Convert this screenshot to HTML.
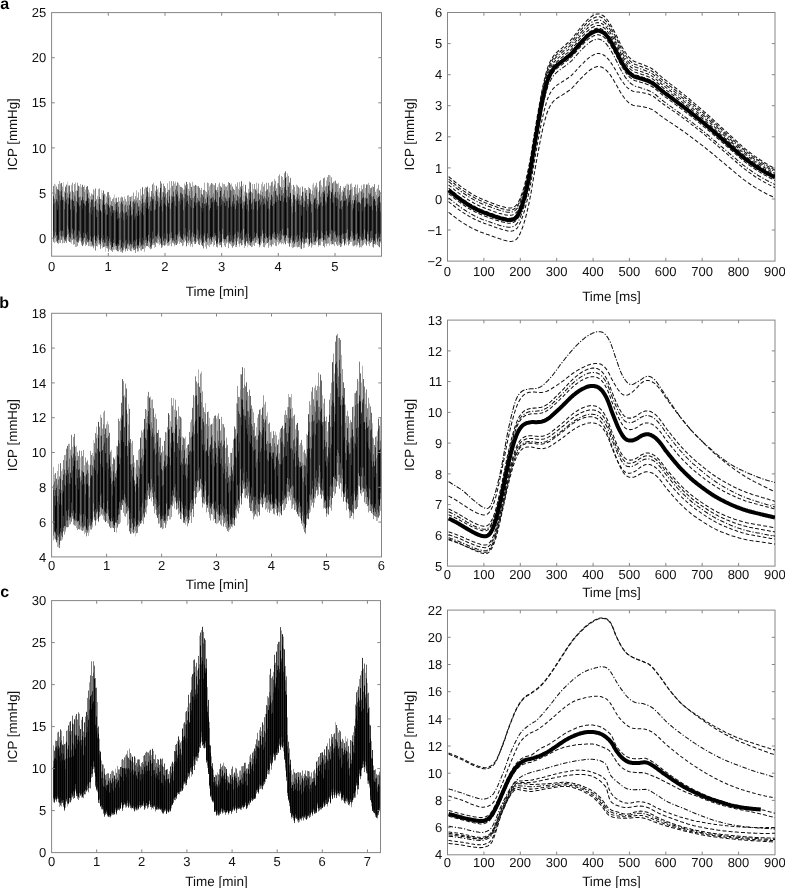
<!DOCTYPE html><html><head><meta charset="utf-8"><title>ICP</title><style>html,body{margin:0;padding:0;background:#fff}svg{display:block}text{font-family:"Liberation Sans", Arial, Helvetica, sans-serif;text-rendering:geometricPrecision}</style></head><body>
<svg width="785" height="888" viewBox="0 0 785 888">
<rect width="785" height="888" fill="#fff"/>
<text x="0.2" y="8.8" font-size="16" font-weight="bold" fill="#000">a</text>
<text x="-0.7" y="307.8" font-size="16" font-weight="bold" fill="#000">b</text>
<text x="0.2" y="597.4" font-size="16" font-weight="bold" fill="#000">c</text>
<clipPath id="ca"><rect x="51.6" y="12.6" width="329.9" height="243.6"/></clipPath>
<g clip-path="url(#ca)">
<path d="M55.5 184.5V242.3M63.5 182.1V242.9M67.5 181.6V239.4M67.5 197.2V226.1M71.5 199V240.4M75.5 191.1V239.9M75.5 197.5V237.8M94.5 190.4V246.1M94.5 201.7V239.7M97.5 203V242.7M101.5 190V245.9M101.5 199.3V240.8M105.5 194.7V251.8M114.5 194.3V250.3M124.5 213.9V242.9M128.5 200.8V242.9M132.5 196V249.1M144.5 205.6V241.4M149.5 194.9V241.4M154.5 185V248.1M158.5 187.6V243.8M158.5 202.1V232.7M166.5 193.1V244.2M166.5 197.8V239.1M170.5 187.8V243.9M170.5 199.3V240M178.5 194.9V238.2M188.5 195.9V240.6M192.5 190.7V241.8M196.5 193.6V238.3M218.5 184.3V244.4M218.5 190V239.5M243.5 183.7V242.4M243.5 195.2V240.2M247.5 193.1V247.3M257.5 188.6V244M269.5 185.5V245.7M287.5 185.5V237.4M291.5 185.2V247M295.5 191.3V246.8M307.5 189.8V244.5M312.5 184.6V246.1M312.5 204.5V232.8M330.5 175.7V243.9M330.5 190.5V241.1M338.5 191.6V240.5M346.5 183.9V245.3M351.5 188.9V239.1M356.5 187.9V247.1M360.5 204.2V241M364.5 198.3V239.6M376.5 189.5V244.3" fill="none" stroke="#000" stroke-width="1" stroke-opacity="0.2"/>
<path d="M54.5 183.8V243.2M54.5 203.2V237.6M55.5 193.8V238M55.5 202.3V232.3M59.5 181V242.7M59.5 190.8V239.7M59.5 195.4V232.1M60.5 191.5V235.9M63.5 197.1V235.7M63.5 199.7V237.6M64.5 201V240.1M67.5 192.7V234.9M70.5 199.6V236.5M71.5 184.8V243.6M71.5 200.4V233.1M75.5 182.4V247M76.5 190.3V246.9M79.5 186.5V240.8M80.5 183.9V241.2M80.5 196.5V237.7M80.5 205.2V234M81.5 187.1V244.8M84.5 185.4V242.2M84.5 192V237.5M85.5 189.4V246M85.5 200.8V243.9M89.5 192.4V245.9M89.5 198.9V240.3M89.5 212.8V239.4M90.5 196V246.5M90.5 202.1V241.3M97.5 195.9V246.6M98.5 189.1V244.3M98.5 199.1V239.7M102.5 193.1V248.2M102.5 200.3V242.6M102.5 204.7V242.2M105.5 203.7V246.3M106.5 196.4V248M109.5 195.2V249.4M109.5 206.7V243.3M110.5 197.2V250.1M114.5 202.3V246.6M114.5 210.2V242.9M115.5 198.2V249.5M119.5 201.2V249.7M119.5 213.3V245.2M119.5 217.9V240.1M120.5 197.8V252.1M120.5 203.7V249.4M120.5 212.1V239.9M124.5 196.6V248.5M124.5 205.4V245.5M128.5 195V249M128.5 209.4V244.5M129.5 197V249.8M131.5 196V251.5M131.5 206.9V248.4M132.5 201.6V247.1M132.5 214.3V243.9M136.5 190.4V248.4M136.5 200.2V245.8M139.5 206.3V242.4M140.5 188.9V250.3M140.5 201V246.6M144.5 188.8V251.8M144.5 202V246.2M145.5 187V248.1M145.5 199.4V243.1M148.5 192.3V247M148.5 197V240.4M149.5 188V248.2M153.5 182.7V245.2M153.5 193.5V243M154.5 196.1V245M154.5 210.1V243.3M158.5 197V239.7M159.5 192.3V245.3M159.5 197.9V242.1M162.5 191.8V247.1M162.5 196.9V245.2M162.5 211.4V236.7M166.5 206.4V240.4M167.5 183.2V245.8M169.5 181.2V245.4M170.5 208.8V238M174.5 183.6V246.2M174.5 196.3V244.2M174.5 201V241.2M175.5 181.6V245M178.5 183.3V241.3M178.5 201.4V233.6M179.5 185.1V243.9M179.5 198.4V236.4M179.5 201.2V231.4M183.5 189.7V245.3M183.5 197.4V241.8M184.5 183.5V242.2M184.5 189.5V238.2M184.5 198.3V236.4M188.5 188.9V245M189.5 182.2V242.8M189.5 190.9V239.4M192.5 181.9V247.1M192.5 198.1V232.5M193.5 185.7V242M193.5 198.2V235.6M196.5 185.6V242.4M197.5 186.3V241.3M197.5 202.3V229M200.5 189.9V242.5M200.5 197.7V239.7M200.5 206.6V234.4M204.5 182.5V243M204.5 189.9V236.3M205.5 190.9V246.7M208.5 183.1V245.8M208.5 190.3V237.7M208.5 205V237.8M209.5 186.4V247.1M209.5 195.6V242.5M213.5 184.7V246.5M213.5 193.3V239.1M213.5 197.8V235.9M218.5 205.7V237.8M222.5 182.8V241.4M222.5 196.6V234.1M223.5 184.1V243M223.5 193.7V239.1M226.5 198.7V241.4M227.5 185.4V242.5M227.5 190.8V235.2M228.5 198.1V242M231.5 183.4V246M231.5 190.8V241.6M234.5 197.5V239.3M235.5 184.2V247.1M235.5 194V241.3M238.5 188.7V243.7M239.5 182V246.7M239.5 190V243.9M239.5 198.8V239.2M242.5 185.9V245M242.5 200.4V239.3M244.5 191.5V248M248.5 188.8V245.3M248.5 193.3V243.2M248.5 211.1V233.8M252.5 184.1V246.7M253.5 188.9V244.9M253.5 199.2V239.1M256.5 182.6V242.6M256.5 190.7V239.7M257.5 193.8V240.6M257.5 210V235.7M261.5 184.3V243.5M261.5 195.1V239.2M262.5 182V241.2M262.5 192V233.6M265.5 191.3V245.2M265.5 197.8V239.1M265.5 205.1V233.6M269.5 192.3V239.7M269.5 209.4V235.5M273.5 186.5V244.8M273.5 191.5V238M273.5 203.9V233.8M274.5 178.8V242.8M277.5 183.2V242.3M277.5 195.3V237.9M278.5 176V244.9M278.5 183.1V239.9M282.5 176.9V243.1M282.5 187.7V235.3M283.5 179.8V244.4M286.5 176.9V241.1M287.5 173.5V243M291.5 199V239.8M291.5 206.4V235.8M292.5 189.4V248.2M292.5 202.5V243.1M292.5 212.8V242M295.5 199.2V239.7M295.5 212V242.4M296.5 184.7V246.5M296.5 197.2V242.6M299.5 188.4V247.1M299.5 195.4V245.2M300.5 187.4V248.6M300.5 199.8V242.2M303.5 191.6V248.2M303.5 198.3V244M304.5 187.9V247.7M307.5 199V237.6M308.5 186.8V246.9M312.5 190.5V244M313.5 183.1V244.9M313.5 195V242M317.5 187.2V241.5M317.5 200.1V236.7M318.5 192V246.8M321.5 185.2V241.6M321.5 193.7V238.1M321.5 202V231.5M322.5 187V241.9M322.5 191.7V238M325.5 205.3V235.5M326.5 180.4V246.1M326.5 186.3V243.3M329.5 174.8V245.8M333.5 195.1V240.4M334.5 181.5V246.1M334.5 194V241.8M337.5 192.1V241.7M338.5 182.8V245.4M338.5 199.3V236.7M341.5 191.8V246.7M342.5 190.1V243.3M342.5 195.8V238.8M343.5 186.7V241.6M346.5 199.5V238.3M347.5 183.6V241.9M347.5 189.5V239.2M351.5 183.4V242M351.5 204.2V231M352.5 187.2V245.5M352.5 210.1V232.7M355.5 193.7V239.7M356.5 193.8V245.1M356.5 200.4V234.6M360.5 191.1V247M361.5 185.4V247.5M364.5 184.3V242.9M365.5 188V244M368.5 182.9V244.2M368.5 192.8V241.1M368.5 203.6V234.5M372.5 185.9V246.7M372.5 197.2V239.7M376.5 195.2V238.6M376.5 211.3V233.7M380.5 192.2V242.9" fill="none" stroke="#000" stroke-width="1" stroke-opacity="0.3"/>
<path d="M54.5 198.8V235.7M56.5 199V236M56.5 200.3V235.1M58.5 184.1V243.8M60.5 183.6V242.9M62.5 186.6V243.3M62.5 196.9V236.7M64.5 191.5V243.1M64.5 209.4V239M66.5 203.2V237.4M68.5 185.5V241M68.5 197.7V234.2M70.5 191.6V242.3M72.5 182.7V240.2M72.5 190.6V234.7M73.5 192.1V244.7M74.5 184V244.2M74.5 195.4V239.5M76.5 201.1V241.5M76.5 212.5V236.8M77.5 182.7V246M79.5 197.1V238.1M86.5 200.7V240.4M88.5 189.7V246.1M90.5 207.4V236.2M91.5 193.5V246.4M92.5 194.5V246.4M93.5 189.4V248.4M93.5 195.1V246.3M93.5 206.9V237.1M94.5 206.9V235.6M97.5 209.9V237.9M98.5 211.2V234.8M99.5 188.5V244.7M101.5 211.8V238.2M105.5 209.5V242.5M106.5 202.7V245.9M106.5 214.9V239.2M108.5 197.8V246.6M110.5 204.9V245.1M110.5 211.5V241.8M112.5 199.1V251.9M113.5 197.6V249.8M115.5 203.9V244M115.5 211.6V245.7M118.5 197.2V251.5M121.5 196.6V251.8M123.5 200.7V250.4M123.5 212.7V247.2M123.5 220.2V243.1M125.5 199.1V251.5M125.5 204.7V249.1M126.5 201.6V249.3M127.5 195.6V251M127.5 205.7V244.6M129.5 216.4V240.6M133.5 192.6V250.3M135.5 196.1V253M135.5 201.7V249.1M136.5 213.5V239.5M137.5 197.7V251.6M138.5 192.4V251.3M139.5 200V248.2M139.5 215.3V238.4M140.5 210.4V242.3M141.5 195.5V250.8M141.5 203.7V246M143.5 194.3V248.9M143.5 202.6V244.9M145.5 203.3V240M149.5 206V242.4M150.5 196.8V249.2M155.5 190.6V247M155.5 200.6V241.6M157.5 189.4V243.3M157.5 195.8V238.6M163.5 183.6V245.1M163.5 203.6V240.4M165.5 188.1V245.2M165.5 194.3V242.4M168.5 189.9V245.7M169.5 189.9V240.8M171.5 181.1V246.4M171.5 195.6V238.1M173.5 181.4V243.4M175.5 189.5V242.9M175.5 205.6V234.8M177.5 191.4V236.2M182.5 187.9V246.1M183.5 210.3V234.1M186.5 188.4V242.3M187.5 184.2V243M188.5 204V240.9M189.5 195.5V229.9M190.5 183.4V246.4M194.5 185.8V244M196.5 202.9V234.8M197.5 198V239.1M201.5 187.9V245M201.5 194V240.6M205.5 198.8V240.2M205.5 203.8V241.2M206.5 192V248.7M207.5 182.6V244.8M207.5 194.2V238.6M209.5 210V239.5M210.5 184.6V244.7M212.5 183.7V242.2M212.5 196.8V235.5M214.5 185.3V245M217.5 187.1V247.5M217.5 192.2V243.6M219.5 182.7V245.4M221.5 199V240.4M222.5 200.6V228.8M223.5 201.4V238.4M224.5 184.2V245.6M224.5 190.2V241.5M225.5 186.4V247M226.5 186.7V243.4M227.5 200.9V235.6M228.5 182V248.2M230.5 184.6V244.3M230.5 204.7V234.9M231.5 206.5V240.4M234.5 190V244.7M235.5 209.1V233.5M236.5 186.5V246.9M237.5 182.5V241.4M238.5 196.6V236.8M243.5 202.3V229M244.5 201.3V244.3M247.5 198.5V241M249.5 181.5V244.9M251.5 192.1V247.1M252.5 193V239.1M252.5 201.8V241M253.5 209.4V240.9M254.5 184V246M258.5 183.5V243.8M259.5 193.7V247.3M260.5 190.3V245.6M260.5 194.9V242.2M261.5 201.8V236.2M262.5 196.2V230.2M263.5 186.5V246.9M264.5 184.2V247.3M264.5 196.3V242.5M266.5 182.7V243.5M266.5 190.6V236.5M266.5 199.3V237.3M268.5 182.9V247.7M268.5 208V236.5M270.5 185.7V245.3M272.5 181.4V244.4M272.5 196.7V236.7M274.5 184.5V238.6M275.5 180.9V245.7M276.5 188.3V246.3M276.5 194.9V240.2M278.5 200.2V235.6M279.5 174.4V243.4M279.5 185.6V241.2M281.5 176.1V244.2M281.5 190V239.1M282.5 195.4V229M283.5 193.2V236.3M284.5 173V242.8M286.5 190V235.6M287.5 196.3V228.2M288.5 175.9V243.6M290.5 193.9V239.6M294.5 186.7V246.8M296.5 200.9V236.6M297.5 185.5V247.5M299.5 201V235.5M303.5 207V239M304.5 200.7V243.9M305.5 188V243.2M307.5 204.1V232.7M308.5 199V239.2M311.5 193.9V247.6M311.5 204.1V241.9M313.5 202.3V236.9M314.5 187.5V245.1M315.5 185.5V245.2M316.5 182.7V242.5M316.5 189.4V238.3M317.5 208.9V230.4M320.5 180.1V245.3M320.5 196.7V239.2M322.5 206.1V233.1M324.5 177.5V247.4M325.5 186.4V243.8M325.5 200.8V240.4M326.5 202.7V231.1M327.5 177.1V243.7M327.5 193.3V238.5M328.5 175.1V243.4M329.5 182.2V237.3M329.5 190.5V233.1M330.5 198.4V234M331.5 177.3V244.5M333.5 181.7V244.4M333.5 203.1V232.7M334.5 197.1V231.5M337.5 183.9V245.9M339.5 188V244.9M339.5 194.5V242.5M342.5 206.4V233.5M345.5 185.8V243.6M347.5 205.8V229.3M349.5 190.3V244M350.5 183.9V241.9M350.5 200.2V236.2M352.5 200.2V238.4M353.5 195.5V246.5M355.5 184.6V244.9M355.5 197.3V234.2M357.5 184.6V245.2M359.5 188.2V247.5M360.5 203.6V236.8M361.5 199.8V238.7M363.5 184.4V244.9M363.5 192.9V237.1M364.5 207.4V229.7M365.5 197.6V238.6M367.5 184.5V241.7M367.5 198.1V234.4M369.5 185.1V246.1M371.5 196.3V240.3M372.5 210.1V237.9M375.5 191.7V244.9M375.5 201V242.9M377.5 188.6V245.1M377.5 198.2V241.9M378.5 184.8V246.2M380.5 202.5V241.1M380.5 211.8V233.8" fill="none" stroke="#000" stroke-width="1" stroke-opacity="0.4"/>
<path d="M53.5 186V241.9M53.5 204.4V230.9M56.5 186.5V241.5M57.5 201.4V241.4M58.5 205.2V238.5M60.5 200.4V230.6M61.5 190.7V236.4M65.5 193V239.5M66.5 184.6V242.8M66.5 199.3V237.2M78.5 197.6V240.1M79.5 206.3V231.4M81.5 199.9V242.7M83.5 187V244.5M83.5 200.1V239.5M84.5 203.8V238M85.5 205.7V233.4M86.5 186.8V244.9M88.5 197.9V242.1M92.5 210.4V238M95.5 188.4V250.6M96.5 199.3V246.1M96.5 209.5V240.9M99.5 197V242.7M100.5 199V248.8M104.5 193.9V246.7M104.5 213.2V237.9M107.5 192.3V248.5M107.5 204.3V245.8M108.5 191.9V251.7M109.5 207.7V238.6M111.5 201.2V250.7M111.5 205.9V248.8M111.5 216.1V241.9M113.5 212.9V239.4M116.5 197.7V250.2M117.5 211.6V248.5M118.5 206.7V246M121.5 217.7V247.6M122.5 197.4V252.8M122.5 204V250.1M130.5 196.9V251M134.5 199.3V250M135.5 216.5V241.5M137.5 202.8V248.6M143.5 215.2V240.5M146.5 196.6V239.6M147.5 191.3V242.8M150.5 201.4V247.1M151.5 191V248.6M151.5 196.5V245.6M152.5 184.4V244.7M152.5 198.6V239.4M153.5 199.1V238.3M156.5 192V236.6M159.5 206.5V236.3M160.5 181.2V243.7M161.5 183.5V247.9M161.5 199.8V245.1M161.5 206.1V243M163.5 192.4V241.2M167.5 192.1V243M169.5 196.2V233.7M171.5 203.1V232.3M172.5 185.8V242.7M173.5 191.5V240.5M173.5 197.1V238.1M177.5 182.3V243.6M180.5 186.8V242.2M180.5 192.8V237.1M180.5 204.3V235.1M181.5 187.1V242.9M181.5 193.4V238.4M185.5 185.4V240.5M185.5 193.8V235.3M185.5 206.7V227.9M187.5 195.3V236.7M190.5 198.1V241.4M190.5 206.3V238M191.5 200.1V236.5M191.5 207.9V233.3M193.5 208.1V237.1M194.5 196.3V240.9M195.5 193V241.6M198.5 186.1V244.2M198.5 200.4V240.6M198.5 202.1V230.9M199.5 187.8V245.1M199.5 205.2V235.9M201.5 207.9V238.1M203.5 190V248.4M203.5 197.2V241.9M203.5 208.1V236.2M204.5 204V233.4M210.5 198.5V238.9M211.5 183V244.2M214.5 200.3V237.4M214.5 202.2V232.9M215.5 183.1V240.7M215.5 189.9V233.3M216.5 190.1V246.8M219.5 197.1V242.9M219.5 197.6V231.3M220.5 186.2V244.9M225.5 197.6V239.3M230.5 190.1V241.8M232.5 186.6V247.6M232.5 201.5V242.7M232.5 203.9V235.7M233.5 188.9V246M234.5 204.1V234.5M237.5 195.3V238.3M238.5 203.2V232.3M240.5 186.6V243.2M241.5 189V240.5M242.5 208.5V239.9M244.5 205.4V237.7M245.5 195.8V243.2M246.5 196.6V237.5M247.5 204.6V243.3M249.5 192.5V240.8M254.5 201V232.4M258.5 193.2V238.4M268.5 197.1V241.8M270.5 199.7V240.1M270.5 205.4V236.5M271.5 182.2V246.6M274.5 203.7V231.8M276.5 202.1V237.2M277.5 196.7V233.7M279.5 193.9V233.4M280.5 186.9V242.4M280.5 201V240.1M281.5 195.9V234.5M283.5 201.6V235.4M284.5 187.3V240.6M288.5 186.8V238M288.5 197.4V228.5M289.5 197V242.3M289.5 200.2V236.7M290.5 177.9V243.2M293.5 184.9V247.4M294.5 199.7V235.9M297.5 193.8V242M298.5 187.1V246.9M298.5 198.8V241M300.5 204.8V238.9M301.5 205.1V244.6M302.5 186.5V242.5M304.5 206.8V242.5M305.5 192.8V237.2M306.5 190V242.6M306.5 195.9V237.7M308.5 206.6V239M309.5 188V245.9M309.5 204.2V238.8M310.5 189.5V242.5M310.5 200.9V237.9M310.5 202.5V232.6M314.5 198.4V242.2M316.5 203.9V237.2M318.5 203.9V244.8M319.5 181.4V245.2M319.5 190.6V238.9M323.5 178.3V246M324.5 190.5V239.6M331.5 193.5V241.1M332.5 188.5V239.2M335.5 180.6V241.9M336.5 183.5V244.4M337.5 198.5V235.2M339.5 208.5V235.4M340.5 185.9V247M341.5 200.2V244.2M345.5 195.7V240.6M345.5 200.6V233.3M346.5 198.6V232.9M348.5 184.7V245.4M348.5 197.8V240.9M350.5 189.9V236.7M354.5 187V245.7M357.5 194.7V241.3M358.5 192.6V242.7M359.5 202.8V244.7M361.5 191.5V240.2M362.5 189.2V245.7M363.5 197.2V239.8M369.5 194.4V240M370.5 188.3V243.1M370.5 193.3V237.8M371.5 187.5V242M373.5 187V247.5M373.5 196V244M373.5 200.7V240.3M374.5 184.1V244.1M377.5 204.5V240.5M379.5 202.2V236" fill="none" stroke="#000" stroke-width="1" stroke-opacity="0.5"/>
<path d="M53.5 196.3V239.2M57.5 189.1V243.1M58.5 189.8V240M61.5 182.9V239.8M61.5 195.7V230.5M65.5 186.7V241.2M65.5 202.7V236.8M68.5 204.3V229.1M69.5 185.5V242M69.5 193.8V237M70.5 209.4V238.5M74.5 206.2V230.6M77.5 190.8V241.9M78.5 185.8V242.6M81.5 201V237.6M82.5 184.8V246M82.5 197.1V238.4M82.5 208.7V240.9M87.5 186.1V242.3M87.5 193.8V238.6M87.5 198.9V231.8M88.5 203.1V240.3M92.5 199.6V244.6M95.5 201.1V243.3M99.5 204.3V239.9M100.5 211.7V244.1M103.5 190.5V247.1M113.5 210.2V243.3M116.5 202.5V245.7M117.5 202V251.2M118.5 218.1V244.1M121.5 201.7V247.6M122.5 210.7V242.2M125.5 212.6V240.6M126.5 219.2V239.7M127.5 215.5V243.4M129.5 204.9V245.8M131.5 215.3V244.7M133.5 201.3V248.1M134.5 203.5V246.5M138.5 206.5V246.3M141.5 212.6V244.6M142.5 187.2V249.1M142.5 198.7V244.3M146.5 187.6V246.1M147.5 186.6V246M148.5 208.9V235M150.5 210.8V238M151.5 210.9V242.8M155.5 209.4V236M156.5 185.7V242.7M157.5 201V234.4M164.5 186.2V245.7M164.5 197.2V238.7M165.5 205.1V238.4M167.5 200.5V233.7M172.5 196.7V240.5M176.5 185.7V245M177.5 196.7V234.4M181.5 199.4V238.4M182.5 194.3V239.3M182.5 200.6V239.7M186.5 181.9V246.3M187.5 200.8V232.3M191.5 186.9V243.9M195.5 184.9V243.9M199.5 201.3V238.5M202.5 194.6V246M206.5 202.8V242M216.5 209.9V235.8M217.5 205.9V242.2M220.5 206.7V234.1M221.5 187.4V247.3M221.5 204.7V242.3M226.5 201.2V237M228.5 207.6V235.6M229.5 183V243.4M233.5 195.1V242.3M236.5 200.4V244.9M236.5 205.7V237.4M237.5 200.8V231.5M240.5 197.2V238.4M241.5 181.2V245.3M245.5 184.9V245.8M246.5 192.5V241.4M250.5 182.6V245.8M250.5 191.4V242.4M250.5 198.9V236.1M251.5 203.5V241.7M254.5 198.5V238.2M255.5 189.4V242.7M255.5 205.1V235.8M256.5 201.2V233.3M259.5 207V243.4M260.5 204.6V236.2M263.5 198.6V243M267.5 189.4V243.1M285.5 171.4V244.3M286.5 202.4V235.2M289.5 182.5V246.7M293.5 206.1V241.3M294.5 195.4V243.6M301.5 195.8V248.9M302.5 192.1V237.7M305.5 201.6V239.1M311.5 212.5V243.4M315.5 197.7V241.2M315.5 208.3V240.7M318.5 206.4V240.1M320.5 202.6V238.3M323.5 191.9V240.3M332.5 183.2V244.1M335.5 192V234.7M335.5 198.1V231.2M336.5 197.5V237.7M340.5 208.8V237.1M341.5 209.3V235M343.5 191.6V239M343.5 201.4V233.9M344.5 187.8V245.5M344.5 200.6V243.7M344.5 200.9V233.3M348.5 202.8V237.6M349.5 195V240.3M353.5 203.5V240.7M359.5 202.2V236.2M366.5 184.6V245.5M367.5 203.8V231.6M371.5 205.5V230.6M374.5 199.2V241.2M378.5 208V232.8M379.5 190.3V247.2M379.5 196.2V241.4" fill="none" stroke="#000" stroke-width="1" stroke-opacity="0.6"/>
<path d="M72.5 199.4V228.8M73.5 200.9V238.7M73.5 210.2V233M78.5 204.4V230.3M86.5 201V235.1M91.5 199.6V241.2M91.5 214.4V241.7M95.5 206.1V240.2M103.5 195.5V239.8M103.5 203.1V235M104.5 204.9V242.7M108.5 205.3V241M112.5 206.2V246.5M112.5 213V247M126.5 211.9V247.9M130.5 201.3V244M130.5 210.3V241.8M133.5 209.3V241.5M152.5 200.5V231.6M156.5 204.2V236.6M160.5 187.9V237.5M160.5 203.6V238.7M164.5 203.1V233.5M168.5 203.1V242.2M168.5 207.1V241.3M172.5 202V238.2M176.5 194.2V239.8M186.5 202V236.8M202.5 203.1V243.2M206.5 205.9V238.6M207.5 197.1V233.5M211.5 198.2V240.6M211.5 203.6V237.5M212.5 202V237.2M215.5 199.1V235.4M216.5 202.1V243.7M220.5 191V242.2M224.5 202.7V239.1M225.5 206V239.1M229.5 197.6V241.1M229.5 200.7V231.9M246.5 209.1V233.2M249.5 200.2V238M251.5 209.2V242.5M255.5 201.9V237.2M258.5 201.4V237.8M259.5 199.5V244.8M264.5 203.4V238M267.5 201.3V237.7M271.5 194.8V239.7M271.5 202V238.8M272.5 206V233.7M275.5 191V239.3M284.5 197.8V235M285.5 178V237.9M293.5 194.7V240.4M297.5 199.7V234.8M298.5 204.3V239M302.5 202.9V231.8M306.5 210.4V238.5M309.5 193.2V244M323.5 197.2V240.1M328.5 185.7V237.3M328.5 195.2V235.4M340.5 201.2V243M349.5 201.8V239.5M354.5 201.4V240.4M357.5 203.1V233.2M358.5 201.8V238.6M362.5 198.1V240.7M365.5 206.5V238.8M366.5 198.5V238.5M369.5 205.7V241.6M374.5 199.2V239.8M375.5 205.7V234.2M378.5 196.9V238.8" fill="none" stroke="#000" stroke-width="1" stroke-opacity="0.7"/>
<path d="M62.5 200.1V231.1M77.5 202.2V235.3M83.5 203.2V232.7M96.5 217.1V236.2M100.5 210.1V240.5M116.5 209.4V245.8M134.5 219.4V240.1M137.5 216.1V245M176.5 206.8V234.9M194.5 202V233.8M195.5 205.6V237.8M210.5 207.9V236.8M233.5 206.4V238.4M240.5 204.2V233.2M241.5 203.5V231.1M263.5 204.8V233.7M280.5 200.8V230.9M285.5 198.3V234.7M290.5 193V237.8M314.5 199.6V232.9M319.5 205.1V238.7M324.5 193.6V235M327.5 197.1V235.3M331.5 192.2V229.8M336.5 206V236.4M353.5 208.1V235.6M354.5 200V239.2M370.5 206.8V231.3" fill="none" stroke="#000" stroke-width="1" stroke-opacity="0.8"/>
<path d="M107.5 214.6V236.3M117.5 219.5V243.7M138.5 211V244.7M142.5 207.5V237.9M146.5 208.1V236.7M147.5 202.6V241.3M202.5 211.7V234.7M267.5 208.9V237.9M332.5 202.3V230.6M358.5 211.3V238.8M362.5 211.1V233.6M366.5 203.9V240.5" fill="none" stroke="#000" stroke-width="1" stroke-opacity="0.9"/>
<path d="M57.5 209.7V235.2M69.5 198.1V232.3M245.5 201.5V234.7M275.5 201.3V234.5M301.5 215.6V240.8" fill="none" stroke="#000" stroke-width="1" stroke-opacity="1.0"/>
</g>
<path d="M108.3 256.2v-3.2M108.3 12.6v3.2M165 256.2v-3.2M165 12.6v3.2M221.7 256.2v-3.2M221.7 12.6v3.2M278.3 256.2v-3.2M278.3 12.6v3.2M335 256.2v-3.2M335 12.6v3.2M51.6 238.2h3.2M381.5 238.2h-3.2M51.6 193h3.2M381.5 193h-3.2M51.6 147.9h3.2M381.5 147.9h-3.2M51.6 102.8h3.2M381.5 102.8h-3.2M51.6 57.7h3.2M381.5 57.7h-3.2" stroke="#868686" stroke-width="1" fill="none"/>
<rect x="51.6" y="12.6" width="329.9" height="243.6" fill="none" stroke="#868686" stroke-width="1"/>
<g font-size="13" fill="#111" text-anchor="middle">
<text x="51.5" y="270.7">0</text>
<text x="108.2" y="270.7">1</text>
<text x="164.9" y="270.7">2</text>
<text x="221.6" y="270.7">3</text>
<text x="278.2" y="270.7">4</text>
<text x="334.9" y="270.7">5</text>
</g>
<g font-size="13" fill="#111" text-anchor="end">
<text x="46.3" y="242.8">0</text>
<text x="46.3" y="197.6">5</text>
<text x="46.3" y="152.5">10</text>
<text x="46.3" y="107.4">15</text>
<text x="46.3" y="62.3">20</text>
<text x="46.3" y="17.2">25</text>
</g>
<text x="216.9" y="295.5" font-size="13.5" fill="#111" text-anchor="middle">Time [min]</text>
<text transform="translate(17.2 134.3) rotate(-90)" font-size="13.3" fill="#111" text-anchor="middle">ICP [mmHg]</text>
<clipPath id="cb"><rect x="51.6" y="313.3" width="329.9" height="243.59999999999997"/></clipPath>
<g clip-path="url(#cb)">
<path d="M76.5 460.6V523.3M80.5 457.5V529.7M89.5 465.6V532.7M93.5 439.9V518.6M115.5 456.5V528M128.5 403.9V524M135.5 467.6V536.5M166.5 454.3V519.1M194.5 396.8V498.4M194.5 423.7V485.4M240.5 389.6V486.4M271.5 431.3V510.9M279.5 432.4V516.8M358.5 381.4V499.9M365.5 392.7V504.3" fill="none" stroke="#000" stroke-width="1" stroke-opacity="0.2"/>
<path d="M53.5 466.9V540.4M54.5 474.5V538.7M57.5 471V546.9M57.5 484.8V540.2M58.5 463.8V547.3M58.5 495.8V536.1M61.5 471V540.8M61.5 490V533M62.5 468.8V539.6M65.5 454.7V531.9M65.5 473.4V529.2M68.5 467.1V516.4M69.5 443.8V524.6M72.5 446.8V518.6M72.5 470.6V513.3M76.5 445.9V528.1M80.5 476.4V527.2M80.5 481.6V515.6M81.5 470.2V525.8M84.5 465.4V534.1M84.5 475.7V526.5M85.5 476.4V526.3M88.5 464.6V535.9M88.5 473V530.4M89.5 485.6V525.3M89.5 497.3V522.9M92.5 453V527.4M93.5 456.2V511.7M93.5 468.3V503.4M96.5 426.7V520.4M97.5 434.7V519.1M100.5 414.7V515.8M100.5 435.6V507.7M103.5 412.3V519.5M103.5 424.2V514.3M103.5 445.7V503M107.5 421.3V523.1M107.5 438.1V513.2M111.5 449.9V527.8M111.5 471.2V521.6M116.5 445.9V532.7M120.5 417.8V522.5M120.5 458.3V506.8M124.5 395.2V516M124.5 427.3V502.5M127.5 413.7V525.7M128.5 424.5V510.7M131.5 443.2V533.4M131.5 464.1V527.7M132.5 463.6V523.1M134.5 462.6V532.6M135.5 484.1V530.9M135.5 491.6V521.4M138.5 450.3V527.1M138.5 465.7V524.6M138.5 487.6V520.3M142.5 432.4V521M142.5 448.7V517.2M143.5 455.1V514.8M146.5 409.8V514.1M146.5 422.9V507.2M147.5 396.1V505.7M147.5 416.2V499.4M150.5 396.5V498M150.5 407.8V492.2M151.5 399.7V501.4M151.5 422.3V489.5M154.5 434.6V503.3M155.5 413.6V509.6M155.5 443.2V504.2M155.5 454.6V497.6M159.5 437.6V523.5M159.5 461.7V505.2M163.5 451.1V528.4M166.5 432.6V524.5M169.5 415.1V519.5M170.5 421.2V519.4M170.5 442.7V507.6M173.5 398.1V503.6M173.5 431.7V495.5M174.5 409.6V508.6M174.5 433.1V497.6M177.5 419.3V508.8M177.5 443.1V502.6M178.5 448V505.6M181.5 418.3V519.6M181.5 450.6V513.1M182.5 436.3V514.3M185.5 436.7V524.7M186.5 448.1V521.5M186.5 479.1V509.1M190.5 422.2V515.9M190.5 437.7V512.8M197.5 383.5V492.8M198.5 369.4V492.3M198.5 403.5V470.2M201.5 371.5V497.3M201.5 402V489.7M204.5 425.3V498.6M205.5 403V502M205.5 413.7V490.3M208.5 411.5V512M208.5 426.2V503.1M209.5 417.9V517.8M209.5 449.8V514.2M209.5 447V505.9M212.5 423.5V514.7M212.5 435.2V503.9M213.5 418.2V520.6M213.5 448V509.1M213.5 458.7V502.3M216.5 418.4V524.2M217.5 415.7V523.3M217.5 430.8V511.2M217.5 456.5V514M222.5 423.9V519.7M222.5 466.5V511.3M225.5 448.1V527.1M225.5 463.3V521.7M226.5 447.5V522.7M229.5 463.2V530.2M229.5 475.1V527M229.5 481.3V514.8M232.5 447.9V527.4M236.5 403.2V518.5M236.5 435.9V507.2M240.5 374.2V496.1M244.5 368.1V497.6M244.5 384.6V489.3M248.5 395.7V495.8M248.5 424.6V482.1M252.5 408.7V513.3M256.5 427.1V515.8M256.5 439.9V508.8M256.5 462.3V499.7M257.5 417.7V516.8M257.5 439.5V511M257.5 458.8V502.1M260.5 409.1V503.7M264.5 404.4V501.8M267.5 412.3V512.1M268.5 443.6V498.9M275.5 431.6V509.2M275.5 446.8V504M278.5 459.1V508.3M279.5 453.2V512M283.5 429.3V510.6M283.5 444.3V503M287.5 407V497.7M287.5 418V491.6M288.5 393.9V500.8M291.5 394V508.9M291.5 417.5V494.9M292.5 407.9V508.3M292.5 418.4V505.1M295.5 429.2V509.5M295.5 446.4V503.1M295.5 466.6V501.4M299.5 445.1V516.5M299.5 461.4V511.9M302.5 445.4V526.1M302.5 462.8V515.8M302.5 478.1V511.8M303.5 451.9V529.3M303.5 465.2V523.4M306.5 433.9V525.1M306.5 456.5V518.8M306.5 458.7V515.1M310.5 404.9V511.7M310.5 436.9V500.1M310.5 457.9V496.3M311.5 421.7V499.7M314.5 387.8V502.9M314.5 406.4V496.8M314.5 420V486M318.5 407V482.9M319.5 386.5V486.9M319.5 406.7V483.5M322.5 395.2V494.8M323.5 403.4V508.6M327.5 431.3V513.6M327.5 458.5V496.3M330.5 393.2V508M330.5 448.1V484.9M334.5 373.4V495.8M334.5 406.6V486.4M337.5 367.7V463M338.5 338.1V485.5M341.5 354.9V496.9M341.5 399.7V483.7M341.5 425.5V475.2M345.5 404.7V501.7M345.5 422.7V491.5M349.5 423.2V518.4M349.5 443.1V512.3M350.5 438.1V510.7M353.5 406.4V519.3M354.5 393.3V508.6M354.5 416.5V494.3M354.5 442.9V491.1M358.5 403.4V485.4M361.5 382.5V495.9M361.5 412V489.8M362.5 365.8V492.5M365.5 404.3V497.3M369.5 403.5V511M369.5 419.9V499.2M372.5 423.2V514.2M376.5 436.1V521M376.5 458.2V517.1M376.5 473.1V514.3M377.5 431.2V520.8M377.5 440.9V517.1M380.5 417.2V510.9" fill="none" stroke="#000" stroke-width="1" stroke-opacity="0.3"/>
<path d="M53.5 484.8V535.7M53.5 490.1V524M54.5 481.6V531.1M57.5 501.6V535M58.5 479.5V537.1M61.5 504.9V535.7M62.5 493.2V533.3M64.5 455.1V534.5M65.5 485.9V526M66.5 460.5V520.7M68.5 443.8V527M69.5 458.6V520.3M70.5 449.7V524.1M72.5 457.7V516M73.5 436.9V524.5M75.5 447.1V525.9M75.5 456.2V520.8M76.5 468.9V520.4M77.5 452.1V530.1M81.5 450.9V530.3M81.5 479.9V514.4M83.5 450V530.4M84.5 483.9V525.5M85.5 457.5V532.5M85.5 494.2V516.3M88.5 486.3V526.4M90.5 450.9V529.5M92.5 475.9V519.6M96.5 438.2V513.6M96.5 453.3V512.1M97.5 474.1V508.8M100.5 463.7V495.7M102.5 428.6V515.8M104.5 410.6V520.5M104.5 434.1V515.7M106.5 424.4V521M107.5 463.1V500.9M108.5 424.3V523.7M111.5 484V518.2M112.5 464.1V527.6M115.5 473.3V522.9M116.5 470.5V522.8M116.5 477.8V522.6M119.5 421V523.8M119.5 443.3V514.2M120.5 430.6V509.8M123.5 381.1V512.8M124.5 426.9V494.4M125.5 383.6V516.8M127.5 446V511.3M128.5 440.6V508M131.5 469.9V518.8M132.5 440.8V532.2M136.5 474.4V524.3M139.5 448.9V526M139.5 467.8V521.9M139.5 479V510.9M141.5 430.4V523.2M142.5 465.6V503.2M143.5 429.6V524M143.5 461.6V513.1M146.5 440.1V500.4M150.5 430.4V490.3M151.5 436.4V479.2M152.5 399.5V497M152.5 428.3V493M154.5 417.2V513.4M156.5 432.7V509.6M158.5 451.8V514.4M158.5 475.8V505.8M159.5 446.7V514M162.5 445.8V529.1M162.5 470.5V519M163.5 466.2V521M163.5 484.7V516.1M167.5 427V520.9M170.5 465.1V504.8M171.5 397.9V516.9M175.5 399.7V501.4M178.5 406.5V514.6M178.5 436.1V508.2M179.5 416V513.3M182.5 445.1V507.9M182.5 464.1V504.6M186.5 458.1V515.8M187.5 445.1V526.4M187.5 477.3V510.4M191.5 419.6V523M191.5 436.8V512.1M193.5 425.7V505.7M194.5 434.1V490.9M195.5 395.8V498.1M197.5 405V482.1M198.5 383V481M200.5 373.6V488.7M201.5 429.7V483.3M202.5 391.4V507.6M204.5 411.9V504.3M204.5 444.5V486M205.5 451.7V481.1M206.5 423.9V512.4M210.5 424.8V520.5M212.5 449V503.9M216.5 447.9V511.9M218.5 413.3V522.7M218.5 440.7V514.7M220.5 430.5V524.3M221.5 416.8V525.6M221.5 440.5V515.6M221.5 458.4V509.3M222.5 446.5V512.8M225.5 478.6V514.7M226.5 437.7V528.7M226.5 472V509.2M228.5 457.1V531.8M230.5 452.7V528.8M232.5 470.3V524.4M233.5 439.5V524.3M233.5 465.1V514.2M236.5 457.7V508.7M237.5 386.1V511.2M237.5 403.7V505.2M239.5 397.1V508M239.5 442.5V483.4M240.5 417.1V469.3M243.5 388V488.8M243.5 409.3V484.2M243.5 415.2V472.7M244.5 415.6V482.1M248.5 411.4V492.6M249.5 417.3V502.8M252.5 426.3V500.1M252.5 447V500.7M253.5 412.3V519.4M253.5 430V511.5M260.5 432V500M261.5 414.8V504.5M261.5 434.4V497.7M263.5 395.3V504M264.5 422.4V497.9M264.5 450.4V483.8M265.5 401.9V509.6M266.5 415.8V508.3M267.5 441V502.6M268.5 423.8V509.3M270.5 432.2V510.5M271.5 446.1V504.7M271.5 456.4V494.3M274.5 435V514.6M274.5 443.2V507.6M275.5 466.9V498.6M276.5 435.3V512.8M276.5 455.4V505.1M278.5 439.5V512.3M278.5 460.9V501.7M279.5 464.1V502.7M280.5 429.2V513.4M280.5 437.7V505.7M282.5 441.7V499.8M283.5 457.2V500.5M284.5 414.7V510M284.5 428.2V499.6M285.5 410.4V507.7M288.5 407.1V491.6M290.5 397.4V500.3M291.5 448V486.8M293.5 416V504.2M294.5 438.7V500.2M296.5 436.9V505.3M298.5 459.6V504M300.5 443.1V518.4M303.5 481.7V521.9M309.5 401.1V513.2M309.5 422.2V509.4M311.5 391.5V505.7M315.5 385.4V498.3M315.5 411.6V493.7M317.5 386V496.2M318.5 372.6V494.7M323.5 421.8V496.3M323.5 449.2V489.9M326.5 416.6V516.8M327.5 456.4V507.3M330.5 426.8V496.3M331.5 382.8V510.5M331.5 405.7V504.6M333.5 353.6V491.8M334.5 421.5V478M337.5 333.9V481.4M338.5 376.5V475M340.5 373.5V477.9M342.5 368.9V491.5M342.5 395.8V478.7M345.5 453V484.2M346.5 415.8V510.3M346.5 440V502.6M347.5 410.8V503.4M350.5 420.1V518.1M353.5 448.5V501.1M355.5 405.2V501.1M357.5 437.1V491.2M358.5 427.4V473.2M362.5 399.7V487.6M365.5 429.3V489M368.5 397.8V512.4M372.5 437.3V508.5M373.5 438.4V519.2M373.5 454.3V515M377.5 455.1V509.9M380.5 440.6V499.1M380.5 448.7V493" fill="none" stroke="#000" stroke-width="1" stroke-opacity="0.4"/>
<path d="M54.5 496V532.2M55.5 473V539.5M55.5 489.9V533.5M59.5 476.5V548.1M59.5 489.2V544.6M62.5 480.1V537.2M63.5 460.1V531.4M64.5 469.7V526.2M64.5 484.6V525.8M66.5 448.7V527.2M68.5 473.6V509.6M69.5 483.6V517M71.5 434.9V521.8M71.5 455.5V512.8M73.5 453.7V518.8M74.5 433.9V525.3M77.5 460.3V520.5M78.5 456V529M79.5 450.5V529.4M79.5 468.8V525.1M82.5 456.1V531M82.5 471.4V527.5M83.5 473.2V527.5M86.5 462.3V536.3M87.5 460.4V532.7M87.5 470.2V530.4M90.5 464.8V526.2M90.5 477.9V518.8M91.5 455V529.5M92.5 465.4V522.2M94.5 443.1V520.3M94.5 467.6V511M95.5 433.1V525.5M95.5 452.6V520.6M97.5 448.6V511.5M99.5 426.7V516.7M99.5 451.2V511.9M101.5 417.6V514.4M104.5 442.6V511.4M108.5 436.3V516M108.5 468.9V509.7M110.5 451.7V528.2M112.5 481.3V521.3M112.5 495.5V521.1M114.5 480.8V522.8M115.5 476.9V522M118.5 418.6V524.4M121.5 419.7V502.8M123.5 396.2V500.4M125.5 397.5V503.5M127.5 455.8V505.8M132.5 476.3V523.3M136.5 459.8V533.3M137.5 460.1V532.8M145.5 409V512.3M148.5 391.8V495.6M152.5 432.8V487.1M153.5 436.8V499M156.5 418.9V515.3M158.5 429.9V523.6M160.5 437.8V527.8M160.5 462.8V520.5M162.5 485.9V515.7M165.5 431.9V527.9M165.5 455.4V520.7M166.5 466V503.5M167.5 456.1V516.1M167.5 463.8V510.3M169.5 429V509.6M172.5 405.7V506.2M172.5 436.8V501.2M173.5 441.3V495.4M174.5 451.9V487.3M177.5 443.1V500.3M179.5 429.1V500.9M180.5 437.4V510.8M181.5 462.5V501.8M184.5 438.7V523M187.5 464.6V519.1M189.5 431.9V520.3M189.5 464.6V507.5M190.5 450.6V503.3M191.5 452.1V499.9M192.5 432.4V503.6M193.5 395V517M193.5 450.9V491.5M195.5 376.3V503.8M196.5 381.5V497.1M197.5 433.4V479.9M200.5 416.6V478.7M202.5 418.6V502.7M203.5 407.4V503.4M206.5 450.7V501.1M208.5 456V495.5M214.5 415.9V518.9M214.5 440.9V510.6M216.5 463V508.7M220.5 442.9V514.9M223.5 424.2V526.5M223.5 444.6V515.6M224.5 427.4V523.3M224.5 440.6V517.7M227.5 444.9V531M227.5 466.3V521M230.5 476V524.1M232.5 473.9V518.2M233.5 481.2V517.8M235.5 429.1V517.6M235.5 438.7V510M238.5 396.8V513.5M238.5 411.3V501M239.5 414V503.6M245.5 386.3V498.1M245.5 416.2V486.6M246.5 400.5V482.2M247.5 392V498.6M247.5 411V486.6M249.5 389.7V507.9M249.5 441.5V481.4M250.5 408.9V496.2M251.5 405.3V511M251.5 424V503.4M253.5 450.9V496.6M254.5 423V516.3M254.5 437.3V510.5M255.5 449.1V504.8M258.5 414.2V512.1M260.5 451.6V492.3M261.5 448.3V497M262.5 430.2V495.7M263.5 419.1V494.1M266.5 444.1V502.7M267.5 459.4V495.3M268.5 461V500.4M269.5 422.7V512.9M269.5 443.5V502.3M272.5 438.2V509M272.5 452.7V504.3M273.5 431.1V513.7M282.5 459.7V491.3M286.5 414.9V504M286.5 433V496.7M288.5 432.9V484.8M289.5 397.1V496.5M289.5 418.4V492.1M290.5 408.8V488.7M292.5 449.8V485.3M293.5 440.4V498.1M294.5 414.6V510M296.5 424.7V511.8M296.5 450.9V502.3M297.5 439V511.1M298.5 430.4V516.4M298.5 457.2V507.7M299.5 467.1V502.2M300.5 462.1V512.9M301.5 439.9V523.7M304.5 449.8V532.1M304.5 465V524M305.5 453.6V533.6M305.5 466.1V527.7M307.5 435.2V518.5M312.5 387.2V502.6M313.5 399.2V507.6M313.5 433.1V497.8M316.5 390.3V490.4M316.5 400.8V487M317.5 400.3V489.7M318.5 419.5V477.3M319.5 420.4V465.3M320.5 411.3V487.7M320.5 421.4V472M322.5 425.7V491.3M322.5 422V478.8M324.5 398.7V507.7M324.5 416.5V502.3M325.5 421.2V508.8M326.5 442V513.3M329.5 399.7V506.7M329.5 452.8V486.9M332.5 400.4V487.3M333.5 381.5V476.8M335.5 341.6V493.6M336.5 361.9V480.9M337.5 388.2V449.9M338.5 396.8V453M339.5 338V488.7M339.5 359.8V474.7M340.5 339.9V483.1M344.5 404.4V493.5M348.5 416.3V508.8M348.5 450.7V497.3M350.5 453.3V510M351.5 437.5V511.4M353.5 436.4V513.6M355.5 392.8V509.4M357.5 379V507.1M357.5 403.8V494.9M359.5 361.7V486.4M362.5 402.7V468M363.5 398.7V488.1M364.5 386.5V502.3M366.5 389.4V504.1M366.5 417V491.5M367.5 408.3V506.1M368.5 426.2V505.4M368.5 447.6V501.2M369.5 449.3V488.7M370.5 406.4V511M370.5 430.3V504.1M370.5 452.4V490.4M371.5 429.2V503.9M372.5 466.6V504.3M374.5 445V515.9M375.5 436.9V516.8M378.5 428.9V512.4M379.5 425.7V515.6" fill="none" stroke="#000" stroke-width="1" stroke-opacity="0.5"/>
<path d="M56.5 478.7V542.4M56.5 487.7V540.2M60.5 463.2V540.7M60.5 478.8V531.8M63.5 474.6V527.7M67.5 445.9V527.3M67.5 470V520.4M67.5 483.6V514.9M70.5 483.8V517.7M74.5 445.6V520.4M75.5 484.9V513M79.5 477.7V513.8M91.5 475V524.7M94.5 459.6V517M101.5 435.7V507.4M106.5 438V513.8M106.5 462.4V508.8M109.5 432.8V526.5M109.5 454.5V518.5M110.5 466.7V521.6M113.5 457.6V528.1M113.5 471.3V524.7M114.5 459.3V532M117.5 446.3V527.5M118.5 440.3V515M121.5 402.8V510M122.5 379V505.1M122.5 435.2V490.4M126.5 388.5V513.6M126.5 409.9V506.8M126.5 422.5V501.7M129.5 408.8V531.4M130.5 439.1V533.9M130.5 464.5V528M130.5 481.9V513M133.5 455.2V533.4M134.5 480.4V526.6M137.5 482.9V519.5M140.5 459.9V521M141.5 457.6V520.1M141.5 474.1V507.2M147.5 429.7V490.5M148.5 411.1V483.3M153.5 408.4V506.1M154.5 448.6V491.8M156.5 453.4V499.5M157.5 441.5V507.5M160.5 455.4V516.4M161.5 452.5V527.4M164.5 440.8V522.8M164.5 470.2V515.3M169.5 457.2V508.4M175.5 417V497.3M175.5 428.9V484.4M176.5 410.6V509.6M179.5 449.9V497.9M180.5 416.9V519M183.5 437.7V522.7M183.5 458.3V517.8M184.5 449.8V520.4M184.5 465V509M185.5 463.5V517.1M189.5 451.6V510.2M192.5 407.8V509.1M196.5 419.3V470.8M199.5 386.8V490.7M199.5 418.9V487.2M200.5 392.9V479.2M206.5 450.5V504.7M207.5 412.1V507.9M211.5 424.2V514.1M215.5 415.5V523.1M215.5 442.6V519.2M218.5 446V505.2M224.5 468.9V508.9M228.5 477.4V527.7M230.5 490.6V519.6M231.5 452.9V526.5M231.5 467V523.9M234.5 426.5V525.8M241.5 374.4V504.5M241.5 399.2V497.9M242.5 367.2V493.3M246.5 382.3V495.4M250.5 396V510.9M255.5 435.8V514.2M259.5 409.8V515.5M259.5 430.2V504.3M259.5 461.9V498.7M263.5 427.6V491.8M265.5 419.6V495.9M266.5 450.4V494.8M270.5 443.1V504.3M277.5 453.3V507.6M280.5 464.4V506.2M281.5 442.4V510.9M282.5 425.8V504.4M284.5 446.9V495.5M287.5 441.6V478M293.5 459.5V486.6M304.5 477.1V515.1M307.5 448.9V513.4M311.5 448.5V494.4M312.5 415V488.7M312.5 435.5V480.8M313.5 421.2V498.7M315.5 434.6V478.3M317.5 422.6V481.7M320.5 374.6V494.5M321.5 380.5V498.6M324.5 439.8V499.5M325.5 446.8V499.2M326.5 466.3V508M328.5 422V514.6M328.5 447.4V508.5M328.5 462.1V496.4M329.5 415.1V499.7M331.5 444.4V486.4M336.5 335.5V486.7M339.5 396.9V456.2M342.5 405V468.8M343.5 382.3V501.6M344.5 388V497M346.5 460V502.2M348.5 442.3V504M349.5 454.1V510.4M351.5 422.2V516.1M352.5 407V512.6M356.5 390.7V508.9M359.5 395.4V475.8M360.5 373.4V493.5M361.5 413.3V476.4M363.5 379V491.8M363.5 422.7V467.1M364.5 422.6V488.8M366.5 422.5V485.2M371.5 412.8V512.9M371.5 460.5V505.6M373.5 461.5V512M375.5 447.3V511.8M378.5 418.8V517.7M378.5 450.5V499.5" fill="none" stroke="#000" stroke-width="1" stroke-opacity="0.6"/>
<path d="M70.5 472.7V516.7M73.5 466.1V510.8M77.5 478.1V521.6M78.5 469.8V520.1M86.5 474.4V529.6M91.5 476.5V520.7M98.5 421.9V521.6M98.5 437.8V517.9M99.5 452V505M102.5 450V506.6M105.5 428.5V522.1M109.5 459.2V519.6M117.5 455.1V519.9M119.5 464.2V501.9M121.5 440.2V500.5M123.5 442V499.8M125.5 446V497.6M129.5 442.8V519.2M129.5 448.3V508.9M133.5 467.2V529.5M134.5 486V518.4M140.5 437.7V523.7M140.5 473.8V506.9M144.5 418.9V517.4M144.5 428.8V508.5M145.5 438V499.8M148.5 423.5V483.2M149.5 397.7V499.1M153.5 450.4V483.7M157.5 433V517.9M164.5 461.1V520.3M168.5 413.2V515.9M168.5 430V509.1M171.5 426.7V504.8M176.5 424.7V503.3M185.5 475.5V505.8M188.5 444.4V523.3M188.5 471V511.2M195.5 421V481.1M196.5 395.5V487.1M202.5 444.6V484.5M203.5 421.9V496.7M207.5 438.7V504.9M210.5 444.7V508.3M211.5 437.2V506.4M219.5 419.1V520.6M223.5 473.5V506.5M228.5 492.6V524.6M235.5 456.5V505.3M241.5 425.4V493M242.5 399.7V480.5M242.5 407V467.7M245.5 419.8V488.3M246.5 428.2V471.8M247.5 434.4V478.4M258.5 435.4V504.3M258.5 452.5V498.8M262.5 407.5V507.3M274.5 469.4V503.4M277.5 444.6V515.5M281.5 427.8V515.2M285.5 422.8V498.2M285.5 455.7V494.1M289.5 426.5V479M290.5 448.6V487.7M294.5 453.2V497.7M297.5 422.9V514.2M307.5 473.3V502.1M308.5 414.2V519.2M308.5 431.4V509.5M308.5 452.5V505.4M309.5 448.3V494.6M316.5 423.7V470.5M321.5 408.7V489.9M332.5 362.2V498M333.5 402.9V476.8M335.5 364.2V479.1M336.5 383.5V456M344.5 437.2V487.3M347.5 428V498.8M352.5 429.4V504.7M352.5 440.5V493.1M355.5 443.8V499.9M356.5 428.1V496.8M356.5 447V488.5M360.5 401.2V489.7M364.5 421.9V475.9M374.5 465.9V508.4M375.5 461V503.9M379.5 451.3V506" fill="none" stroke="#000" stroke-width="1" stroke-opacity="0.7"/>
<path d="M56.5 495.8V528.5M59.5 504.3V534M66.5 475.5V510.9M71.5 477.8V502.6M82.5 484.6V522.7M83.5 472.2V514.1M86.5 484.5V527.8M95.5 470.3V509M98.5 470.9V501.9M101.5 451.5V493.6M105.5 453.1V511.2M105.5 471.2V512.6M110.5 477.7V520.9M114.5 486.6V525.5M117.5 468.2V516.9M122.5 415.4V499.3M133.5 478.5V517.9M136.5 483.9V526.4M137.5 476.9V524.8M145.5 448.8V493.3M149.5 424.4V487.3M157.5 475.3V501.6M161.5 469.2V518.9M161.5 486.7V511.6M165.5 467.3V514.1M168.5 445.2V508.1M171.5 447.5V496.1M176.5 457.2V491.2M183.5 474.7V515M188.5 455V517M207.5 452.6V496.4M210.5 451.9V502.6M214.5 466.5V508.3M219.5 448.6V515.9M220.5 463.8V504M231.5 480.6V516.9M234.5 438.3V519.7M237.5 433.6V485.2M238.5 451.4V499.3M251.5 435.3V487.4M254.5 450V497M255.5 467.7V496.5M262.5 437.4V498.6M265.5 431.3V497.5M270.5 452.6V502.3M272.5 458.9V501.7M273.5 452.5V508.1M273.5 463V503.3M276.5 457.2V499.2M301.5 466V520.6M301.5 468.3V507.4M305.5 485.5V527.5M340.5 405.1V463.2M343.5 397.8V493.7M351.5 465V496M359.5 401.1V476.1M367.5 427.7V497.1" fill="none" stroke="#000" stroke-width="1" stroke-opacity="0.8"/>
<path d="M55.5 505.6V531.6M87.5 483.7V518.9M102.5 467.1V509.2M113.5 479.7V517.6M149.5 427.5V483.3M281.5 464V501.7M286.5 456.1V484M300.5 467.4V506.3M321.5 423.9V483M332.5 426.7V483.7M335.5 414.1V475.1M343.5 440.6V492.6M347.5 445.4V488.8M360.5 423.8V466.8M379.5 450.1V504.8" fill="none" stroke="#000" stroke-width="1" stroke-opacity="0.9"/>
<path d="M60.5 493.1V528M63.5 491.2V515.8M74.5 460.7V518.2M78.5 489.4V520.8M118.5 456.6V508.4M144.5 454.7V498.9M172.5 433V490.3M180.5 465.2V511.6M192.5 435.7V499.7M199.5 416.7V467.4M203.5 450.1V492M211.5 464.5V502.8M215.5 453.9V501.4M219.5 462.7V513M227.5 483V514M234.5 476V503.6M250.5 443.7V493.6M269.5 452.5V494.6M277.5 475.9V506M297.5 465.5V499.5M325.5 461.3V500.4M367.5 442.2V487.8M374.5 477.2V506.6" fill="none" stroke="#000" stroke-width="1" stroke-opacity="1.0"/>
</g>
<path d="M106.6 556.9v-3.2M106.6 313.3v3.2M161.6 556.9v-3.2M161.6 313.3v3.2M216.5 556.9v-3.2M216.5 313.3v3.2M271.5 556.9v-3.2M271.5 313.3v3.2M326.5 556.9v-3.2M326.5 313.3v3.2M51.6 522.1h3.2M381.5 522.1h-3.2M51.6 487.3h3.2M381.5 487.3h-3.2M51.6 452.5h3.2M381.5 452.5h-3.2M51.6 417.7h3.2M381.5 417.7h-3.2M51.6 382.9h3.2M381.5 382.9h-3.2M51.6 348.1h3.2M381.5 348.1h-3.2" stroke="#868686" stroke-width="1" fill="none"/>
<rect x="51.6" y="313.3" width="329.9" height="243.6" fill="none" stroke="#868686" stroke-width="1"/>
<g font-size="13" fill="#111" text-anchor="middle">
<text x="51.5" y="570.3">0</text>
<text x="106.5" y="570.3">1</text>
<text x="161.5" y="570.3">2</text>
<text x="216.4" y="570.3">3</text>
<text x="271.4" y="570.3">4</text>
<text x="326.4" y="570.3">5</text>
<text x="381.4" y="570.3">6</text>
</g>
<g font-size="13" fill="#111" text-anchor="end">
<text x="46.3" y="561.5">4</text>
<text x="46.3" y="526.7">6</text>
<text x="46.3" y="491.9">8</text>
<text x="46.3" y="457.1">10</text>
<text x="46.3" y="422.3">12</text>
<text x="46.3" y="387.5">14</text>
<text x="46.3" y="352.7">16</text>
<text x="46.3" y="317.9">18</text>
</g>
<text x="216.9" y="589.2" font-size="13.5" fill="#111" text-anchor="middle">Time [min]</text>
<text transform="translate(17.2 435.1) rotate(-90)" font-size="13.3" fill="#111" text-anchor="middle">ICP [mmHg]</text>
<clipPath id="cc"><rect x="51.6" y="600.6" width="328.9" height="252.0"/></clipPath>
<g clip-path="url(#cc)">
<path d="M67.5 729.9V806.6M83.5 739.8V795.2M115.5 768.7V812.2M121.5 759.8V805.3M131.5 754.7V809.5M135.5 757.7V810.2M181.5 753.3V790.6M199.5 635.7V751.6M199.5 664.2V747.7M229.5 773.5V813.1M233.5 774.3V809.9M249.5 756.5V805.5M303.5 775.9V820.9M317.5 760.6V808M335.5 722.1V795.2M345.5 736.3V803.8M365.5 672.8V768.6M365.5 694.8V765.5M367.5 683V783.9" fill="none" stroke="#000" stroke-width="1" stroke-opacity="0.3"/>
<path d="M53.5 745.5V802.2M53.5 760.6V799.2M57.5 732.5V799M59.5 736.8V806.9M61.5 730.8V806.5M63.5 736.1V807M65.5 743.5V807.8M65.5 769.1V801.9M67.5 748.9V803.7M67.5 758.4V802.9M69.5 722.1V802.4M71.5 749.6V797.4M73.5 744.5V796.1M75.5 715.9V791.4M79.5 713.8V797.9M79.5 725.7V793M81.5 719.7V797.7M87.5 715.2V786M87.5 727V783.7M89.5 682.3V788.1M89.5 699.5V782.4M93.5 672.7V766.6M97.5 702.1V792.3M99.5 738.7V803.3M99.5 753.9V798.4M101.5 760.5V809.4M101.5 771.5V808.6M103.5 764.7V814M103.5 778.1V812.7M109.5 782.6V814.9M111.5 771.4V815.7M113.5 781.3V812.9M117.5 765.9V810.8M117.5 777.6V810.1M123.5 760.1V807.6M125.5 755.5V807.7M127.5 750.6V805.9M129.5 748.6V806.3M129.5 759.7V803.9M133.5 762.4V809.3M133.5 769.8V807.8M137.5 766.8V807.7M139.5 770.8V802.2M141.5 767.4V804.9M143.5 755.9V805.8M143.5 764.2V803.4M147.5 765.7V807.4M149.5 750.6V804M149.5 755.7V801.2M151.5 755.1V809.7M151.5 776.2V804.6M153.5 750.8V809.2M153.5 758.9V805.9M155.5 767V809.2M155.5 777.1V809.2M157.5 767.1V808.6M159.5 779.5V806.8M161.5 764.4V809.8M163.5 785.8V811.3M165.5 779.1V808.5M167.5 779.2V810.4M167.5 779V809.8M169.5 771V811.7M169.5 782.6V810M171.5 763.6V808.4M173.5 763.5V803M173.5 771.2V802.4M177.5 741V794.8M177.5 755.1V792.7M179.5 744.8V791.7M181.5 741V791.5M183.5 723.6V788.6M185.5 712.2V785.5M185.5 724.4V783.4M187.5 707.3V779.9M187.5 738.2V772.5M189.5 703.4V778.4M189.5 723.4V775.6M191.5 676.7V776.6M193.5 673.1V760.7M195.5 666.5V764.9M195.5 689.3V759.5M197.5 670.3V761.4M201.5 630V741.9M201.5 657.4V737.3M207.5 687.1V768.1M207.5 706.3V765.5M209.5 721.9V788.6M209.5 728.2V785.3M211.5 756.3V799.9M211.5 765.9V798.4M213.5 769.7V802.8M213.5 774.9V801.7M217.5 772.4V815.1M217.5 784.6V813.2M219.5 774.7V813.6M223.5 762.7V812.8M231.5 779.1V812M235.5 767.8V808.8M235.5 775.7V808M237.5 773.4V809.5M237.5 782.5V807.5M239.5 770.7V809M241.5 766.2V810.1M241.5 774.6V807.7M245.5 771V802.9M247.5 768.2V808M247.5 773.3V806.1M249.5 762V804.5M251.5 758.3V800.6M251.5 765.7V800M253.5 759V799M259.5 730.2V789.5M259.5 740.6V786.8M261.5 731.2V788.6M261.5 744.3V786.2M263.5 724.9V786.2M265.5 713.9V782.3M265.5 733.1V779.1M265.5 741.8V778.9M267.5 696V774.1M267.5 706V770.9M269.5 674.7V774.3M269.5 692V770.8M273.5 671.8V756.9M277.5 665.4V752.8M281.5 630.5V746.6M283.5 636.7V751.4M283.5 648.3V746M285.5 666V770.5M285.5 680.3V767.5M287.5 717.3V796M287.5 735V792.8M291.5 770.3V818.7M291.5 782.1V817.1M293.5 768.9V820.4M295.5 778.1V817.4M297.5 771.9V821.3M299.5 772.5V821.8M299.5 780V819.5M301.5 782.4V818.4M309.5 771.5V818M311.5 787.9V809.9M313.5 777.9V810.3M315.5 773.4V813.7M317.5 767.8V805.3M319.5 756.2V810.8M319.5 764.4V809.8M323.5 755.1V806.5M327.5 743.3V806.6M329.5 751.9V797.5M333.5 734.3V795.1M333.5 748.8V792M333.5 752.6V789M335.5 745.8V790.3M337.5 727.9V794.6M341.5 748.3V797.8M343.5 740.4V801.1M343.5 752.1V797.7M345.5 747.5V801.3M347.5 738.5V803.3M349.5 752.7V805.6M351.5 740.7V807.3M351.5 759.8V804.5M353.5 732.1V799.6M355.5 719.2V792.4M357.5 690.1V794.6M359.5 679V776.5M361.5 671V776.2M363.5 668.6V767.5M363.5 691.6V764.7M367.5 693.7V780.4M369.5 707.2V787.9M371.5 741.1V806.2M371.5 757.8V802.6M377.5 786.9V816.3" fill="none" stroke="#000" stroke-width="1" stroke-opacity="0.4"/>
<path d="M55.5 740.6V799.7M57.5 740.5V797.7M57.5 748.9V795.6M61.5 740.4V803.1M65.5 758.7V804.5M69.5 731.2V797.8M71.5 730.9V800.3M73.5 724.2V799M77.5 719.6V798.6M77.5 739.6V796.4M77.5 744.1V794.5M79.5 741.3V793.2M81.5 740.1V793.3M83.5 731.5V798.1M85.5 716.6V794.4M85.5 737.1V790.2M85.5 746.4V789.2M87.5 697.9V790.1M89.5 709.7V782.2M91.5 661.3V777.8M92.5 676V776.9M93.5 661.2V769.1M95.5 678V786.8M95.5 687.9V785.3M97.5 728V790.5M99.5 750.4V799.6M105.5 775.1V814.8M106.5 774.1V814M107.5 773.3V816.3M109.5 778.1V817.1M112.5 770.5V815M113.5 771.5V815.1M115.5 778.9V809.8M119.5 769.4V810.5M119.5 774V809.5M119.5 787.4V807.4M121.5 766.6V803.4M123.5 781V804.9M127.5 756.5V803M129.5 769.3V802.4M131.5 761.2V807.9M131.5 771.2V806.9M135.5 765V808.6M137.5 759.5V809.9M139.5 759.4V806.9M139.5 764.9V805.2M141.5 763.1V807M145.5 752.9V808.3M145.5 761.1V805.1M145.5 770.9V805.9M147.5 752.4V808.8M151.5 763.6V807.1M155.5 754.6V811.5M157.5 759V809.8M159.5 764.8V809.3M161.5 759.4V811.5M163.5 766.9V813.8M165.5 770.1V810.8M165.5 781.4V809.4M167.5 769V811.5M169.5 783.4V808.8M171.5 772.9V806.1M171.5 775.2V804.8M175.5 745V800.2M175.5 761V797.5M179.5 739.7V794.4M179.5 753.9V792.1M181.5 755.2V788.4M183.5 736.6V784.8M185.5 738.3V782.4M193.5 660.2V766.1M193.5 696.8V756.3M197.5 684.5V757.8M201.5 664.4V732.1M203.5 631.8V748.1M203.5 643.5V744.2M205.5 640.1V747.7M205.5 668.1V742.7M215.5 774.7V812M215.5 781.4V810.2M219.5 769.1V815.3M221.5 767.1V811.5M221.5 776.1V808.9M223.5 778.7V809.1M225.5 767.1V814.9M225.5 779.1V813M225.5 782.6V812.3M227.5 775.8V811.8M227.5 780.3V810.2M228.5 776.7V814.5M229.5 784.3V811.3M231.5 768.8V814.1M231.5 784V812.5M233.5 780.2V808.7M233.5 789.4V806.8M235.5 778.2V805.7M240.5 770.5V809.8M243.5 765.9V808.6M245.5 762.7V805.3M253.5 751.3V799.9M253.5 771.3V798.3M255.5 744.4V798.8M255.5 750.9V797.8M255.5 763.9V797M257.5 732.8V792M259.5 748.2V784.5M261.5 745.1V785M267.5 728.5V768.6M271.5 678.1V769.7M271.5 703.3V764.7M273.5 679.6V752.7M273.5 692.6V754.1M275.5 662.8V760.4M275.5 683.5V758.4M277.5 644.1V754.9M279.5 641.7V745.8M279.5 669V744.2M281.5 658.5V744.7M281.5 661.8V737M283.5 671.8V742.3M287.5 746.3V792.8M289.5 748.4V806.2M289.5 764.6V802.9M292.5 774.5V817.6M293.5 781.9V818.2M295.5 773.5V818.4M297.5 783.3V819.5M301.5 775.5V820.6M302.5 770.5V818.2M303.5 780.5V819.8M305.5 770.3V819.1M305.5 775.5V816.4M307.5 770.8V818.5M307.5 777.4V816.3M309.5 776.5V817.3M309.5 789.2V813.7M310.5 776.5V816.8M311.5 772.5V812.9M311.5 783.4V812M313.5 771.3V811.9M315.5 784.8V812.8M321.5 752.6V809.6M323.5 759.7V803.7M325.5 755.5V805.2M325.5 762.7V803.3M327.5 759.2V804.1M327.5 760.8V804.2M329.5 738.3V798.8M331.5 734V795.4M331.5 739.7V792.3M331.5 751.1V789.4M335.5 738.9V792.6M337.5 742.2V793.5M338.5 732.6V795.7M339.5 730.1V796.5M339.5 746.5V794M339.5 759.5V790.7M341.5 741.8V800.6M347.5 751.8V800.8M349.5 767.8V803.3M353.5 745V797.8M355.5 704.6V797.6M361.5 699.8V770.3M365.5 697.6V761.6M369.5 724.6V785.7M373.5 765.5V812.7M375.5 769.3V816.8M375.5 778.3V815.1M377.5 775.3V818.5M378.5 774.5V815.1M379.5 771.6V811.1M379.5 775.4V810.5M379.5 786.2V807.6" fill="none" stroke="#000" stroke-width="1" stroke-opacity="0.5"/>
<path d="M53.5 766.8V797.9M55.5 747.3V798.7M56.5 741V801.6M58.5 731.7V802.3M59.5 747.5V803.1M63.5 745.3V805.4M66.5 730.8V801.4M70.5 734.7V798M72.5 715.6V797.3M75.5 735.5V789.3M78.5 712.4V799.9M81.5 744.9V794.3M88.5 690.5V792.3M90.5 675.3V788.5M91.5 694.6V774.2M94.5 665.7V772.8M96.5 687.7V790.5M102.5 771.6V807.6M104.5 768.4V816.8M105.5 779.7V812.9M107.5 785.3V815M108.5 773.3V817.1M110.5 774V817.4M111.5 783.8V813.9M111.5 782.7V811.5M113.5 790.8V813.6M115.5 787.6V807.8M116.5 772.8V814.5M116.5 779.3V813.4M118.5 769.4V810M122.5 759V810.9M123.5 768.1V805.2M124.5 757.4V804.6M124.5 768.2V803.4M125.5 768.5V805.4M126.5 754.3V807.3M126.5 767.7V805.5M130.5 753V808.1M133.5 774.5V805.7M136.5 763V810.4M137.5 779V805.5M140.5 766.4V808.2M140.5 774.2V805.8M141.5 774.2V805.4M142.5 762V806.2M143.5 774.1V801.1M146.5 751.7V805.9M148.5 752.6V807.4M149.5 770.7V800.4M153.5 770.1V806.4M154.5 759.3V807.1M156.5 763.1V809.8M159.5 771.8V808.7M162.5 758.5V813.4M163.5 774.5V812.9M168.5 774.1V812.6M173.5 780.5V798.9M175.5 751.5V797M176.5 750.5V796.4M180.5 742.5V791.8M183.5 739.9V782.3M187.5 720.2V778.4M190.5 692.3V771.5M191.5 689.9V772M196.5 662.8V760.8M197.5 693.6V756.3M198.5 655.9V757.9M199.5 679.2V747M211.5 766.5V795.4M214.5 783.2V810.9M215.5 785.9V810.2M217.5 786.6V811.1M218.5 774.4V815.7M219.5 784.5V812.6M220.5 763.6V813.9M222.5 765.6V813.6M223.5 775.6V810.5M224.5 766.2V812.2M229.5 782.7V811.3M232.5 766.4V811.5M236.5 768.6V813M236.5 777.8V810.4M237.5 787.4V808.1M239.5 780.5V808.1M239.5 786.1V807.3M242.5 766.3V807.3M242.5 777.7V805.6M243.5 773V807.5M245.5 781.3V802.2M247.5 785.4V806.3M248.5 764.2V804.8M250.5 754.6V802.9M251.5 769.1V798.1M256.5 739.3V793.6M256.5 745.7V790.5M257.5 746.2V789.9M257.5 747.5V788.5M260.5 727.2V788.9M263.5 737.1V784.8M264.5 717.2V784.2M268.5 697.6V774.3M270.5 695.5V760.4M271.5 714.1V765.7M272.5 676.3V763.2M272.5 700.3V761.9M286.5 676.3V780.8M289.5 772.5V802.7M292.5 786.4V815.3M297.5 791.1V818.4M298.5 772.2V822.6M299.5 790.5V817.7M300.5 772.5V819.4M301.5 794.2V818.3M303.5 791.5V816.7M304.5 773.9V817.9M307.5 784.8V815.7M308.5 771V816.3M312.5 778.5V815.7M314.5 769.7V814M314.5 777.9V813M315.5 785.9V811.4M318.5 757.1V811.5M321.5 762.3V808.3M321.5 774V806.3M326.5 756.5V800.7M328.5 760.9V801.2M329.5 754.2V796.6M330.5 746.2V803.6M337.5 745.4V790.6M340.5 731.4V793.6M342.5 738.8V799.9M346.5 741.5V801.5M347.5 761.5V799.2M348.5 758.6V801.9M349.5 775.3V803.9M350.5 754.5V798.6M352.5 735.3V802.2M354.5 736.1V796.1M357.5 702.2V789.3M357.5 720.7V784.9M359.5 700.5V773.7M360.5 675.3V779.2M364.5 663.5V772.2M366.5 664.6V773.3M368.5 692.7V783.8M373.5 770.3V811.9M373.5 779.7V810.5M375.5 782V813.6M376.5 774.2V818M377.5 791.7V815M378.5 784.6V813.3" fill="none" stroke="#000" stroke-width="1" stroke-opacity="0.6"/>
<path d="M54.5 750.7V802.8M56.5 746.5V799.4M58.5 745.6V798.9M59.5 755.7V802.2M60.5 729.3V805.5M60.5 742.5V802.7M61.5 753.2V800.7M63.5 753.8V800M64.5 744.1V810.7M64.5 762.2V807.4M68.5 725.4V804.1M69.5 757.5V798M71.5 757.2V793.4M72.5 723.5V795.6M74.5 734.1V795M76.5 714V796.1M76.5 735.6V791.6M80.5 739.9V793.8M83.5 755.1V792.4M86.5 733.3V789.7M92.5 691.2V773.8M95.5 724.8V776.5M97.5 737.8V787.8M98.5 726.4V802.9M101.5 778.1V805.4M102.5 764.3V809.5M102.5 783.6V806.9M103.5 786.4V809.4M104.5 773.7V815.4M105.5 787.6V813.4M106.5 785.2V811.8M110.5 790.8V815.8M117.5 782.1V808.8M121.5 776.9V802M126.5 777V803.4M127.5 769.2V800.6M128.5 757.8V807.8M128.5 779.7V803.5M134.5 771.5V808.5M135.5 771.1V806.9M138.5 759.4V809.4M144.5 755.1V809.7M147.5 770.8V805.2M150.5 749.8V807M154.5 770.1V805.7M158.5 759.6V809.5M158.5 768V808.4M162.5 765.8V812.3M164.5 763.5V811.6M166.5 774.9V812.8M172.5 773.5V803.3M174.5 751V800.1M174.5 761.9V797.8M176.5 743.9V798.7M177.5 758.1V792.5M184.5 722.3V783.7M186.5 711V785.1M188.5 694.7V776.7M190.5 714.5V763.6M191.5 710.5V767M194.5 659.4V770M194.5 671.8V764.4M195.5 694.5V757.1M200.5 632.5V747.9M203.5 678.9V744.2M204.5 664.6V746.2M206.5 658.7V762.6M208.5 716.7V771.8M212.5 763.2V801.8M212.5 775.5V798.7M213.5 781.9V800.8M216.5 775.3V815.6M218.5 780.5V814.6M220.5 769.2V812.3M221.5 778.2V808.1M238.5 776.8V809.1M238.5 784.7V807.5M238.5 786V807M240.5 780.3V805.9M241.5 783V807.6M244.5 762.8V807M244.5 771.5V806M246.5 768.6V809.1M246.5 773.6V808.2M249.5 773.9V800.7M252.5 752.7V801.1M258.5 740.6V793.6M263.5 749.6V782M264.5 731V780.9M266.5 705.1V779M269.5 705.2V768.9M270.5 668.7V763.5M274.5 654.8V760.5M274.5 664.9V754.8M278.5 641.9V753M278.5 665.6V751.4M279.5 672.4V738.5M280.5 627.1V749.9M284.5 666.5V755.9M285.5 691.2V762.9M288.5 741.7V800.5M291.5 787.9V816.6M293.5 791V815.9M294.5 772.4V823.1M296.5 773V818.9M296.5 779.6V817.4M304.5 778V816.9M306.5 776.2V819.9M306.5 791.8V816.7M308.5 787.8V812.3M312.5 790V812.4M313.5 781.8V808.8M316.5 768.4V810.8M317.5 775.7V803.1M319.5 771V807.9M320.5 753V809.3M320.5 772.6V803.5M324.5 749.4V806.9M325.5 769.6V800.1M328.5 749.5V802.3M332.5 736.9V799.1M334.5 733.4V797.9M336.5 725V798.1M340.5 739.7V791.6M344.5 743.1V803.2M345.5 753.7V800.5M348.5 746.1V805M350.5 740.1V802M351.5 763.6V802.3M353.5 752.4V793.6M354.5 725.8V797.8M356.5 692.3V785.6M356.5 706.2V783.1M358.5 686.5V789.3M363.5 708.8V761.1M366.5 678.5V771.1M367.5 712.6V773.5M369.5 743V783.3M371.5 758.5V802.1M374.5 770.1V813.4M374.5 781.6V812.8M376.5 789.2V814.5" fill="none" stroke="#000" stroke-width="1" stroke-opacity="0.7"/>
<path d="M54.5 758.5V801.4M55.5 758.1V796.9M56.5 760.3V798.9M62.5 744.6V802.8M66.5 754.1V798.1M68.5 745.5V803M70.5 721.2V802.3M70.5 751.1V798.6M73.5 755.8V791.3M74.5 719.3V797.9M75.5 748.7V784.2M78.5 735.9V797M80.5 729V795.6M82.5 716.9V797.3M84.5 722.4V794.3M86.5 711.8V791.5M88.5 719.6V788M91.5 709.2V766.4M93.5 701.4V761.4M96.5 716.5V789M104.5 786.7V811.8M107.5 784.7V813.1M108.5 780.8V816.1M109.5 792.6V815.2M110.5 780.5V815.6M112.5 778.3V813.5M118.5 780.1V808.5M118.5 781.2V807.2M120.5 767V808.7M125.5 774.1V804M128.5 768V806.7M130.5 759.6V805.5M134.5 756.3V811.3M134.5 772.2V808.8M136.5 775.4V808.3M142.5 769.9V804.9M152.5 748.8V807.8M156.5 773.4V809.1M157.5 775.4V806.7M160.5 758.6V809.8M160.5 771.1V808.9M161.5 782.8V808.6M168.5 785.8V811.3M170.5 766.4V811.3M170.5 778.2V809.9M172.5 761.7V804.9M176.5 762.2V796.2M178.5 736.4V793.9M180.5 748.9V790.9M182.5 746.5V787.9M186.5 724.3V783M186.5 742.7V777.8M189.5 722.4V773.7M190.5 702.5V768.4M192.5 674.2V774.3M192.5 716V768.9M196.5 676.4V755.8M196.5 698.4V756.5M202.5 626.8V745.5M204.5 638.3V748.4M205.5 672.7V741.1M207.5 711.7V761.2M208.5 699.9V774M209.5 744.9V785.7M210.5 745.5V796.7M214.5 785.5V809.5M216.5 784.3V814.5M218.5 787V813.6M222.5 770.4V812.1M226.5 768.9V812.6M227.5 790.1V810.4M230.5 787.2V807.7M234.5 772.6V810.6M240.5 779.5V808.8M243.5 783.7V806.5M254.5 748.6V799M262.5 722.4V789.4M266.5 726.2V775.1M275.5 687.3V753.4M276.5 651.7V755.1M277.5 670V748.5M278.5 688.7V742.7M282.5 645V745.3M284.5 649.4V759.6M290.5 759.7V813.1M290.5 764.8V810.6M295.5 789.4V814.4M296.5 787V816.8M300.5 784.7V818.3M305.5 785.8V814.5M306.5 780.3V818.9M308.5 778.5V815.4M310.5 784.8V814.7M314.5 780.7V810M316.5 761.6V812.8M322.5 752.3V808M322.5 770.6V802.4M323.5 778.2V801.8M324.5 764.2V805.6M326.5 746.2V803.9M328.5 769.8V797.2M336.5 740.3V794.2M336.5 746.7V795.7M338.5 748.6V792.8M341.5 767.5V798.5M342.5 748.3V797.6M343.5 755V795M346.5 764.4V795.4M355.5 728.5V790.6M359.5 707V769.5M361.5 711.4V768.5M362.5 657.9V767.9M362.5 669.5V763.9M370.5 725.4V800.2M370.5 738.5V796.3M372.5 750V811M376.5 778.1V817.1" fill="none" stroke="#000" stroke-width="1" stroke-opacity="0.8"/>
<path d="M58.5 749.3V797.7M62.5 759.8V800.1M66.5 741.8V799.3M74.5 746.9V792.3M76.5 735.3V793.4M78.5 739.6V795.5M80.5 749.3V790.7M82.5 736.2V796.2M92.5 703.6V769M94.5 678.8V767.2M98.5 733.7V799.2M100.5 751.6V806.5M114.5 775.5V814.3M116.5 783.9V812.4M120.5 775.8V807.9M124.5 768.4V801.9M132.5 756.8V808.1M132.5 769.1V806.9M132.5 770.5V802.8M144.5 766.9V807.1M146.5 765.6V802.8M152.5 762.8V806.5M156.5 778.6V805.4M160.5 774.2V806.7M166.5 769.6V813.8M172.5 766.9V803.9M178.5 742.3V792.2M182.5 728.5V790.7M192.5 696.4V769.6M198.5 668.2V753M198.5 686.3V751.8M200.5 645.6V743.4M204.5 670.9V744.2M206.5 668.6V760M210.5 752.7V794.8M210.5 761.4V794.6M214.5 777V811.9M216.5 787.5V811.9M220.5 782.7V810.5M224.5 773.1V810.2M224.5 779.4V810.2M226.5 773.1V811.7M230.5 775.1V810.9M230.5 784.1V809.6M232.5 777.2V809.8M234.5 776.5V809.3M234.5 787V808.3M242.5 784.7V805M250.5 774.9V800M254.5 770.6V794.6M258.5 747.3V791.9M260.5 735.9V785.6M262.5 737.2V786M262.5 750.1V783.8M264.5 747V781.7M276.5 679.5V752.1M280.5 650.5V747.1M282.5 634.2V747.6M282.5 673.3V737.7M284.5 676.5V752.8M286.5 710.1V775.1M288.5 753V798.8M288.5 765V796.5M294.5 784V820.1M294.5 788.9V821.1M302.5 791.1V813.6M312.5 782V814M318.5 770.2V806.1M332.5 743.6V797.5M334.5 747.8V794.4M344.5 749.9V801.3M358.5 697.7V785.1M360.5 688.1V776.1M372.5 758.9V808.8" fill="none" stroke="#000" stroke-width="1" stroke-opacity="0.9"/>
<path d="M54.5 763.5V798.9M60.5 761.5V797.8M62.5 764.6V797.4M64.5 760.3V808.6M68.5 750.3V800M72.5 743.2V793.7M82.5 739.1V792.8M84.5 737.6V791M84.5 753.8V788.8M86.5 732.4V785.8M88.5 731.5V783.9M90.5 696.3V782.2M90.5 711.5V778.6M94.5 705.7V762.1M96.5 731.4V782M98.5 756.6V800.1M100.5 758.4V805.6M100.5 770V801.7M106.5 790.2V810.1M108.5 785.6V814.9M112.5 788.8V812.7M114.5 780.7V812.1M114.5 786.2V811.7M120.5 780.4V806.8M122.5 768V808.6M122.5 773.1V808.1M130.5 772.8V804.4M136.5 777.5V808.6M138.5 772.1V808.2M138.5 773.3V806.3M140.5 780.5V805M142.5 778.5V804.5M144.5 774.2V804.8M146.5 773.7V803.1M148.5 761.8V804.7M148.5 765.8V803.2M150.5 760.2V804.7M150.5 767.3V805.1M152.5 770.9V804.8M154.5 774.6V804.9M158.5 779.6V807.7M162.5 783.1V809.6M164.5 775.6V809.8M164.5 781.4V808.4M166.5 787.5V809.6M168.5 778.7V811.7M170.5 785.6V808M174.5 766V796.8M178.5 757.7V788.6M180.5 760.9V787.3M182.5 737.4V789M184.5 735.8V781.4M184.5 742.4V778.7M188.5 711.8V772.9M188.5 718.1V772.4M194.5 699.8V758.8M200.5 665.2V739.9M202.5 660.8V741.6M202.5 670.6V739.6M206.5 698.2V752.1M208.5 719.4V767.4M212.5 768.2V800.7M222.5 777.1V808.9M226.5 783.5V809.3M228.5 782.4V813.1M228.5 792.3V812.9M232.5 783.9V806.8M236.5 781V809M244.5 774V804.4M246.5 785.7V805.7M248.5 769.3V803.1M248.5 774.1V800.9M250.5 762.2V801.9M252.5 764.2V799.2M252.5 768.1V797.4M254.5 755.8V797.6M256.5 758.6V789.7M258.5 763.6V789.6M260.5 747.8V784.4M266.5 714V777.2M268.5 710V770M268.5 722V767.1M270.5 701.6V755.1M272.5 712.8V759.7M274.5 686.3V755.1M276.5 677.4V750.9M280.5 661.6V745.8M286.5 694.8V776.8M290.5 782.3V809.4M292.5 785V813.7M298.5 776.9V820M298.5 786.1V818.3M300.5 789.5V817M302.5 778.4V816.5M304.5 788V815.5M310.5 792V813.2M316.5 781.8V810.9M318.5 765.8V808.5M320.5 765V806.9M322.5 758.2V807.1M324.5 769.2V803.2M326.5 762.7V798.4M330.5 759.3V802.4M330.5 766.9V800.2M332.5 755.1V795.9M334.5 757.1V794.6M338.5 756V792.9M340.5 758V791.2M342.5 764.2V796.8M344.5 763.5V798.5M346.5 750.8V798.3M348.5 769.1V800.1M350.5 764V799.5M352.5 741.9V800.1M352.5 759.5V799.4M354.5 753.3V793.5M356.5 715.9V777.7M358.5 725.5V780.1M360.5 703.7V775.3M362.5 692V758.8M364.5 685.6V767M364.5 712.1V764.9M366.5 703.2V765.8M368.5 708.5V780.6M368.5 724.8V778.8M370.5 748.9V793.9M372.5 765.1V807.9M374.5 781.7V809.7M378.5 784.5V811.7" fill="none" stroke="#000" stroke-width="1" stroke-opacity="1.0"/>
</g>
<path d="M96.7 852.6v-3.2M96.7 600.6v3.2M141.8 852.6v-3.2M141.8 600.6v3.2M186.9 852.6v-3.2M186.9 600.6v3.2M232.1 852.6v-3.2M232.1 600.6v3.2M277.2 852.6v-3.2M277.2 600.6v3.2M322.3 852.6v-3.2M322.3 600.6v3.2M367.4 852.6v-3.2M367.4 600.6v3.2M51.6 810.6h3.2M380.5 810.6h-3.2M51.6 768.6h3.2M380.5 768.6h-3.2M51.6 726.6h3.2M380.5 726.6h-3.2M51.6 684.6h3.2M380.5 684.6h-3.2M51.6 642.6h3.2M380.5 642.6h-3.2" stroke="#868686" stroke-width="1" fill="none"/>
<rect x="51.6" y="600.6" width="328.9" height="252" fill="none" stroke="#868686" stroke-width="1"/>
<g font-size="13" fill="#111" text-anchor="middle">
<text x="51.5" y="865.6">0</text>
<text x="96.6" y="865.6">1</text>
<text x="141.7" y="865.6">2</text>
<text x="186.8" y="865.6">3</text>
<text x="232" y="865.6">4</text>
<text x="277.1" y="865.6">5</text>
<text x="322.2" y="865.6">6</text>
<text x="367.3" y="865.6">7</text>
</g>
<g font-size="13" fill="#111" text-anchor="end">
<text x="46.3" y="857.2">0</text>
<text x="46.3" y="815.2">5</text>
<text x="46.3" y="773.2">10</text>
<text x="46.3" y="731.2">15</text>
<text x="46.3" y="689.2">20</text>
<text x="46.3" y="647.2">25</text>
<text x="46.3" y="605.2">30</text>
</g>
<text x="216.4" y="885.5" font-size="13.5" fill="#111" text-anchor="middle">Time [min]</text>
<text transform="translate(17.2 726.8) rotate(-90)" font-size="13.3" fill="#111" text-anchor="middle">ICP [mmHg]</text>
<path d="M483.9 261.1v-3.2M483.9 12.5v3.2M520.3 261.1v-3.2M520.3 12.5v3.2M556.7 261.1v-3.2M556.7 12.5v3.2M593.1 261.1v-3.2M593.1 12.5v3.2M629.4 261.1v-3.2M629.4 12.5v3.2M665.8 261.1v-3.2M665.8 12.5v3.2M702.2 261.1v-3.2M702.2 12.5v3.2M738.6 261.1v-3.2M738.6 12.5v3.2M447.5 230h3.2M775 230h-3.2M447.5 199h3.2M775 199h-3.2M447.5 167.9h3.2M775 167.9h-3.2M447.5 136.8h3.2M775 136.8h-3.2M447.5 105.7h3.2M775 105.7h-3.2M447.5 74.7h3.2M775 74.7h-3.2M447.5 43.6h3.2M775 43.6h-3.2" stroke="#868686" stroke-width="1" fill="none"/>
<rect x="447.5" y="12.5" width="327.5" height="248.6" fill="none" stroke="#868686" stroke-width="1"/>
<g font-size="13" fill="#111" text-anchor="middle">
<text x="447.4" y="275.6">0</text>
<text x="483.8" y="275.6">100</text>
<text x="520.2" y="275.6">200</text>
<text x="556.6" y="275.6">300</text>
<text x="593" y="275.6">400</text>
<text x="629.3" y="275.6">500</text>
<text x="665.7" y="275.6">600</text>
<text x="702.1" y="275.6">700</text>
<text x="738.5" y="275.6">800</text>
<text x="774.9" y="275.6">900</text>
</g>
<g font-size="13" fill="#111" text-anchor="end">
<text x="442.3" y="265.7">−2</text>
<text x="442.3" y="234.6">−1</text>
<text x="442.3" y="203.6">0</text>
<text x="442.3" y="172.5">1</text>
<text x="442.3" y="141.4">2</text>
<text x="442.3" y="110.3">3</text>
<text x="442.3" y="79.2">4</text>
<text x="442.3" y="48.2">5</text>
<text x="442.3" y="17.1">6</text>
</g>
<text x="611.5" y="301.4" font-size="13.5" fill="#111" text-anchor="middle">Time [ms]</text>
<text transform="translate(413.9 134.3) rotate(-90)" font-size="13.3" fill="#111" text-anchor="middle">ICP [mmHg]</text>
<clipPath id="car"><rect x="447.5" y="12.5" width="327.5" height="248.60000000000002"/></clipPath>
<g clip-path="url(#car)">
<path d="M448.6 176.6 449.7 177.5 450.8 178.4 451.9 179.3 453 180.2 454.1 181.1 455.1 182 456.2 182.9 457.3 183.8 458.4 184.6 459.5 185.5 460.6 186.3 461.7 187.1 462.8 187.9 463.9 188.7 465 189.4 466.1 190.2 467.1 190.9 468.2 191.6 469.3 192.3 470.4 193 471.5 193.7 472.6 194.3 473.7 195 474.8 195.6 475.9 196.2 477 196.7 478.1 197.3 479.2 197.8 480.2 198.3 481.3 198.8 482.4 199.3 483.5 199.7 484.6 200.2 485.7 200.6 486.8 201.1 487.9 201.5 489 201.9 490.1 202.3 491.2 202.7 492.3 203.2 493.4 203.6 494.4 204 495.5 204.4 496.6 204.8 497.7 205.2 498.8 205.5 499.9 205.9 501 206.2 502.1 206.5 503.2 206.8 504.3 207.1 505.4 207.4 506.4 207.6 507.5 207.8 508.6 207.9 509.7 208 510.8 207.9 511.9 207.7 513 207.3 514.1 206.8 515.2 206.1 516.3 205.1 517.4 203.8 518.5 202 519.5 199.8 520.6 197.2 521.7 194.3 522.8 191 523.9 187.4 525 183.4 526.1 179 527.2 174.3 528.3 169.1 529.4 163.7 530.5 157.7 531.6 151.3 532.6 144.6 533.7 137.8 534.8 131.3 535.9 124.6 537 118 538.1 111.6 539.2 105.4 540.3 99.3 541.4 93.5 542.5 88 543.6 83 544.7 78.3 545.8 74 546.8 70.2 547.9 66.9 549 64.1 550.1 61.8 551.2 59.6 552.3 57.7 553.4 56.1 554.5 54.7 555.6 53.5 556.7 52.4 557.8 51.5 558.9 50.5 559.9 49.7 561 48.8 562.1 47.9 563.2 46.9 564.3 45.9 565.4 45 566.5 44 567.6 43 568.7 42 569.8 41 570.9 39.9 572 38.6 573 37.3 574.1 36 575.2 34.5 576.3 33.1 577.4 31.6 578.5 30.2 579.6 28.8 580.7 27.5 581.8 26.2 582.9 24.9 584 23.7 585 22.5 586.1 21.3 587.2 20.2 588.3 19.1 589.4 18.1 590.5 17.3 591.6 16.5 592.7 15.8 593.8 15.3 594.9 14.7 596 14.3 597.1 14 598.1 13.9 599.2 14 600.3 14.3 601.4 14.8 602.5 15.3 603.6 16 604.7 17 605.8 18 606.9 19.3 608 20.7 609.1 22.3 610.2 23.9 611.2 25.7 612.3 27.6 613.4 29.7 614.5 31.8 615.6 34 616.7 36.1 617.8 38.4 618.9 40.8 620 43.1 621.1 45.2 622.2 47.2 623.3 49.1 624.4 50.9 625.4 52.5 626.5 54.1 627.6 55.5 628.7 56.8 629.8 57.9 630.9 59 632 59.9 633.1 60.7 634.2 61.3 635.3 61.8 636.4 62.2 637.5 62.6 638.5 63 639.6 63.4 640.7 63.8 641.8 64.2 642.9 64.6 644 65 645.1 65.5 646.2 65.9 647.3 66.4 648.4 66.9 649.5 67.4 650.5 67.9 651.6 68.5 652.7 69.2 653.8 70 654.9 70.9 656 71.9 657.1 72.9 658.2 73.9 659.3 74.9 660.4 75.9 661.5 76.8 662.6 77.7 663.6 78.6 664.7 79.5 665.8 80.3 666.9 81.2 668 82.1 669.1 82.9 670.2 83.8 671.3 84.6 672.4 85.5 673.5 86.3 674.6 87.2 675.7 88 676.8 88.9 677.8 89.7 678.9 90.6 680 91.5 681.1 92.3 682.2 93.2 683.3 94.1 684.4 94.9 685.5 95.8 686.6 96.7 687.7 97.6 688.8 98.5 689.9 99.5 690.9 100.4 692 101.3 693.1 102.2 694.2 103.1 695.3 104.1 696.4 105 697.5 105.9 698.6 106.9 699.7 107.8 700.8 108.7 701.9 109.7 703 110.6 704 111.6 705.1 112.5 706.2 113.5 707.3 114.4 708.4 115.4 709.5 116.4 710.6 117.4 711.7 118.4 712.8 119.4 713.9 120.4 715 121.4 716 122.4 717.1 123.4 718.2 124.4 719.3 125.4 720.4 126.4 721.5 127.4 722.6 128.4 723.7 129.4 724.8 130.4 725.9 131.4 727 132.4 728.1 133.4 729.1 134.4 730.2 135.4 731.3 136.4 732.4 137.4 733.5 138.4 734.6 139.4 735.7 140.4 736.8 141.4 737.9 142.4 739 143.4 740.1 144.4 741.2 145.4 742.2 146.3 743.3 147.3 744.4 148.2 745.5 149.1 746.6 150 747.7 150.8 748.8 151.7 749.9 152.5 751 153.4 752.1 154.2 753.2 155 754.3 155.8 755.3 156.6 756.4 157.3 757.5 158.1 758.6 158.8 759.7 159.5 760.8 160.3 761.9 161 763 161.7 764.1 162.3 765.2 163 766.3 163.7 767.4 164.3 768.5 165 769.5 165.6 770.6 166.2 771.7 166.8 772.8 167.4 773.9 168 775 168.7" fill="none" stroke="#111" stroke-width="1.05" stroke-dasharray="4 2.2" stroke-linejoin="round" opacity="1"/>
<path d="M448.6 179.1 449.7 179.9 450.8 180.8 451.9 181.7 453 182.6 454.1 183.5 455.1 184.4 456.2 185.3 457.3 186.2 458.4 187.1 459.5 187.9 460.6 188.8 461.7 189.6 462.8 190.3 463.9 191.1 465 191.8 466.1 192.6 467.1 193.3 468.2 194 469.3 194.7 470.4 195.4 471.5 196 472.6 196.7 473.7 197.3 474.8 197.9 475.9 198.5 477 199.1 478.1 199.6 479.2 200.1 480.2 200.6 481.3 201.1 482.4 201.6 483.5 202 484.6 202.5 485.7 202.9 486.8 203.3 487.9 203.7 489 204.2 490.1 204.6 491.2 205 492.3 205.4 493.4 205.8 494.4 206.2 495.5 206.6 496.6 207 497.7 207.4 498.8 207.8 499.9 208.1 501 208.4 502.1 208.7 503.2 209 504.3 209.3 505.4 209.5 506.4 209.8 507.5 210 508.6 210.1 509.7 210.1 510.8 210.1 511.9 209.9 513 209.5 514.1 209 515.2 208.2 516.3 207.2 517.4 205.9 518.5 204.1 519.5 201.9 520.6 199.4 521.7 196.4 522.8 193.2 523.9 189.5 525 185.5 526.1 181.1 527.2 176.4 528.3 171.3 529.4 165.8 530.5 159.9 531.6 153.4 532.6 146.7 533.7 140 534.8 133.4 535.9 126.7 537 120.1 538.1 113.7 539.2 107.5 540.3 101.4 541.4 95.6 542.5 90.2 543.6 85.1 544.7 80.4 545.8 76.1 546.8 72.3 547.9 69 549 66.3 550.1 63.9 551.2 61.8 552.3 59.9 553.4 58.3 554.5 56.9 555.6 55.7 556.7 54.6 557.8 53.6 558.9 52.7 559.9 51.9 561 51 562.1 50.1 563.2 49.1 564.3 48.2 565.4 47.3 566.5 46.3 567.6 45.4 568.7 44.4 569.8 43.3 570.9 42.2 572 41 573 39.8 574.1 38.4 575.2 37 576.3 35.5 577.4 34.1 578.5 32.7 579.6 31.3 580.7 30 581.8 28.8 582.9 27.5 584 26.3 585 25.1 586.1 23.9 587.2 22.8 588.3 21.8 589.4 20.8 590.5 20 591.6 19.2 592.7 18.6 593.8 18 594.9 17.5 596 17.1 597.1 16.8 598.1 16.7 599.2 16.8 600.3 17.1 601.4 17.6 602.5 18.1 603.6 18.9 604.7 19.8 605.8 20.8 606.9 22.1 608 23.5 609.1 25.1 610.2 26.7 611.2 28.5 612.3 30.4 613.4 32.5 614.5 34.6 615.6 36.7 616.7 38.9 617.8 41.2 618.9 43.5 620 45.8 621.1 48 622.2 49.9 623.3 51.8 624.4 53.6 625.4 55.2 626.5 56.8 627.6 58.2 628.7 59.4 629.8 60.6 630.9 61.6 632 62.5 633.1 63.3 634.2 63.9 635.3 64.4 636.4 64.8 637.5 65.2 638.5 65.5 639.6 66 640.7 66.4 641.8 66.8 642.9 67.2 644 67.6 645.1 68 646.2 68.4 647.3 68.9 648.4 69.3 649.5 69.8 650.5 70.4 651.6 71 652.7 71.7 653.8 72.5 654.9 73.4 656 74.3 657.1 75.3 658.2 76.3 659.3 77.3 660.4 78.3 661.5 79.2 662.6 80.1 663.6 81 664.7 81.8 665.8 82.7 666.9 83.5 668 84.4 669.1 85.2 670.2 86.1 671.3 86.9 672.4 87.8 673.5 88.6 674.6 89.5 675.7 90.3 676.8 91.2 677.8 92 678.9 92.9 680 93.7 681.1 94.6 682.2 95.4 683.3 96.3 684.4 97.2 685.5 98 686.6 98.9 687.7 99.8 688.8 100.7 689.9 101.6 690.9 102.5 692 103.5 693.1 104.4 694.2 105.3 695.3 106.2 696.4 107.1 697.5 108.1 698.6 109 699.7 109.9 700.8 110.8 701.9 111.8 703 112.7 704 113.6 705.1 114.6 706.2 115.5 707.3 116.5 708.4 117.4 709.5 118.4 710.6 119.4 711.7 120.4 712.8 121.4 713.9 122.4 715 123.4 716 124.4 717.1 125.4 718.2 126.4 719.3 127.4 720.4 128.3 721.5 129.3 722.6 130.3 723.7 131.3 724.8 132.3 725.9 133.3 727 134.3 728.1 135.3 729.1 136.3 730.2 137.2 731.3 138.2 732.4 139.2 733.5 140.2 734.6 141.3 735.7 142.3 736.8 143.3 737.9 144.3 739 145.3 740.1 146.2 741.2 147.2 742.2 148.1 743.3 149 744.4 150 745.5 150.8 746.6 151.7 747.7 152.6 748.8 153.4 749.9 154.3 751 155.1 752.1 155.9 753.2 156.7 754.3 157.5 755.3 158.3 756.4 159 757.5 159.8 758.6 160.5 759.7 161.2 760.8 161.9 761.9 162.6 763 163.3 764.1 164 765.2 164.7 766.3 165.3 767.4 166 768.5 166.6 769.5 167.2 770.6 167.8 771.7 168.4 772.8 169 773.9 169.6 775 170.2" fill="none" stroke="#111" stroke-width="1.05" stroke-dasharray="4 2" stroke-linejoin="round" opacity="1"/>
<path d="M448.6 181.5 449.7 182.4 450.8 183.3 451.9 184.2 453 185.1 454.1 186 455.1 186.9 456.2 187.8 457.3 188.6 458.4 189.5 459.5 190.3 460.6 191.2 461.7 192 462.8 192.7 463.9 193.5 465 194.2 466.1 195 467.1 195.7 468.2 196.4 469.3 197.1 470.4 197.7 471.5 198.4 472.6 199 473.7 199.6 474.8 200.2 475.9 200.8 477 201.4 478.1 201.9 479.2 202.5 480.2 203 481.3 203.4 482.4 203.9 483.5 204.3 484.6 204.8 485.7 205.2 486.8 205.6 487.9 206 489 206.4 490.1 206.8 491.2 207.2 492.3 207.7 493.4 208.1 494.4 208.5 495.5 208.9 496.6 209.2 497.7 209.6 498.8 210 499.9 210.3 501 210.6 502.1 210.9 503.2 211.2 504.3 211.5 505.4 211.7 506.4 212 507.5 212.2 508.6 212.3 509.7 212.3 510.8 212.2 511.9 212 513 211.7 514.1 211.2 515.2 210.4 516.3 209.4 517.4 208.1 518.5 206.3 519.5 204.1 520.6 201.5 521.7 198.6 522.8 195.3 523.9 191.6 525 187.6 526.1 183.2 527.2 178.5 528.3 173.4 529.4 167.9 530.5 162 531.6 155.5 532.6 148.8 533.7 142.1 534.8 135.5 535.9 128.8 537 122.2 538.1 115.8 539.2 109.6 540.3 103.5 541.4 97.7 542.5 92.3 543.6 87.2 544.7 82.5 545.8 78.2 546.8 74.4 547.9 71.1 549 68.4 550.1 66 551.2 63.9 552.3 62 553.4 60.4 554.5 59.1 555.6 57.9 556.7 56.8 557.8 55.8 558.9 54.9 559.9 54.1 561 53.2 562.1 52.4 563.2 51.4 564.3 50.5 565.4 49.6 566.5 48.7 567.6 47.7 568.7 46.8 569.8 45.8 570.9 44.7 572 43.5 573 42.3 574.1 41 575.2 39.6 576.3 38.2 577.4 36.8 578.5 35.4 579.6 34.1 580.7 32.8 581.8 31.6 582.9 30.3 584 29.1 585 28 586.1 26.9 587.2 25.8 588.3 24.8 589.4 23.8 590.5 23 591.6 22.3 592.7 21.6 593.8 21.1 594.9 20.6 596 20.2 597.1 19.9 598.1 19.8 599.2 19.9 600.3 20.2 601.4 20.7 602.5 21.2 603.6 22 604.7 22.9 605.8 23.9 606.9 25.2 608 26.6 609.1 28.1 610.2 29.8 611.2 31.5 612.3 33.5 613.4 35.5 614.5 37.6 615.6 39.7 616.7 41.9 617.8 44.2 618.9 46.5 620 48.7 621.1 50.9 622.2 52.8 623.3 54.7 624.4 56.4 625.4 58.1 626.5 59.6 627.6 61 628.7 62.2 629.8 63.3 630.9 64.3 632 65.2 633.1 66 634.2 66.6 635.3 67.1 636.4 67.5 637.5 67.8 638.5 68.1 639.6 68.5 640.7 68.9 641.8 69.3 642.9 69.7 644 70.1 645.1 70.5 646.2 70.9 647.3 71.3 648.4 71.8 649.5 72.3 650.5 72.8 651.6 73.4 652.7 74.1 653.8 74.9 654.9 75.8 656 76.7 657.1 77.7 658.2 78.7 659.3 79.7 660.4 80.6 661.5 81.6 662.6 82.4 663.6 83.3 664.7 84.2 665.8 85 666.9 85.9 668 86.7 669.1 87.5 670.2 88.4 671.3 89.2 672.4 90 673.5 90.9 674.6 91.7 675.7 92.6 676.8 93.4 677.8 94.3 678.9 95.1 680 95.9 681.1 96.8 682.2 97.6 683.3 98.5 684.4 99.3 685.5 100.2 686.6 101.1 687.7 102 688.8 102.9 689.9 103.8 690.9 104.7 692 105.6 693.1 106.5 694.2 107.4 695.3 108.3 696.4 109.2 697.5 110.2 698.6 111.1 699.7 112 700.8 112.9 701.9 113.8 703 114.8 704 115.7 705.1 116.6 706.2 117.6 707.3 118.5 708.4 119.5 709.5 120.4 710.6 121.4 711.7 122.4 712.8 123.4 713.9 124.4 715 125.3 716 126.3 717.1 127.3 718.2 128.3 719.3 129.3 720.4 130.3 721.5 131.3 722.6 132.2 723.7 133.2 724.8 134.2 725.9 135.2 727 136.2 728.1 137.2 729.1 138.1 730.2 139.1 731.3 140.1 732.4 141.1 733.5 142.1 734.6 143.1 735.7 144.1 736.8 145.1 737.9 146.1 739 147.1 740.1 148 741.2 149 742.2 149.9 743.3 150.8 744.4 151.7 745.5 152.6 746.6 153.5 747.7 154.3 748.8 155.2 749.9 156 751 156.8 752.1 157.6 753.2 158.4 754.3 159.2 755.3 160 756.4 160.7 757.5 161.4 758.6 162.2 759.7 162.9 760.8 163.6 761.9 164.3 763 164.9 764.1 165.6 765.2 166.3 766.3 166.9 767.4 167.6 768.5 168.2 769.5 168.8 770.6 169.4 771.7 170 772.8 170.6 773.9 171.2 775 171.8" fill="none" stroke="#111" stroke-width="1.05" stroke-dasharray="4.5 1.8 1.2 1.8" stroke-linejoin="round" opacity="1"/>
<path d="M448.6 185 449.7 185.8 450.8 186.7 451.9 187.6 453 188.5 454.1 189.4 455.1 190.3 456.2 191.1 457.3 192 458.4 192.9 459.5 193.7 460.6 194.5 461.7 195.3 462.8 196.1 463.9 196.8 465 197.6 466.1 198.3 467.1 199 468.2 199.7 469.3 200.4 470.4 201.1 471.5 201.7 472.6 202.3 473.7 203 474.8 203.6 475.9 204.1 477 204.7 478.1 205.2 479.2 205.8 480.2 206.2 481.3 206.7 482.4 207.2 483.5 207.6 484.6 208 485.7 208.5 486.8 208.9 487.9 209.3 489 209.7 490.1 210.1 491.2 210.5 492.3 210.9 493.4 211.3 494.4 211.7 495.5 212.1 496.6 212.5 497.7 212.8 498.8 213.2 499.9 213.5 501 213.8 502.1 214.1 503.2 214.4 504.3 214.6 505.4 214.9 506.4 215.1 507.5 215.3 508.6 215.4 509.7 215.4 510.8 215.3 511.9 215.1 513 214.8 514.1 214.2 515.2 213.5 516.3 212.5 517.4 211.1 518.5 209.3 519.5 207.1 520.6 204.5 521.7 201.6 522.8 198.3 523.9 194.6 525 190.6 526.1 186.2 527.2 181.4 528.3 176.2 529.4 170.7 530.5 164.8 531.6 158.3 532.6 151.6 533.7 144.8 534.8 138.2 535.9 131.6 537 124.9 538.1 118.5 539.2 112.3 540.3 106.2 541.4 100.4 542.5 94.9 543.6 89.8 544.7 85.1 545.8 80.8 546.8 77 547.9 73.7 549 70.9 550.1 68.6 551.2 66.4 552.3 64.5 553.4 62.9 554.5 61.6 555.6 60.4 556.7 59.3 557.8 58.3 558.9 57.4 559.9 56.6 561 55.7 562.1 54.8 563.2 53.9 564.3 53 565.4 52.1 566.5 51.2 567.6 50.3 568.7 49.3 569.8 48.3 570.9 47.2 572 46.1 573 44.9 574.1 43.5 575.2 42.2 576.3 40.8 577.4 39.4 578.5 38 579.6 36.7 580.7 35.5 581.8 34.2 582.9 33 584 31.8 585 30.7 586.1 29.6 587.2 28.5 588.3 27.5 589.4 26.6 590.5 25.8 591.6 25 592.7 24.4 593.8 23.9 594.9 23.4 596 22.9 597.1 22.7 598.1 22.6 599.2 22.7 600.3 23 601.4 23.5 602.5 24 603.6 24.8 604.7 25.6 605.8 26.7 606.9 28 608 29.4 609.1 30.9 610.2 32.5 611.2 34.3 612.3 36.2 613.4 38.2 614.5 40.3 615.6 42.5 616.7 44.6 617.8 46.9 618.9 49.2 620 51.4 621.1 53.6 622.2 55.5 623.3 57.4 624.4 59.1 625.4 60.7 626.5 62.2 627.6 63.6 628.7 64.8 629.8 66 630.9 67 632 67.8 633.1 68.6 634.2 69.2 635.3 69.7 636.4 70 637.5 70.3 638.5 70.7 639.6 71.1 640.7 71.5 641.8 71.8 642.9 72.2 644 72.6 645.1 73 646.2 73.4 647.3 73.8 648.4 74.3 649.5 74.8 650.5 75.3 651.6 75.9 652.7 76.6 653.8 77.4 654.9 78.2 656 79.2 657.1 80.1 658.2 81.1 659.3 82.1 660.4 83 661.5 84 662.6 84.8 663.6 85.7 664.7 86.5 665.8 87.4 666.9 88.2 668 89 669.1 89.9 670.2 90.7 671.3 91.5 672.4 92.4 673.5 93.2 674.6 94 675.7 94.9 676.8 95.7 677.8 96.5 678.9 97.4 680 98.2 681.1 99 682.2 99.9 683.3 100.7 684.4 101.6 685.5 102.4 686.6 103.3 687.7 104.2 688.8 105.1 689.9 106 690.9 106.9 692 107.8 693.1 108.7 694.2 109.6 695.3 110.5 696.4 111.4 697.5 112.3 698.6 113.2 699.7 114.1 700.8 115 701.9 115.9 703 116.8 704 117.8 705.1 118.7 706.2 119.6 707.3 120.6 708.4 121.5 709.5 122.5 710.6 123.4 711.7 124.4 712.8 125.4 713.9 126.4 715 127.3 716 128.3 717.1 129.3 718.2 130.3 719.3 131.3 720.4 132.2 721.5 133.2 722.6 134.2 723.7 135.2 724.8 136.1 725.9 137.1 727 138.1 728.1 139.1 729.1 140 730.2 141 731.3 142 732.4 143 733.5 144 734.6 144.9 735.7 145.9 736.8 146.9 737.9 147.9 739 148.9 740.1 149.9 741.2 150.8 742.2 151.7 743.3 152.6 744.4 153.5 745.5 154.4 746.6 155.2 747.7 156.1 748.8 156.9 749.9 157.7 751 158.5 752.1 159.3 753.2 160.1 754.3 160.9 755.3 161.7 756.4 162.4 757.5 163.1 758.6 163.8 759.7 164.5 760.8 165.2 761.9 165.9 763 166.6 764.1 167.2 765.2 167.9 766.3 168.5 767.4 169.2 768.5 169.8 769.5 170.4 770.6 171 771.7 171.6 772.8 172.1 773.9 172.7 775 173.3" fill="none" stroke="#111" stroke-width="1.05" stroke-dasharray="3.6 2.2" stroke-linejoin="round" opacity="1"/>
<path d="M448.6 188.1 449.7 188.9 450.8 189.8 451.9 190.7 453 191.6 454.1 192.4 455.1 193.3 456.2 194.2 457.3 195.1 458.4 195.9 459.5 196.8 460.6 197.6 461.7 198.4 462.8 199.1 463.9 199.9 465 200.6 466.1 201.3 467.1 202 468.2 202.7 469.3 203.4 470.4 204.1 471.5 204.7 472.6 205.3 473.7 205.9 474.8 206.5 475.9 207.1 477 207.7 478.1 208.2 479.2 208.7 480.2 209.2 481.3 209.7 482.4 210.1 483.5 210.5 484.6 211 485.7 211.4 486.8 211.8 487.9 212.2 489 212.6 490.1 213 491.2 213.4 492.3 213.8 493.4 214.2 494.4 214.6 495.5 215 496.6 215.3 497.7 215.7 498.8 216 499.9 216.4 501 216.7 502.1 216.9 503.2 217.2 504.3 217.5 505.4 217.7 506.4 217.9 507.5 218.1 508.6 218.2 509.7 218.2 510.8 218.1 511.9 217.9 513 217.6 514.1 217 515.2 216.2 516.3 215.2 517.4 213.9 518.5 212.1 519.5 209.8 520.6 207.2 521.7 204.3 522.8 201 523.9 197.3 525 193.2 526.1 188.8 527.2 184.1 528.3 178.9 529.4 173.4 530.5 167.4 531.6 161 532.6 154.2 533.7 147.4 534.8 140.8 535.9 134.1 537 127.5 538.1 121.1 539.2 114.9 540.3 108.8 541.4 102.9 542.5 97.4 543.6 92.4 544.7 87.7 545.8 83.3 546.8 79.5 547.9 76.2 549 73.4 550.1 71.1 551.2 68.9 552.3 67 553.4 65.4 554.5 64 555.6 62.8 556.7 61.8 557.8 60.8 558.9 59.9 559.9 59.1 561 58.2 562.1 57.3 563.2 56.4 564.3 55.5 565.4 54.6 566.5 53.7 567.6 52.8 568.7 51.9 569.8 50.9 570.9 49.8 572 48.7 573 47.4 574.1 46.1 575.2 44.8 576.3 43.4 577.4 42 578.5 40.7 579.6 39.4 580.7 38.1 581.8 36.9 582.9 35.7 584 34.6 585 33.4 586.1 32.3 587.2 31.3 588.3 30.3 589.4 29.3 590.5 28.5 591.6 27.8 592.7 27.2 593.8 26.7 594.9 26.2 596 25.7 597.1 25.4 598.1 25.4 599.2 25.5 600.3 25.8 601.4 26.3 602.5 26.8 603.6 27.5 604.7 28.4 605.8 29.5 606.9 30.8 608 32.2 609.1 33.7 610.2 35.3 611.2 37.1 612.3 39 613.4 41 614.5 43.1 615.6 45.2 616.7 47.3 617.8 49.6 618.9 51.9 620 54.1 621.1 56.3 622.2 58.2 623.3 60 624.4 61.8 625.4 63.4 626.5 64.9 627.6 66.3 628.7 67.5 629.8 68.6 630.9 69.6 632 70.4 633.1 71.2 634.2 71.8 635.3 72.3 636.4 72.6 637.5 72.9 638.5 73.3 639.6 73.6 640.7 74 641.8 74.4 642.9 74.7 644 75.1 645.1 75.5 646.2 75.9 647.3 76.3 648.4 76.8 649.5 77.2 650.5 77.8 651.6 78.3 652.7 79 653.8 79.8 654.9 80.7 656 81.6 657.1 82.5 658.2 83.5 659.3 84.5 660.4 85.4 661.5 86.3 662.6 87.2 663.6 88.1 664.7 88.9 665.8 89.7 666.9 90.6 668 91.4 669.1 92.2 670.2 93 671.3 93.8 672.4 94.7 673.5 95.5 674.6 96.3 675.7 97.1 676.8 98 677.8 98.8 678.9 99.6 680 100.4 681.1 101.3 682.2 102.1 683.3 102.9 684.4 103.8 685.5 104.6 686.6 105.5 687.7 106.4 688.8 107.3 689.9 108.1 690.9 109 692 109.9 693.1 110.8 694.2 111.7 695.3 112.6 696.4 113.5 697.5 114.4 698.6 115.3 699.7 116.2 700.8 117.1 701.9 118 703 118.9 704 119.8 705.1 120.8 706.2 121.7 707.3 122.6 708.4 123.6 709.5 124.5 710.6 125.5 711.7 126.4 712.8 127.4 713.9 128.4 715 129.3 716 130.3 717.1 131.3 718.2 132.3 719.3 133.2 720.4 134.2 721.5 135.2 722.6 136.1 723.7 137.1 724.8 138.1 725.9 139 727 140 728.1 141 729.1 141.9 730.2 142.9 731.3 143.9 732.4 144.8 733.5 145.8 734.6 146.8 735.7 147.8 736.8 148.8 737.9 149.7 739 150.7 740.1 151.7 741.2 152.6 742.2 153.5 743.3 154.4 744.4 155.3 745.5 156.1 746.6 157 747.7 157.8 748.8 158.7 749.9 159.5 751 160.3 752.1 161.1 753.2 161.8 754.3 162.6 755.3 163.4 756.4 164.1 757.5 164.8 758.6 165.5 759.7 166.2 760.8 166.9 761.9 167.6 763 168.2 764.1 168.9 765.2 169.5 766.3 170.2 767.4 170.8 768.5 171.4 769.5 172 770.6 172.6 771.7 173.1 772.8 173.7 773.9 174.3 775 174.9" fill="none" stroke="#111" stroke-width="1.05" stroke-dasharray="4 2.2" stroke-linejoin="round" opacity="1"/>
<path d="M448.6 193.6 449.7 194.5 450.8 195.4 451.9 196.2 453 197.1 454.1 198 455.1 198.8 456.2 199.7 457.3 200.5 458.4 201.4 459.5 202.2 460.6 203 461.7 203.8 462.8 204.5 463.9 205.2 465 206 466.1 206.7 467.1 207.3 468.2 208 469.3 208.7 470.4 209.3 471.5 209.9 472.6 210.6 473.7 211.1 474.8 211.7 475.9 212.3 477 212.8 478.1 213.3 479.2 213.8 480.2 214.3 481.3 214.7 482.4 215.2 483.5 215.6 484.6 216 485.7 216.4 486.8 216.8 487.9 217.2 489 217.6 490.1 218 491.2 218.4 492.3 218.7 493.4 219.1 494.4 219.5 495.5 219.9 496.6 220.3 497.7 220.6 498.8 221 499.9 221.3 501 221.6 502.1 221.9 503.2 222.1 504.3 222.4 505.4 222.7 506.4 222.9 507.5 223.1 508.6 223.2 509.7 223.2 510.8 223.1 511.9 222.9 513 222.6 514.1 222 515.2 221.3 516.3 220.3 517.4 219 518.5 217.2 519.5 215 520.6 212.4 521.7 209.5 522.8 206.2 523.9 202.6 525 198.6 526.1 194.2 527.2 189.5 528.3 184.3 529.4 178.9 530.5 173 531.6 166.6 532.6 159.8 533.7 153.1 534.8 146.6 535.9 139.9 537 133.3 538.1 127 539.2 120.8 540.3 114.8 541.4 109 542.5 103.5 543.6 98.5 544.7 93.9 545.8 89.6 546.8 85.8 547.9 82.6 549 79.9 550.1 77.6 551.2 75.5 552.3 73.6 553.4 72.1 554.5 70.8 555.6 69.6 556.7 68.6 557.8 67.7 558.9 66.9 559.9 66.1 561 65.3 562.1 64.5 563.2 63.6 564.3 62.8 565.4 62 566.5 61.2 567.6 60.3 568.7 59.5 569.8 58.5 570.9 57.6 572 56.5 573 55.4 574.1 54.1 575.2 52.9 576.3 51.6 577.4 50.3 578.5 49 579.6 47.8 580.7 46.6 581.8 45.5 582.9 44.4 584 43.2 585 42.2 586.1 41.1 587.2 40.1 588.3 39.2 589.4 38.3 590.5 37.6 591.6 36.9 592.7 36.4 593.8 35.8 594.9 35.4 596 35 597.1 34.7 598.1 34.7 599.2 34.9 600.3 35.2 601.4 35.6 602.5 36.2 603.6 36.9 604.7 37.8 605.8 38.9 606.9 40.1 608 41.5 609.1 43 610.2 44.6 611.2 46.3 612.3 48.2 613.4 50.2 614.5 52.3 615.6 54.4 616.7 56.5 617.8 58.7 618.9 61 620 63.2 621.1 65.3 622.2 67.2 623.3 69 624.4 70.6 625.4 72.2 626.5 73.7 627.6 75 628.7 76.2 629.8 77.3 630.9 78.2 632 79 633.1 79.7 634.2 80.3 635.3 80.7 636.4 81 637.5 81.3 638.5 81.6 639.6 81.9 640.7 82.3 641.8 82.6 642.9 82.9 644 83.3 645.1 83.6 646.2 84 647.3 84.4 648.4 84.8 649.5 85.3 650.5 85.8 651.6 86.3 652.7 87 653.8 87.8 654.9 88.6 656 89.5 657.1 90.4 658.2 91.4 659.3 92.3 660.4 93.2 661.5 94.1 662.6 95 663.6 95.8 664.7 96.6 665.8 97.4 666.9 98.2 668 99 669.1 99.8 670.2 100.6 671.3 101.4 672.4 102.2 673.5 103 674.6 103.8 675.7 104.7 676.8 105.5 677.8 106.3 678.9 107.1 680 107.9 681.1 108.7 682.2 109.5 683.3 110.3 684.4 111.1 685.5 112 686.6 112.8 687.7 113.7 688.8 114.5 689.9 115.4 690.9 116.2 692 117.1 693.1 118 694.2 118.9 695.3 119.7 696.4 120.6 697.5 121.5 698.6 122.4 699.7 123.2 700.8 124.1 701.9 125 703 125.9 704 126.8 705.1 127.7 706.2 128.6 707.3 129.5 708.4 130.4 709.5 131.4 710.6 132.3 711.7 133.2 712.8 134.2 713.9 135.1 715 136.1 716 137 717.1 138 718.2 138.9 719.3 139.9 720.4 140.8 721.5 141.8 722.6 142.7 723.7 143.7 724.8 144.6 725.9 145.6 727 146.5 728.1 147.4 729.1 148.4 730.2 149.3 731.3 150.3 732.4 151.2 733.5 152.2 734.6 153.2 735.7 154.1 736.8 155.1 737.9 156.1 739 157 740.1 157.9 741.2 158.8 742.2 159.7 743.3 160.6 744.4 161.5 745.5 162.3 746.6 163.1 747.7 164 748.8 164.8 749.9 165.6 751 166.3 752.1 167.1 753.2 167.9 754.3 168.6 755.3 169.3 756.4 170 757.5 170.7 758.6 171.4 759.7 172.1 760.8 172.8 761.9 173.4 763 174 764.1 174.7 765.2 175.3 766.3 175.9 767.4 176.5 768.5 177.1 769.5 177.7 770.6 178.2 771.7 178.8 772.8 179.3 773.9 179.9 775 180.5" fill="none" stroke="#111" stroke-width="1.05" stroke-dasharray="4 2" stroke-linejoin="round" opacity="1"/>
<path d="M448.6 198 449.7 198.8 450.8 199.7 451.9 200.5 453 201.4 454.1 202.3 455.1 203.1 456.2 204 457.3 204.9 458.4 205.7 459.5 206.5 460.6 207.3 461.7 208.1 462.8 208.8 463.9 209.5 465 210.2 466.1 210.9 467.1 211.6 468.2 212.3 469.3 212.9 470.4 213.6 471.5 214.2 472.6 214.8 473.7 215.4 474.8 215.9 475.9 216.5 477 217 478.1 217.5 479.2 218 480.2 218.5 481.3 218.9 482.4 219.4 483.5 219.8 484.6 220.2 485.7 220.6 486.8 221 487.9 221.3 489 221.7 490.1 222.1 491.2 222.5 492.3 222.9 493.4 223.3 494.4 223.6 495.5 224 496.6 224.4 497.7 224.7 498.8 225.1 499.9 225.4 501 225.7 502.1 225.9 503.2 226.2 504.3 226.5 505.4 226.7 506.4 226.9 507.5 227.1 508.6 227.2 509.7 227.2 510.8 227.2 511.9 226.9 513 226.6 514.1 226 515.2 225.3 516.3 224.3 517.4 223 518.5 221.2 519.5 219 520.6 216.4 521.7 213.4 522.8 210.2 523.9 206.5 525 202.5 526.1 198.1 527.2 193.4 528.3 188.2 529.4 182.8 530.5 176.8 531.6 170.4 532.6 163.7 533.7 157 534.8 150.4 535.9 143.7 537 137.2 538.1 130.8 539.2 124.6 540.3 118.5 541.4 112.7 542.5 107.3 543.6 102.3 544.7 97.6 545.8 93.4 546.8 89.6 547.9 86.3 549 83.6 550.1 81.3 551.2 79.2 552.3 77.4 553.4 75.8 554.5 74.5 555.6 73.4 556.7 72.3 557.8 71.4 558.9 70.6 559.9 69.8 561 69 562.1 68.2 563.2 67.4 564.3 66.6 565.4 65.8 566.5 65 567.6 64.1 568.7 63.3 569.8 62.4 570.9 61.4 572 60.4 573 59.2 574.1 58 575.2 56.8 576.3 55.5 577.4 54.2 578.5 53 579.6 51.7 580.7 50.6 581.8 49.5 582.9 48.4 584 47.3 585 46.2 586.1 45.2 587.2 44.3 588.3 43.3 589.4 42.5 590.5 41.8 591.6 41.1 592.7 40.6 593.8 40.1 594.9 39.7 596 39.3 597.1 39 598.1 39 599.2 39.2 600.3 39.6 601.4 40 602.5 40.6 603.6 41.4 604.7 42.3 605.8 43.4 606.9 44.7 608 46.1 609.1 47.6 610.2 49.3 611.2 51 612.3 52.9 613.4 55 614.5 57.1 615.6 59.2 616.7 61.4 617.8 63.6 618.9 65.9 620 68.2 621.1 70.3 622.2 72.2 623.3 74.1 624.4 75.8 625.4 77.4 626.5 78.9 627.6 80.3 628.7 81.5 629.8 82.6 630.9 83.5 632 84.4 633.1 85.1 634.2 85.7 635.3 86.2 636.4 86.5 637.5 86.8 638.5 87.1 639.6 87.5 640.7 87.8 641.8 88.2 642.9 88.5 644 88.9 645.1 89.2 646.2 89.6 647.3 90 648.4 90.4 649.5 90.9 650.5 91.4 651.6 91.9 652.7 92.6 653.8 93.3 654.9 94.2 656 95 657.1 96 658.2 96.9 659.3 97.9 660.4 98.8 661.5 99.7 662.6 100.5 663.6 101.3 664.7 102.1 665.8 103 666.9 103.7 668 104.5 669.1 105.3 670.2 106.1 671.3 106.9 672.4 107.7 673.5 108.5 674.6 109.3 675.7 110.1 676.8 110.9 677.8 111.7 678.9 112.5 680 113.2 681.1 114 682.2 114.8 683.3 115.6 684.4 116.5 685.5 117.3 686.6 118.1 687.7 119 688.8 119.8 689.9 120.6 690.9 121.5 692 122.4 693.1 123.2 694.2 124.1 695.3 124.9 696.4 125.8 697.5 126.7 698.6 127.5 699.7 128.4 700.8 129.3 701.9 130.1 703 131 704 131.9 705.1 132.8 706.2 133.7 707.3 134.5 708.4 135.4 709.5 136.4 710.6 137.3 711.7 138.2 712.8 139.1 713.9 140.1 715 141 716 141.9 717.1 142.9 718.2 143.8 719.3 144.7 720.4 145.7 721.5 146.6 722.6 147.5 723.7 148.5 724.8 149.4 725.9 150.3 727 151.2 728.1 152.2 729.1 153.1 730.2 154 731.3 155 732.4 155.9 733.5 156.8 734.6 157.8 735.7 158.7 736.8 159.7 737.9 160.6 739 161.6 740.1 162.5 741.2 163.4 742.2 164.2 743.3 165.1 744.4 165.9 745.5 166.8 746.6 167.6 747.7 168.4 748.8 169.2 749.9 169.9 751 170.7 752.1 171.5 753.2 172.2 754.3 172.9 755.3 173.6 756.4 174.3 757.5 175 758.6 175.7 759.7 176.3 760.8 177 761.9 177.6 763 178.2 764.1 178.9 765.2 179.5 766.3 180.1 767.4 180.7 768.5 181.2 769.5 181.8 770.6 182.3 771.7 182.9 772.8 183.4 773.9 184 775 184.5" fill="none" stroke="#111" stroke-width="1.05" stroke-dasharray="4.5 1.8 1.2 1.8" stroke-linejoin="round" opacity="1"/>
<path d="M448.6 201.7 449.7 202.6 450.8 203.4 451.9 204.3 453 205.1 454.1 206 455.1 206.8 456.2 207.7 457.3 208.5 458.4 209.3 459.5 210.1 460.6 210.9 461.7 211.7 462.8 212.4 463.9 213.1 465 213.8 466.1 214.4 467.1 215.1 468.2 215.7 469.3 216.4 470.4 217 471.5 217.6 472.6 218.2 473.7 218.7 474.8 219.3 475.9 219.8 477 220.3 478.1 220.8 479.2 221.3 480.2 221.7 481.3 222.2 482.4 222.6 483.5 223 484.6 223.4 485.7 223.8 486.8 224.1 487.9 224.5 489 224.9 490.1 225.3 491.2 225.7 492.3 226.1 493.4 226.5 494.4 226.9 495.5 227.3 496.6 227.7 497.7 228 498.8 228.4 499.9 228.7 501 229.1 502.1 229.4 503.2 229.7 504.3 230 505.4 230.3 506.4 230.6 507.5 230.9 508.6 231.1 509.7 231.2 510.8 231.2 511.9 231 513 230.8 514.1 230.4 515.2 229.8 516.3 228.9 517.4 227.8 518.5 226.1 519.5 224.1 520.6 221.7 521.7 219 522.8 216 523.9 212.5 525 208.7 526.1 204.6 527.2 200.1 528.3 195.2 529.4 190 530.5 184.4 531.6 178.2 532.6 171.7 533.7 165.3 534.8 159 535.9 152.6 537 146.3 538.1 140.1 539.2 134.2 540.3 128.5 541.4 122.9 542.5 117.7 543.6 113 544.7 108.6 545.8 104.5 546.8 101 547.9 98 549 95.5 550.1 93.3 551.2 91.5 552.3 89.8 553.4 88.4 554.5 87.3 555.6 86.3 556.7 85.4 557.8 84.6 558.9 83.9 559.9 83.2 561 82.6 562.1 81.9 563.2 81.2 564.3 80.5 565.4 79.7 566.5 79 567.6 78.3 568.7 77.5 569.8 76.7 570.9 75.9 572 74.9 573 73.8 574.1 72.7 575.2 71.5 576.3 70.3 577.4 69 578.5 67.8 579.6 66.6 580.7 65.5 581.8 64.4 582.9 63.4 584 62.3 585 61.2 586.1 60.2 587.2 59.2 588.3 58.3 589.4 57.4 590.5 56.6 591.6 56 592.7 55.4 593.8 54.8 594.9 54.3 596 53.8 597.1 53.5 598.1 53.4 599.2 53.5 600.3 53.7 601.4 54 602.5 54.4 603.6 55 604.7 55.7 605.8 56.6 606.9 57.7 608 58.9 609.1 60.2 610.2 61.6 611.2 63.1 612.3 64.7 613.4 66.5 614.5 68.3 615.6 70.1 616.7 72 617.8 73.9 618.9 75.9 620 77.9 621.1 79.7 622.2 81.3 623.3 82.8 624.4 84.3 625.4 85.6 626.5 86.8 627.6 87.8 628.7 88.7 629.8 89.5 630.9 90.2 632 90.8 633.1 91.3 634.2 91.6 635.3 91.8 636.4 91.9 637.5 91.9 638.5 92 639.6 92.2 640.7 92.4 641.8 92.5 642.9 92.7 644 92.9 645.1 93.2 646.2 93.4 647.3 93.8 648.4 94.1 649.5 94.5 650.5 94.9 651.6 95.4 652.7 96 653.8 96.7 654.9 97.5 656 98.3 657.1 99.2 658.2 100.1 659.3 101 660.4 101.8 661.5 102.7 662.6 103.5 663.6 104.3 664.7 105 665.8 105.8 666.9 106.6 668 107.3 669.1 108.1 670.2 108.8 671.3 109.6 672.4 110.4 673.5 111.1 674.6 111.9 675.7 112.7 676.8 113.4 677.8 114.2 678.9 115 680 115.8 681.1 116.5 682.2 117.3 683.3 118.1 684.4 118.9 685.5 119.7 686.6 120.6 687.7 121.4 688.8 122.2 689.9 123.1 690.9 123.9 692 124.8 693.1 125.6 694.2 126.5 695.3 127.3 696.4 128.2 697.5 129.1 698.6 129.9 699.7 130.8 700.8 131.7 701.9 132.5 703 133.4 704 134.3 705.1 135.2 706.2 136.1 707.3 137 708.4 137.9 709.5 138.8 710.6 139.8 711.7 140.7 712.8 141.6 713.9 142.6 715 143.5 716 144.5 717.1 145.4 718.2 146.4 719.3 147.3 720.4 148.3 721.5 149.2 722.6 150.1 723.7 151.1 724.8 152 725.9 153 727 153.9 728.1 154.9 729.1 155.8 730.2 156.8 731.3 157.7 732.4 158.7 733.5 159.6 734.6 160.6 735.7 161.5 736.8 162.5 737.9 163.5 739 164.4 740.1 165.3 741.2 166.2 742.2 167.1 743.3 168 744.4 168.9 745.5 169.7 746.6 170.5 747.7 171.3 748.8 172.2 749.9 172.9 751 173.7 752.1 174.5 753.2 175.2 754.3 176 755.3 176.7 756.4 177.4 757.5 178.1 758.6 178.8 759.7 179.4 760.8 180.1 761.9 180.7 763 181.3 764.1 182 765.2 182.6 766.3 183.2 767.4 183.8 768.5 184.4 769.5 184.9 770.6 185.5 771.7 186 772.8 186.5 773.9 187.1 775 187.6" fill="none" stroke="#111" stroke-width="1.05" stroke-dasharray="3.6 2.2" stroke-linejoin="round" opacity="1"/>
<path d="M448.6 212.3 449.7 213.1 450.8 214 451.9 214.8 453 215.7 454.1 216.5 455.1 217.4 456.2 218.2 457.3 219 458.4 219.8 459.5 220.6 460.6 221.4 461.7 222.1 462.8 222.8 463.9 223.5 465 224.1 466.1 224.8 467.1 225.4 468.2 226.1 469.3 226.7 470.4 227.3 471.5 227.9 472.6 228.4 473.7 229 474.8 229.5 475.9 230 477 230.5 478.1 231 479.2 231.5 480.2 231.9 481.3 232.3 482.4 232.7 483.5 233.1 484.6 233.5 485.7 233.9 486.8 234.3 487.9 234.6 489 235 490.1 235.4 491.2 235.8 492.3 236.2 493.4 236.6 494.4 237 495.5 237.3 496.6 237.7 497.7 238.1 498.8 238.5 499.9 238.8 501 239.2 502.1 239.5 503.2 239.8 504.3 240.2 505.4 240.5 506.4 240.8 507.5 241.1 508.6 241.3 509.7 241.4 510.8 241.4 511.9 241.3 513 241.1 514.1 240.7 515.2 240.2 516.3 239.3 517.4 238.2 518.5 236.7 519.5 234.7 520.6 232.4 521.7 229.7 522.8 226.7 523.9 223.4 525 219.7 526.1 215.6 527.2 211.2 528.3 206.4 529.4 201.3 530.5 195.7 531.6 189.6 532.6 183.2 533.7 176.9 534.8 170.6 535.9 164.4 537 158.1 538.1 152.1 539.2 146.3 540.3 140.6 541.4 135.1 542.5 130 543.6 125.3 544.7 121 545.8 117 546.8 113.5 547.9 110.6 549 108.2 550.1 106.1 551.2 104.3 552.3 102.7 553.4 101.3 554.5 100.2 555.6 99.3 556.7 98.4 557.8 97.7 558.9 97 559.9 96.4 561 95.7 562.1 95.1 563.2 94.4 564.3 93.7 565.4 93 566.5 92.3 567.6 91.5 568.7 90.8 569.8 90 570.9 89.1 572 88.1 573 87 574.1 85.9 575.2 84.7 576.3 83.4 577.4 82.2 578.5 81 579.6 79.8 580.7 78.7 581.8 77.6 582.9 76.5 584 75.4 585 74.3 586.1 73.3 587.2 72.3 588.3 71.3 589.4 70.5 590.5 69.7 591.6 69 592.7 68.4 593.8 67.8 594.9 67.3 596 66.9 597.1 66.6 598.1 66.4 599.2 66.5 600.3 66.7 601.4 67.1 602.5 67.5 603.6 68.1 604.7 68.9 605.8 69.8 606.9 70.9 608 72.1 609.1 73.4 610.2 74.8 611.2 76.4 612.3 78.1 613.4 79.8 614.5 81.7 615.6 83.6 616.7 85.4 617.8 87.4 618.9 89.5 620 91.4 621.1 93.3 622.2 95 623.3 96.5 624.4 98 625.4 99.3 626.5 100.5 627.6 101.6 628.7 102.6 629.8 103.4 630.9 104.1 632 104.7 633.1 105.2 634.2 105.6 635.3 105.8 636.4 105.9 637.5 105.9 638.5 106.1 639.6 106.2 640.7 106.4 641.8 106.6 642.9 106.8 644 107 645.1 107.2 646.2 107.4 647.3 107.7 648.4 108.1 649.5 108.4 650.5 108.9 651.6 109.3 652.7 109.9 653.8 110.6 654.9 111.3 656 112.1 657.1 113 658.2 113.9 659.3 114.7 660.4 115.6 661.5 116.4 662.6 117.2 663.6 117.9 664.7 118.7 665.8 119.4 666.9 120.2 668 120.9 669.1 121.6 670.2 122.4 671.3 123.1 672.4 123.8 673.5 124.6 674.6 125.3 675.7 126.1 676.8 126.8 677.8 127.5 678.9 128.3 680 129 681.1 129.8 682.2 130.5 683.3 131.3 684.4 132.1 685.5 132.9 686.6 133.7 687.7 134.5 688.8 135.3 689.9 136.1 690.9 136.9 692 137.7 693.1 138.5 694.2 139.4 695.3 140.2 696.4 141 697.5 141.8 698.6 142.7 699.7 143.5 700.8 144.3 701.9 145.2 703 146 704 146.9 705.1 147.7 706.2 148.6 707.3 149.5 708.4 150.3 709.5 151.2 710.6 152.1 711.7 153 712.8 153.9 713.9 154.8 715 155.7 716 156.7 717.1 157.6 718.2 158.5 719.3 159.4 720.4 160.3 721.5 161.2 722.6 162.1 723.7 163 724.8 163.9 725.9 164.8 727 165.7 728.1 166.6 729.1 167.5 730.2 168.5 731.3 169.4 732.4 170.3 733.5 171.2 734.6 172.1 735.7 173.1 736.8 174 737.9 174.9 739 175.8 740.1 176.7 741.2 177.6 742.2 178.4 743.3 179.3 744.4 180.1 745.5 180.9 746.6 181.7 747.7 182.5 748.8 183.2 749.9 184 751 184.7 752.1 185.5 753.2 186.2 754.3 186.9 755.3 187.6 756.4 188.2 757.5 188.9 758.6 189.5 759.7 190.1 760.8 190.8 761.9 191.4 763 192 764.1 192.6 765.2 193.1 766.3 193.7 767.4 194.3 768.5 194.8 769.5 195.3 770.6 195.8 771.7 196.3 772.8 196.8 773.9 197.4 775 197.9" fill="none" stroke="#111" stroke-width="1.05" stroke-dasharray="4 2.2" stroke-linejoin="round" opacity="1"/>
<path d="M448.6 191.2 449.7 192 450.8 192.9 451.9 193.7 453 194.6 454.1 195.5 455.1 196.4 456.2 197.2 457.3 198.1 458.4 198.9 459.5 199.8 460.6 200.6 461.7 201.3 462.8 202.1 463.9 202.8 465 203.5 466.1 204.2 467.1 204.9 468.2 205.6 469.3 206.3 470.4 206.9 471.5 207.6 472.6 208.2 473.7 208.8 474.8 209.4 475.9 209.9 477 210.5 478.1 211 479.2 211.5 480.2 212 481.3 212.4 482.4 212.9 483.5 213.3 484.6 213.7 485.7 214.1 486.8 214.5 487.9 214.9 489 215.3 490.1 215.7 491.2 216.1 492.3 216.4 493.4 216.8 494.4 217.2 495.5 217.6 496.6 217.9 497.7 218.3 498.8 218.6 499.9 218.9 501 219.2 502.1 219.5 503.2 219.8 504.3 220 505.4 220.3 506.4 220.5 507.5 220.6 508.6 220.7 509.7 220.7 510.8 220.6 511.9 220.4 513 220 514.1 219.5 515.2 218.7 516.3 217.7 517.4 216.3 518.5 214.5 519.5 212.2 520.6 209.6 521.7 206.7 522.8 203.3 523.9 199.7 525 195.6 526.1 191.2 527.2 186.4 528.3 181.2 529.4 175.7 530.5 169.7 531.6 163.3 532.6 156.5 533.7 149.7 534.8 143.1 535.9 136.4 537 129.8 538.1 123.3 539.2 117.1 540.3 111 541.4 105.1 542.5 99.6 543.6 94.6 544.7 89.8 545.8 85.5 546.8 81.7 547.9 78.4 549 75.6 550.1 73.2 551.2 71.1 552.3 69.2 553.4 67.6 554.5 66.2 555.6 65 556.7 63.9 557.8 63 558.9 62.1 559.9 61.3 561 60.4 562.1 59.6 563.2 58.7 564.3 57.8 565.4 56.9 566.5 56 567.6 55.1 568.7 54.2 569.8 53.2 570.9 52.2 572 51.1 573 49.8 574.1 48.6 575.2 47.2 576.3 45.9 577.4 44.5 578.5 43.2 579.6 41.9 580.7 40.7 581.8 39.5 582.9 38.3 584 37.2 585 36 586.1 35 587.2 33.9 588.3 32.9 589.4 32 590.5 31.2 591.6 30.6 592.7 29.9 593.8 29.4 594.9 28.9 596 28.5 597.1 28.2 598.1 28.2 599.2 28.3 600.3 28.6 601.4 29.1 602.5 29.6 603.6 30.4 604.7 31.2 605.8 32.3 606.9 33.6 608 35 609.1 36.5 610.2 38.1 611.2 39.9 612.3 41.8 613.4 43.8 614.5 45.9 615.6 48 616.7 50.1 617.8 52.4 618.9 54.6 620 56.9 621.1 59 622.2 60.9 623.3 62.8 624.4 64.5 625.4 66.1 626.5 67.6 627.6 68.9 628.7 70.2 629.8 71.3 630.9 72.2 632 73.1 633.1 73.8 634.2 74.4 635.3 74.9 636.4 75.2 637.5 75.5 638.5 75.8 639.6 76.2 640.7 76.6 641.8 76.9 642.9 77.3 644 77.6 645.1 78 646.2 78.4 647.3 78.8 648.4 79.3 649.5 79.7 650.5 80.2 651.6 80.8 652.7 81.5 653.8 82.2 654.9 83.1 656 84 657.1 84.9 658.2 85.9 659.3 86.9 660.4 87.8 661.5 88.7 662.6 89.6 663.6 90.4 664.7 91.2 665.8 92.1 666.9 92.9 668 93.7 669.1 94.5 670.2 95.3 671.3 96.1 672.4 96.9 673.5 97.7 674.6 98.6 675.7 99.4 676.8 100.2 677.8 101 678.9 101.8 680 102.6 681.1 103.4 682.2 104.3 683.3 105.1 684.4 105.9 685.5 106.8 686.6 107.6 687.7 108.5 688.8 109.4 689.9 110.2 690.9 111.1 692 112 693.1 112.9 694.2 113.8 695.3 114.7 696.4 115.5 697.5 116.4 698.6 117.3 699.7 118.2 700.8 119.1 701.9 120 703 120.9 704 121.8 705.1 122.7 706.2 123.6 707.3 124.5 708.4 125.5 709.5 126.4 710.6 127.3 711.7 128.3 712.8 129.3 713.9 130.2 715 131.2 716 132.1 717.1 133.1 718.2 134.1 719.3 135 720.4 136 721.5 136.9 722.6 137.9 723.7 138.8 724.8 139.8 725.9 140.8 727 141.7 728.1 142.7 729.1 143.6 730.2 144.6 731.3 145.5 732.4 146.5 733.5 147.5 734.6 148.4 735.7 149.4 736.8 150.4 737.9 151.4 739 152.3 740.1 153.3 741.2 154.2 742.2 155.1 743.3 156 744.4 156.8 745.5 157.7 746.6 158.5 747.7 159.4 748.8 160.2 749.9 161 751 161.8 752.1 162.5 753.2 163.3 754.3 164.1 755.3 164.8 756.4 165.5 757.5 166.2 758.6 166.9 759.7 167.6 760.8 168.3 761.9 168.9 763 169.6 764.1 170.2 765.2 170.9 766.3 171.5 767.4 172.1 768.5 172.7 769.5 173.3 770.6 173.8 771.7 174.4 772.8 175 773.9 175.5 775 176.1" fill="none" stroke="#111" stroke-width="1.05" stroke-dasharray="4 2" stroke-linejoin="round" opacity="1"/>
<path d="M448.6 190.2 449.7 191.1 450.8 191.9 451.9 192.8 453 193.7 454.1 194.6 455.1 195.5 456.2 196.3 457.3 197.2 458.4 198 459.5 198.8 460.6 199.6 461.7 200.4 462.8 201.2 463.9 201.9 465 202.6 466.1 203.3 467.1 204 468.2 204.7 469.3 205.4 470.4 206 471.5 206.7 472.6 207.3 473.7 207.9 474.8 208.5 475.9 209 477 209.6 478.1 210.1 479.2 210.6 480.2 211.1 481.3 211.5 482.4 212 483.5 212.4 484.6 212.8 485.7 213.2 486.8 213.6 487.9 214 489 214.4 490.1 214.8 491.2 215.2 492.3 215.6 493.4 216 494.4 216.3 495.5 216.7 496.6 217.1 497.7 217.5 498.8 217.8 499.9 218.1 501 218.4 502.1 218.7 503.2 219 504.3 219.3 505.4 219.5 506.4 219.8 507.5 219.9 508.6 220.1 509.7 220.1 510.8 220 511.9 219.8 513 219.5 514.1 218.9 515.2 218.2 516.3 217.2 517.4 215.9 518.5 214.1 519.5 211.9 520.6 209.3 521.7 206.4 522.8 203.1 523.9 199.5 525 195.5 526.1 191.1 527.2 186.4 528.3 181.3 529.4 175.8 530.5 169.9 531.6 163.5 532.6 156.8 533.7 150.1 534.8 143.5 535.9 136.9 537 130.3 538.1 123.9 539.2 117.8 540.3 111.7 541.4 105.9 542.5 100.5 543.6 95.5 544.7 90.8 545.8 86.6 546.8 82.8 547.9 79.6 549 76.8 550.1 74.5 551.2 72.4 552.3 70.6 553.4 69 554.5 67.7 555.6 66.5 556.7 65.5 557.8 64.6 558.9 63.7 559.9 62.9 561 62.1 562.1 61.3 563.2 60.4 564.3 59.6 565.4 58.7 566.5 57.9 567.6 57 568.7 56.1 569.8 55.2 570.9 54.2 572 53.1 573 51.9 574.1 50.7 575.2 49.3 576.3 48 577.4 46.7 578.5 45.4 579.6 44.1 580.7 42.9 581.8 41.8 582.9 40.6 584 39.5 585 38.4 586.1 37.3 587.2 36.3 588.3 35.3 589.4 34.4 590.5 33.7 591.6 33 592.7 32.4 593.8 31.9 594.9 31.4 596 31 597.1 30.7 598.1 30.6 599.2 30.8 600.3 31.1 601.4 31.6 602.5 32.1 603.6 32.8 604.7 33.7 605.8 34.8 606.9 36 608 37.4 609.1 38.9 610.2 40.5 611.2 42.3 612.3 44.2 613.4 46.2 614.5 48.2 615.6 50.3 616.7 52.5 617.8 54.7 618.9 57 620 59.2 621.1 61.3 622.2 63.2 623.3 65 624.4 66.7 625.4 68.3 626.5 69.8 627.6 71.1 628.7 72.3 629.8 73.4 630.9 74.3 632 75.2 633.1 75.9 634.2 76.5 635.3 76.9 636.4 77.2 637.5 77.5 638.5 77.8 639.6 78.2 640.7 78.5 641.8 78.8 642.9 79.2 644 79.5 645.1 79.9 646.2 80.3 647.3 80.7 648.4 81.1 649.5 81.6 650.5 82.1 651.6 82.6 652.7 83.3 653.8 84.1 654.9 84.9 656 85.8 657.1 86.7 658.2 87.7 659.3 88.6 660.4 89.6 661.5 90.5 662.6 91.3 663.6 92.2 664.7 93 665.8 93.8 666.9 94.6 668 95.4 669.1 96.2 670.2 97 671.3 97.8 672.4 98.6 673.5 99.4 674.6 100.3 675.7 101.1 676.8 101.9 677.8 102.7 678.9 103.5 680 104.3 681.1 105.1 682.2 105.9 683.3 106.7 684.4 107.6 685.5 108.4 686.6 109.3 687.7 110.1 688.8 111 689.9 111.9 690.9 112.7 692 113.6 693.1 114.5 694.2 115.4 695.3 116.2 696.4 117.1 697.5 118 698.6 118.9 699.7 119.8 700.8 120.7 701.9 121.6 703 122.4 704 123.3 705.1 124.2 706.2 125.2 707.3 126.1 708.4 127 709.5 127.9 710.6 128.9 711.7 129.8 712.8 130.8 713.9 131.7 715 132.7 716 133.6 717.1 134.6 718.2 135.6 719.3 136.5 720.4 137.5 721.5 138.4 722.6 139.4 723.7 140.3 724.8 141.3 725.9 142.2 727 143.2 728.1 144.1 729.1 145.1 730.2 146 731.3 147 732.4 147.9 733.5 148.9 734.6 149.9 735.7 150.8 736.8 151.8 737.9 152.8 739 153.7 740.1 154.7 741.2 155.6 742.2 156.5 743.3 157.3 744.4 158.2 745.5 159.1 746.6 159.9 747.7 160.7 748.8 161.5 749.9 162.3 751 163.1 752.1 163.9 753.2 164.6 754.3 165.4 755.3 166.1 756.4 166.8 757.5 167.5 758.6 168.2 759.7 168.9 760.8 169.6 761.9 170.2 763 170.9 764.1 171.5 765.2 172.2 766.3 172.8 767.4 173.4 768.5 174 769.5 174.5 770.6 175.1 771.7 175.7 772.8 176.2 773.9 176.8 775 177.4" fill="none" stroke="#000" stroke-width="4.0" stroke-linejoin="round" opacity="1"/>
</g>
<path d="M483.9 566.1v-3.2M483.9 320.1v3.2M520.3 566.1v-3.2M520.3 320.1v3.2M556.7 566.1v-3.2M556.7 320.1v3.2M593.1 566.1v-3.2M593.1 320.1v3.2M629.4 566.1v-3.2M629.4 320.1v3.2M665.8 566.1v-3.2M665.8 320.1v3.2M702.2 566.1v-3.2M702.2 320.1v3.2M738.6 566.1v-3.2M738.6 320.1v3.2M447.5 535.4h3.2M775 535.4h-3.2M447.5 504.6h3.2M775 504.6h-3.2M447.5 473.9h3.2M775 473.9h-3.2M447.5 443.1h3.2M775 443.1h-3.2M447.5 412.4h3.2M775 412.4h-3.2M447.5 381.6h3.2M775 381.6h-3.2M447.5 350.9h3.2M775 350.9h-3.2" stroke="#868686" stroke-width="1" fill="none"/>
<rect x="447.5" y="320.1" width="327.5" height="246" fill="none" stroke="#868686" stroke-width="1"/>
<g font-size="13" fill="#111" text-anchor="middle">
<text x="447.4" y="579.3">0</text>
<text x="483.8" y="579.3">100</text>
<text x="520.2" y="579.3">200</text>
<text x="556.6" y="579.3">300</text>
<text x="593" y="579.3">400</text>
<text x="629.3" y="579.3">500</text>
<text x="665.7" y="579.3">600</text>
<text x="702.1" y="579.3">700</text>
<text x="738.5" y="579.3">800</text>
<text x="774.9" y="579.3">900</text>
</g>
<g font-size="13" fill="#111" text-anchor="end">
<text x="442.3" y="570.7">5</text>
<text x="442.3" y="540">6</text>
<text x="442.3" y="509.2">7</text>
<text x="442.3" y="478.5">8</text>
<text x="442.3" y="447.7">9</text>
<text x="442.3" y="417">10</text>
<text x="442.3" y="386.2">11</text>
<text x="442.3" y="355.5">12</text>
<text x="442.3" y="324.7">13</text>
</g>
<text x="611.5" y="597" font-size="13.5" fill="#111" text-anchor="middle">Time [ms]</text>
<text transform="translate(413.9 435) rotate(-90)" font-size="13.3" fill="#111" text-anchor="middle">ICP [mmHg]</text>
<clipPath id="cbr"><rect x="447.5" y="320.1" width="327.5" height="246.0"/></clipPath>
<g clip-path="url(#cbr)">
<path d="M448.6 496 449.7 496.6 450.8 497.2 451.9 497.8 453 498.4 454.1 499 455.1 499.6 456.2 500.3 457.3 501 458.4 501.7 459.5 502.4 460.6 503.1 461.7 503.9 462.8 504.6 463.9 505.3 465 506 466.1 506.7 467.1 507.4 468.2 508.1 469.3 508.8 470.4 509.5 471.5 510.1 472.6 510.7 473.7 511.4 474.8 511.9 475.9 512.5 477 513 478.1 513.4 479.2 513.8 480.2 514.2 481.3 514.5 482.4 514.8 483.5 514.9 484.6 514.9 485.7 514.7 486.8 514.4 487.9 513.7 489 512.6 490.1 511.2 491.2 509.3 492.3 507.1 493.4 504.5 494.4 501.5 495.5 498 496.6 493.8 497.7 489.2 498.8 484.2 499.9 479.2 501 474 502.1 468.5 503.2 463.1 504.3 457.6 505.4 452.2 506.4 446.7 507.5 441.4 508.6 436.3 509.7 431.4 510.8 426.7 511.9 422.2 513 418.1 514.1 414.2 515.2 410.6 516.3 407.4 517.4 404.6 518.5 402.3 519.5 400.3 520.6 398.6 521.7 397.1 522.8 395.9 523.9 394.9 525 394.1 526.1 393.5 527.2 393 528.3 392.6 529.4 392.3 530.5 392.2 531.6 392 532.6 392 533.7 392 534.8 392.1 535.9 392.3 537 392.3 538.1 392.3 539.2 392.4 540.3 392.4 541.4 392.4 542.5 392.3 543.6 392.1 544.7 391.8 545.8 391.5 546.8 391.2 547.9 390.7 549 390.2 550.1 389.6 551.2 389 552.3 388.2 553.4 387.5 554.5 386.8 555.6 386.1 556.7 385.4 557.8 384.6 558.9 383.9 559.9 383.1 561 382.4 562.1 381.6 563.2 380.8 564.3 380 565.4 379.1 566.5 378.2 567.6 377.3 568.7 376.5 569.8 375.6 570.9 374.8 572 374 573 373.3 574.1 372.5 575.2 371.8 576.3 371.1 577.4 370.4 578.5 369.8 579.6 369.2 580.7 368.5 581.8 368 582.9 367.4 584 366.9 585 366.4 586.1 365.9 587.2 365.5 588.3 365.1 589.4 364.7 590.5 364.3 591.6 364.1 592.7 363.9 593.8 363.7 594.9 363.6 596 363.5 597.1 363.5 598.1 363.6 599.2 363.7 600.3 364.1 601.4 364.6 602.5 365.2 603.6 366.1 604.7 367.2 605.8 368.4 606.9 369.9 608 371.6 609.1 373.6 610.2 375.9 611.2 378.1 612.3 380 613.4 382 614.5 383.9 615.6 385.8 616.7 387.6 617.8 389.3 618.9 390.7 620 392 621.1 393.2 622.2 394.1 623.3 394.8 624.4 395.3 625.4 395.4 626.5 395.3 627.6 395 628.7 394.5 629.8 393.8 630.9 393.2 632 392.3 633.1 391.4 634.2 390.4 635.3 389.3 636.4 388.3 637.5 387.1 638.5 385.9 639.6 384.7 640.7 383.6 641.8 382.7 642.9 382 644 381.3 645.1 380.9 646.2 380.5 647.3 380.4 648.4 380.5 649.5 380.7 650.5 381.1 651.6 381.6 652.7 382.2 653.8 382.9 654.9 383.7 656 384.7 657.1 385.8 658.2 387 659.3 388.3 660.4 389.7 661.5 391.2 662.6 392.8 663.6 394.4 664.7 396.1 665.8 397.7 666.9 399.2 668 400.8 669.1 402.3 670.2 403.8 671.3 405.2 672.4 406.7 673.5 408.2 674.6 409.7 675.7 411.2 676.8 412.6 677.8 414 678.9 415.4 680 416.8 681.1 418.2 682.2 419.5 683.3 420.9 684.4 422.2 685.5 423.5 686.6 424.8 687.7 426.1 688.8 427.3 689.9 428.6 690.9 429.8 692 431 693.1 432.2 694.2 433.3 695.3 434.5 696.4 435.6 697.5 436.7 698.6 437.8 699.7 438.9 700.8 440 701.9 441.1 703 442.2 704 443.3 705.1 444.4 706.2 445.5 707.3 446.6 708.4 447.6 709.5 448.7 710.6 449.7 711.7 450.8 712.8 451.8 713.9 452.8 715 453.8 716 454.7 717.1 455.7 718.2 456.6 719.3 457.5 720.4 458.4 721.5 459.3 722.6 460.2 723.7 461.1 724.8 462 725.9 462.8 727 463.7 728.1 464.5 729.1 465.4 730.2 466.2 731.3 467 732.4 467.8 733.5 468.6 734.6 469.4 735.7 470.2 736.8 470.9 737.9 471.7 739 472.4 740.1 473.2 741.2 473.9 742.2 474.6 743.3 475.3 744.4 476 745.5 476.7 746.6 477.3 747.7 478 748.8 478.6 749.9 479.2 751 479.8 752.1 480.4 753.2 481 754.3 481.6 755.3 482.1 756.4 482.7 757.5 483.2 758.6 483.8 759.7 484.3 760.8 484.9 761.9 485.4 763 486 764.1 486.5 765.2 487.1 766.3 487.6 767.4 488.1 768.5 488.7 769.5 489.2 770.6 489.7 771.7 490.2 772.8 490.7 773.9 491.3 775 491.8" fill="none" stroke="#111" stroke-width="1.05" stroke-dasharray="4 2.2" stroke-linejoin="round" opacity="1"/>
<path d="M448.6 508.9 449.7 509.4 450.8 510 451.9 510.5 453 511 454.1 511.6 455.1 512.1 456.2 512.7 457.3 513.3 458.4 514 459.5 514.6 460.6 515.3 461.7 515.9 462.8 516.6 463.9 517.3 465 517.9 466.1 518.5 467.1 519.2 468.2 519.8 469.3 520.4 470.4 521 471.5 521.6 472.6 522.2 473.7 522.7 474.8 523.3 475.9 523.8 477 524.3 478.1 524.7 479.2 525.1 480.2 525.5 481.3 525.8 482.4 526 483.5 526.2 484.6 526.2 485.7 526.1 486.8 525.8 487.9 525.2 489 524.3 490.1 523 491.2 521.1 492.3 519 493.4 516.6 494.4 513.7 495.5 510.3 496.6 506.3 497.7 501.8 498.8 497.1 499.9 492.2 501 487.2 502.1 481.9 503.2 476.6 504.3 471.4 505.4 466.1 506.4 460.8 507.5 455.7 508.6 450.8 509.7 446.1 510.8 441.5 511.9 437.3 513 433.3 514.1 429.6 515.2 426.1 516.3 423.1 517.4 420.4 518.5 418.2 519.5 416.3 520.6 414.7 521.7 413.3 522.8 412.2 523.9 411.2 525 410.5 526.1 409.9 527.2 409.4 528.3 409 529.4 408.7 530.5 408.5 531.6 408.3 532.6 408.2 533.7 408.1 534.8 408.1 535.9 408 537 407.9 538.1 407.8 539.2 407.6 540.3 407.4 541.4 407.2 542.5 406.8 543.6 406.4 544.7 405.9 545.8 405.3 546.8 404.6 547.9 403.9 549 403.1 550.1 402.2 551.2 401.2 552.3 400.1 553.4 399.1 554.5 398 555.6 397 556.7 395.9 557.8 394.8 558.9 393.7 559.9 392.7 561 391.6 562.1 390.5 563.2 389.3 564.3 388.2 565.4 387 566.5 385.8 567.6 384.6 568.7 383.4 569.8 382.3 570.9 381.2 572 380.1 573 379.1 574.1 378.1 575.2 377.2 576.3 376.3 577.4 375.4 578.5 374.6 579.6 373.8 580.7 373 581.8 372.3 582.9 371.6 584 371 585 370.5 586.1 369.9 587.2 369.5 588.3 369 589.4 368.7 590.5 368.4 591.6 368.2 592.7 368.1 593.8 368.1 594.9 368.2 596 368.4 597.1 368.6 598.1 369 599.2 369.6 600.3 370.3 601.4 371.2 602.5 372.4 603.6 373.8 604.7 375.4 605.8 377.2 606.9 379.3 608 381.6 609.1 384.3 610.2 387.2 611.2 390.1 612.3 392.7 613.4 395.4 614.5 398.1 615.6 400.7 616.7 403.3 617.8 405.7 618.9 407.9 620 409.9 621.1 411.8 622.2 413.5 623.3 414.9 624.4 416.1 625.4 417 626.5 417.6 627.6 417.9 628.7 418.1 629.8 418.1 630.9 418.1 632 417.9 633.1 417.5 634.2 417 635.3 416.5 636.4 416 637.5 415.3 638.5 414.5 639.6 413.7 640.7 412.9 641.8 412.3 642.9 411.9 644 411.4 645.1 411.1 646.2 410.9 647.3 410.9 648.4 411 649.5 411.2 650.5 411.6 651.6 412.1 652.7 412.7 653.8 413.4 654.9 414.2 656 415.2 657.1 416.2 658.2 417.4 659.3 418.7 660.4 420.1 661.5 421.5 662.6 423 663.6 424.6 664.7 426.2 665.8 427.7 666.9 429.2 668 430.6 669.1 432 670.2 433.4 671.3 434.8 672.4 436.2 673.5 437.6 674.6 438.9 675.7 440.3 676.8 441.6 677.8 442.9 678.9 444.1 680 445.4 681.1 446.6 682.2 447.8 683.3 449 684.4 450.2 685.5 451.3 686.6 452.4 687.7 453.5 688.8 454.6 689.9 455.7 690.9 456.7 692 457.7 693.1 458.7 694.2 459.7 695.3 460.7 696.4 461.6 697.5 462.5 698.6 463.4 699.7 464.3 700.8 465.2 701.9 466.1 703 467 704 467.8 705.1 468.7 706.2 469.6 707.3 470.4 708.4 471.3 709.5 472.1 710.6 472.9 711.7 473.7 712.8 474.5 713.9 475.3 715 476 716 476.7 717.1 477.4 718.2 478.1 719.3 478.8 720.4 479.5 721.5 480.1 722.6 480.8 723.7 481.4 724.8 482 725.9 482.6 727 483.2 728.1 483.8 729.1 484.4 730.2 485 731.3 485.6 732.4 486.1 733.5 486.7 734.6 487.2 735.7 487.8 736.8 488.3 737.9 488.8 739 489.3 740.1 489.8 741.2 490.2 742.2 490.7 743.3 491.1 744.4 491.6 745.5 492 746.6 492.4 747.7 492.9 748.8 493.3 749.9 493.6 751 494 752.1 494.4 753.2 494.7 754.3 495 755.3 495.4 756.4 495.7 757.5 496 758.6 496.3 759.7 496.7 760.8 497 761.9 497.4 763 497.7 764.1 498 765.2 498.3 766.3 498.7 767.4 499 768.5 499.3 769.5 499.7 770.6 500 771.7 500.3 772.8 500.6 773.9 501 775 501.3" fill="none" stroke="#111" stroke-width="1.05" stroke-dasharray="4 2" stroke-linejoin="round" opacity="1"/>
<path d="M448.6 511.7 449.7 512.2 450.8 512.8 451.9 513.3 453 513.8 454.1 514.4 455.1 515 456.2 515.6 457.3 516.2 458.4 516.8 459.5 517.5 460.6 518.2 461.7 518.8 462.8 519.5 463.9 520.2 465 520.8 466.1 521.5 467.1 522.1 468.2 522.7 469.3 523.4 470.4 524 471.5 524.6 472.6 525.2 473.7 525.8 474.8 526.3 475.9 526.8 477 527.3 478.1 527.7 479.2 528.1 480.2 528.5 481.3 528.9 482.4 529.1 483.5 529.3 484.6 529.3 485.7 529.2 486.8 528.9 487.9 528.3 489 527.3 490.1 526 491.2 524.2 492.3 522.1 493.4 519.6 494.4 516.8 495.5 513.4 496.6 509.4 497.7 504.9 498.8 500.2 499.9 495.3 501 490.2 502.1 485 503.2 479.7 504.3 474.5 505.4 469.2 506.4 463.9 507.5 458.7 508.6 453.8 509.7 449.1 510.8 444.6 511.9 440.3 513 436.3 514.1 432.6 515.2 429.2 516.3 426.1 517.4 423.4 518.5 421.2 519.5 419.3 520.6 417.7 521.7 416.3 522.8 415.2 523.9 414.3 525 413.5 526.1 412.9 527.2 412.4 528.3 412.1 529.4 411.8 530.5 411.6 531.6 411.4 532.6 411.2 533.7 411.2 534.8 411.2 535.9 411.2 537 411.1 538.1 411 539.2 410.8 540.3 410.6 541.4 410.4 542.5 410.1 543.6 409.6 544.7 409.1 545.8 408.6 546.8 407.9 547.9 407.2 549 406.4 550.1 405.6 551.2 404.6 552.3 403.6 553.4 402.5 554.5 401.5 555.6 400.5 556.7 399.4 557.8 398.4 558.9 397.3 559.9 396.3 561 395.2 562.1 394.1 563.2 393 564.3 391.9 565.4 390.7 566.5 389.6 567.6 388.4 568.7 387.2 569.8 386.1 570.9 385 572 384 573 383.1 574.1 382.1 575.2 381.2 576.3 380.3 577.4 379.4 578.5 378.6 579.6 377.8 580.7 377.1 581.8 376.4 582.9 375.8 584 375.2 585 374.6 586.1 374.1 587.2 373.7 588.3 373.3 589.4 372.9 590.5 372.7 591.6 372.5 592.7 372.4 593.8 372.5 594.9 372.5 596 372.7 597.1 373 598.1 373.4 599.2 373.9 600.3 374.7 601.4 375.6 602.5 376.8 603.6 378.2 604.7 379.8 605.8 381.6 606.9 383.7 608 386 609.1 388.8 610.2 391.7 611.2 394.5 612.3 397.2 613.4 399.9 614.5 402.6 615.6 405.2 616.7 407.7 617.8 410.1 618.9 412.4 620 414.4 621.1 416.3 622.2 418 623.3 419.4 624.4 420.6 625.4 421.5 626.5 422.1 627.6 422.4 628.7 422.6 629.8 422.7 630.9 422.6 632 422.4 633.1 422 634.2 421.6 635.3 421.1 636.4 420.5 637.5 419.8 638.5 419 639.6 418.2 640.7 417.5 641.8 416.9 642.9 416.4 644 416 645.1 415.7 646.2 415.5 647.3 415.5 648.4 415.6 649.5 415.9 650.5 416.2 651.6 416.7 652.7 417.3 653.8 418.1 654.9 418.9 656 419.9 657.1 420.9 658.2 422.1 659.3 423.4 660.4 424.8 661.5 426.3 662.6 427.8 663.6 429.3 664.7 430.9 665.8 432.5 666.9 434 668 435.4 669.1 436.8 670.2 438.2 671.3 439.6 672.4 441 673.5 442.4 674.6 443.8 675.7 445.1 676.8 446.4 677.8 447.7 678.9 449 680 450.3 681.1 451.5 682.2 452.7 683.3 453.9 684.4 455.1 685.5 456.3 686.6 457.4 687.7 458.5 688.8 459.6 689.9 460.7 690.9 461.7 692 462.8 693.1 463.8 694.2 464.7 695.3 465.7 696.4 466.7 697.5 467.6 698.6 468.5 699.7 469.4 700.8 470.3 701.9 471.2 703 472.1 704 473 705.1 473.9 706.2 474.7 707.3 475.6 708.4 476.5 709.5 477.3 710.6 478.1 711.7 478.9 712.8 479.7 713.9 480.5 715 481.2 716 482 717.1 482.7 718.2 483.4 719.3 484.1 720.4 484.8 721.5 485.4 722.6 486.1 723.7 486.7 724.8 487.4 725.9 488 727 488.6 728.1 489.2 729.1 489.8 730.2 490.4 731.3 491 732.4 491.6 733.5 492.1 734.6 492.7 735.7 493.2 736.8 493.7 737.9 494.2 739 494.8 740.1 495.3 741.2 495.7 742.2 496.2 743.3 496.7 744.4 497.1 745.5 497.6 746.6 498 747.7 498.4 748.8 498.8 749.9 499.2 751 499.6 752.1 500 753.2 500.3 754.3 500.7 755.3 501 756.4 501.3 757.5 501.7 758.6 502 759.7 502.4 760.8 502.7 761.9 503.1 763 503.4 764.1 503.8 765.2 504.1 766.3 504.4 767.4 504.8 768.5 505.1 769.5 505.5 770.6 505.8 771.7 506.1 772.8 506.5 773.9 506.8 775 507.1" fill="none" stroke="#111" stroke-width="1.05" stroke-dasharray="4.5 1.8 1.2 1.8" stroke-linejoin="round" opacity="1"/>
<path d="M448.6 514.7 449.7 515.2 450.8 515.7 451.9 516.2 453 516.7 454.1 517.2 455.1 517.7 456.2 518.2 457.3 518.8 458.4 519.4 459.5 520 460.6 520.6 461.7 521.2 462.8 521.8 463.9 522.4 465 523 466.1 523.6 467.1 524.2 468.2 524.8 469.3 525.4 470.4 526 471.5 526.5 472.6 527.1 473.7 527.6 474.8 528.1 475.9 528.6 477 529 478.1 529.4 479.2 529.8 480.2 530.1 481.3 530.4 482.4 530.7 483.5 530.8 484.6 530.8 485.7 530.7 486.8 530.4 487.9 529.8 489 528.9 490.1 527.6 491.2 525.8 492.3 523.6 493.4 521.2 494.4 518.3 495.5 515 496.6 511 497.7 506.5 498.8 501.8 499.9 496.9 501 491.9 502.1 486.7 503.2 481.4 504.3 476.2 505.4 470.9 506.4 465.6 507.5 460.5 508.6 455.6 509.7 450.9 510.8 446.4 511.9 442.2 513 438.3 514.1 434.6 515.2 431.2 516.3 428.1 517.4 425.5 518.5 423.3 519.5 421.5 520.6 419.9 521.7 418.5 522.8 417.4 523.9 416.5 525 415.8 526.1 415.2 527.2 414.8 528.3 414.5 529.4 414.2 530.5 414 531.6 413.8 532.6 413.7 533.7 413.7 534.8 413.8 535.9 413.8 537 413.7 538.1 413.6 539.2 413.5 540.3 413.3 541.4 413.1 542.5 412.8 543.6 412.4 544.7 411.9 545.8 411.4 546.8 410.8 547.9 410.1 549 409.4 550.1 408.5 551.2 407.6 552.3 406.6 553.4 405.6 554.5 404.6 555.6 403.6 556.7 402.6 557.8 401.5 558.9 400.5 559.9 399.5 561 398.4 562.1 397.4 563.2 396.3 564.3 395.2 565.4 394.1 566.5 392.9 567.6 391.8 568.7 390.7 569.8 389.6 570.9 388.6 572 387.6 573 386.6 574.1 385.7 575.2 384.8 576.3 384 577.4 383.2 578.5 382.4 579.6 381.6 580.7 380.9 581.8 380.3 582.9 379.7 584 379.1 585 378.6 586.1 378.2 587.2 377.8 588.3 377.4 589.4 377.1 590.5 376.9 591.6 376.8 592.7 376.7 593.8 376.8 594.9 376.9 596 377.2 597.1 377.5 598.1 378 599.2 378.6 600.3 379.4 601.4 380.4 602.5 381.7 603.6 383.1 604.7 384.8 605.8 386.7 606.9 388.9 608 391.3 609.1 394.1 610.2 397.1 611.2 400 612.3 402.8 613.4 405.6 614.5 408.3 615.6 411.1 616.7 413.7 617.8 416.2 618.9 418.5 620 420.6 621.1 422.6 622.2 424.4 623.3 425.9 624.4 427.2 625.4 428.1 626.5 428.8 627.6 429.2 628.7 429.4 629.8 429.6 630.9 429.6 632 429.4 633.1 429.1 634.2 428.7 635.3 428.2 636.4 427.7 637.5 427.1 638.5 426.3 639.6 425.5 640.7 424.8 641.8 424.3 642.9 423.8 644 423.4 645.1 423.1 646.2 422.9 647.3 422.9 648.4 423 649.5 423.2 650.5 423.6 651.6 424 652.7 424.6 653.8 425.3 654.9 426.2 656 427.1 657.1 428.1 658.2 429.3 659.3 430.5 660.4 431.9 661.5 433.4 662.6 434.9 663.6 436.4 664.7 437.9 665.8 439.4 666.9 440.9 668 442.3 669.1 443.7 670.2 445.1 671.3 446.4 672.4 447.8 673.5 449.1 674.6 450.5 675.7 451.8 676.8 453.1 677.8 454.3 678.9 455.6 680 456.8 681.1 458 682.2 459.1 683.3 460.3 684.4 461.4 685.5 462.5 686.6 463.6 687.7 464.7 688.8 465.8 689.9 466.8 690.9 467.8 692 468.8 693.1 469.7 694.2 470.7 695.3 471.6 696.4 472.5 697.5 473.3 698.6 474.2 699.7 475.1 700.8 475.9 701.9 476.7 703 477.6 704 478.4 705.1 479.3 706.2 480.1 707.3 480.9 708.4 481.7 709.5 482.5 710.6 483.2 711.7 484 712.8 484.7 713.9 485.4 715 486.1 716 486.8 717.1 487.5 718.2 488.1 719.3 488.8 720.4 489.4 721.5 490 722.6 490.6 723.7 491.2 724.8 491.7 725.9 492.3 727 492.9 728.1 493.4 729.1 494 730.2 494.5 731.3 495 732.4 495.5 733.5 496 734.6 496.5 735.7 497 736.8 497.5 737.9 497.9 739 498.4 740.1 498.8 741.2 499.2 742.2 499.7 743.3 500.1 744.4 500.5 745.5 500.9 746.6 501.2 747.7 501.6 748.8 501.9 749.9 502.3 751 502.6 752.1 502.9 753.2 503.2 754.3 503.5 755.3 503.8 756.4 504.1 757.5 504.3 758.6 504.6 759.7 504.9 760.8 505.2 761.9 505.5 763 505.8 764.1 506.1 765.2 506.4 766.3 506.7 767.4 507 768.5 507.3 769.5 507.5 770.6 507.8 771.7 508.1 772.8 508.4 773.9 508.7 775 509" fill="none" stroke="#111" stroke-width="1.05" stroke-dasharray="3.6 2.2" stroke-linejoin="round" opacity="1"/>
<path d="M448.6 531.8 449.7 532.2 450.8 532.6 451.9 533 453 533.4 454.1 533.7 455.1 534.1 456.2 534.5 457.3 535 458.4 535.4 459.5 535.9 460.6 536.3 461.7 536.8 462.8 537.3 463.9 537.8 465 538.3 466.1 538.7 467.1 539.2 468.2 539.6 469.3 540.1 470.4 540.6 471.5 541 472.6 541.5 473.7 541.9 474.8 542.3 475.9 542.7 477 543.1 478.1 543.5 479.2 543.8 480.2 544.2 481.3 544.5 482.4 544.7 483.5 544.9 484.6 544.9 485.7 544.9 486.8 544.7 487.9 544.1 489 543.3 490.1 542.1 491.2 540.4 492.3 538.4 493.4 536.1 494.4 533.4 495.5 530.2 496.6 526.4 497.7 522.1 498.8 517.5 499.9 512.9 501 508 502.1 503 503.2 497.9 504.3 492.9 505.4 487.8 506.4 482.8 507.5 477.9 508.6 473.2 509.7 468.8 510.8 464.5 511.9 460.5 513 456.7 514.1 453.3 515.2 450.1 516.3 447.3 517.4 444.9 518.5 442.9 519.5 441.3 520.6 440 521.7 438.8 522.8 437.9 523.9 437.2 525 436.7 526.1 436.3 527.2 436 528.3 435.9 529.4 435.8 530.5 435.7 531.6 435.7 532.6 435.8 533.7 435.9 534.8 436.1 535.9 436.2 537 436.3 538.1 436.4 539.2 436.4 540.3 436.4 541.4 436.3 542.5 436.2 543.6 435.9 544.7 435.6 545.8 435.2 546.8 434.7 547.9 434.2 549 433.6 550.1 432.9 551.2 432.1 552.3 431.2 553.4 430.4 554.5 429.5 555.6 428.6 556.7 427.8 557.8 426.9 558.9 426 559.9 425.1 561 424.2 562.1 423.3 563.2 422.3 564.3 421.4 565.4 420.4 566.5 419.3 567.6 418.3 568.7 417.3 569.8 416.3 570.9 415.4 572 414.6 573 413.7 574.1 412.9 575.2 412.2 576.3 411.4 577.4 410.7 578.5 410 579.6 409.4 580.7 408.8 581.8 408.2 582.9 407.7 584 407.3 585 406.9 586.1 406.5 587.2 406.2 588.3 405.9 589.4 405.7 590.5 405.6 591.6 405.6 592.7 405.6 593.8 405.8 594.9 406 596 406.3 597.1 406.7 598.1 407.2 599.2 407.9 600.3 408.8 601.4 409.9 602.5 411.2 603.6 412.7 604.7 414.5 605.8 416.5 606.9 418.7 608 421.1 609.1 424 610.2 427.1 611.2 430.1 612.3 432.9 613.4 435.7 614.5 438.5 615.6 441.3 616.7 444 617.8 446.5 618.9 448.8 620 451 621.1 453 622.2 454.8 623.3 456.4 624.4 457.7 625.4 458.6 626.5 459.3 627.6 459.7 628.7 460 629.8 460.1 630.9 460.1 632 460 633.1 459.7 634.2 459.3 635.3 458.8 636.4 458.2 637.5 457.6 638.5 456.8 639.6 456 640.7 455.3 641.8 454.7 642.9 454.2 644 453.7 645.1 453.4 646.2 453.1 647.3 453 648.4 453 649.5 453.2 650.5 453.5 651.6 453.9 652.7 454.5 653.8 455.1 654.9 455.8 656 456.7 657.1 457.7 658.2 458.8 659.3 459.9 660.4 461.2 661.5 462.6 662.6 464 663.6 465.5 664.7 466.9 665.8 468.4 666.9 469.8 668 471.1 669.1 472.4 670.2 473.7 671.3 475 672.4 476.2 673.5 477.5 674.6 478.7 675.7 480 676.8 481.2 677.8 482.3 678.9 483.5 680 484.6 681.1 485.7 682.2 486.8 683.3 487.8 684.4 488.9 685.5 489.9 686.6 490.9 687.7 491.9 688.8 492.8 689.9 493.8 690.9 494.7 692 495.5 693.1 496.4 694.2 497.2 695.3 498 696.4 498.8 697.5 499.6 698.6 500.4 699.7 501.1 700.8 501.9 701.9 502.6 703 503.4 704 504.1 705.1 504.8 706.2 505.5 707.3 506.2 708.4 506.9 709.5 507.6 710.6 508.3 711.7 508.9 712.8 509.5 713.9 510.2 715 510.7 716 511.3 717.1 511.9 718.2 512.4 719.3 512.9 720.4 513.4 721.5 513.9 722.6 514.4 723.7 514.9 724.8 515.4 725.9 515.8 727 516.3 728.1 516.7 729.1 517.2 730.2 517.6 731.3 518 732.4 518.4 733.5 518.8 734.6 519.2 735.7 519.5 736.8 519.9 737.9 520.2 739 520.6 740.1 520.9 741.2 521.2 742.2 521.5 743.3 521.8 744.4 522.1 745.5 522.4 746.6 522.7 747.7 522.9 748.8 523.2 749.9 523.4 751 523.6 752.1 523.8 753.2 524 754.3 524.2 755.3 524.4 756.4 524.6 757.5 524.7 758.6 524.9 759.7 525.1 760.8 525.3 761.9 525.5 763 525.7 764.1 525.9 765.2 526 766.3 526.2 767.4 526.4 768.5 526.6 769.5 526.8 770.6 527 771.7 527.2 772.8 527.4 773.9 527.5 775 527.7" fill="none" stroke="#111" stroke-width="1.05" stroke-dasharray="4 2.2" stroke-linejoin="round" opacity="1"/>
<path d="M448.6 534.6 449.7 535 450.8 535.4 451.9 535.8 453 536.1 454.1 536.5 455.1 536.9 456.2 537.3 457.3 537.7 458.4 538.2 459.5 538.6 460.6 539.1 461.7 539.6 462.8 540.1 463.9 540.6 465 541 466.1 541.5 467.1 541.9 468.2 542.4 469.3 542.9 470.4 543.3 471.5 543.8 472.6 544.2 473.7 544.7 474.8 545.1 475.9 545.5 477 545.9 478.1 546.3 479.2 546.6 480.2 546.9 481.3 547.2 482.4 547.5 483.5 547.6 484.6 547.7 485.7 547.7 486.8 547.4 487.9 546.9 489 546 490.1 544.9 491.2 543.2 492.3 541.1 493.4 538.8 494.4 536.2 495.5 532.9 496.6 529.1 497.7 524.8 498.8 520.2 499.9 515.6 501 510.7 502.1 505.7 503.2 500.6 504.3 495.6 505.4 490.5 506.4 485.5 507.5 480.6 508.6 475.9 509.7 471.4 510.8 467.2 511.9 463.1 513 459.4 514.1 456 515.2 452.8 516.3 449.9 517.4 447.5 518.5 445.6 519.5 444 520.6 442.6 521.7 441.5 522.8 440.6 523.9 439.9 525 439.4 526.1 439 527.2 438.7 528.3 438.6 529.4 438.5 530.5 438.5 531.6 438.5 532.6 438.6 533.7 438.7 534.8 438.9 535.9 439.1 537 439.2 538.1 439.3 539.2 439.3 540.3 439.3 541.4 439.3 542.5 439.2 543.6 439 544.7 438.7 545.8 438.3 546.8 437.9 547.9 437.4 549 436.8 550.1 436.1 551.2 435.4 552.3 434.5 553.4 433.7 554.5 432.9 555.6 432.1 556.7 431.2 557.8 430.4 558.9 429.5 559.9 428.7 561 427.8 562.1 426.9 563.2 426 564.3 425.1 565.4 424.1 566.5 423.1 567.6 422.1 568.7 421.2 569.8 420.2 570.9 419.4 572 418.5 573 417.7 574.1 417 575.2 416.2 576.3 415.5 577.4 414.8 578.5 414.2 579.6 413.5 580.7 413 581.8 412.4 582.9 412 584 411.5 585 411.1 586.1 410.8 587.2 410.5 588.3 410.2 589.4 410 590.5 409.9 591.6 409.9 592.7 409.9 593.8 410.1 594.9 410.3 596 410.6 597.1 411 598.1 411.5 599.2 412.1 600.3 413 601.4 414.1 602.5 415.4 603.6 416.9 604.7 418.6 605.8 420.5 606.9 422.7 608 425.2 609.1 428 610.2 431 611.2 434 612.3 436.7 613.4 439.5 614.5 442.3 615.6 445 616.7 447.6 617.8 450.1 618.9 452.4 620 454.5 621.1 456.5 622.2 458.3 623.3 459.8 624.4 461 625.4 461.9 626.5 462.6 627.6 463 628.7 463.2 629.8 463.2 630.9 463.2 632 463 633.1 462.7 634.2 462.2 635.3 461.7 636.4 461.2 637.5 460.5 638.5 459.7 639.6 458.8 640.7 458.1 641.8 457.5 642.9 457 644 456.5 645.1 456.1 646.2 455.9 647.3 455.8 648.4 455.8 649.5 456 650.5 456.3 651.6 456.7 652.7 457.2 653.8 457.9 654.9 458.6 656 459.5 657.1 460.5 658.2 461.5 659.3 462.7 660.4 464 661.5 465.4 662.6 466.8 663.6 468.3 664.7 469.8 665.8 471.2 666.9 472.6 668 473.9 669.1 475.2 670.2 476.5 671.3 477.8 672.4 479.1 673.5 480.4 674.6 481.6 675.7 482.9 676.8 484.1 677.8 485.3 678.9 486.4 680 487.5 681.1 488.7 682.2 489.7 683.3 490.8 684.4 491.9 685.5 492.9 686.6 493.9 687.7 494.9 688.8 495.9 689.9 496.8 690.9 497.7 692 498.6 693.1 499.5 694.2 500.3 695.3 501.2 696.4 502 697.5 502.8 698.6 503.5 699.7 504.3 700.8 505.1 701.9 505.8 703 506.6 704 507.3 705.1 508.1 706.2 508.8 707.3 509.5 708.4 510.2 709.5 510.9 710.6 511.6 711.7 512.3 712.8 512.9 713.9 513.5 715 514.1 716 514.7 717.1 515.3 718.2 515.9 719.3 516.4 720.4 516.9 721.5 517.4 722.6 517.9 723.7 518.4 724.8 518.9 725.9 519.4 727 519.9 728.1 520.3 729.1 520.8 730.2 521.2 731.3 521.7 732.4 522.1 733.5 522.5 734.6 522.9 735.7 523.3 736.8 523.6 737.9 524 739 524.4 740.1 524.7 741.2 525.1 742.2 525.4 743.3 525.7 744.4 526 745.5 526.3 746.6 526.6 747.7 526.9 748.8 527.1 749.9 527.4 751 527.6 752.1 527.8 753.2 528 754.3 528.2 755.3 528.4 756.4 528.6 757.5 528.8 758.6 529 759.7 529.2 760.8 529.4 761.9 529.6 763 529.8 764.1 530 765.2 530.2 766.3 530.4 767.4 530.6 768.5 530.8 769.5 531 770.6 531.2 771.7 531.4 772.8 531.6 773.9 531.8 775 532" fill="none" stroke="#111" stroke-width="1.05" stroke-dasharray="4 2" stroke-linejoin="round" opacity="1"/>
<path d="M448.6 537.7 449.7 538.1 450.8 538.5 451.9 538.8 453 539.2 454.1 539.6 455.1 540 456.2 540.4 457.3 540.8 458.4 541.2 459.5 541.7 460.6 542.2 461.7 542.7 462.8 543.2 463.9 543.6 465 544.1 466.1 544.6 467.1 545 468.2 545.5 469.3 545.9 470.4 546.4 471.5 546.9 472.6 547.3 473.7 547.8 474.8 548.2 475.9 548.6 477 549 478.1 549.3 479.2 549.7 480.2 550 481.3 550.3 482.4 550.6 483.5 550.7 484.6 550.8 485.7 550.7 486.8 550.5 487.9 550 489 549.1 490.1 547.9 491.2 546.2 492.3 544.2 493.4 541.9 494.4 539.2 495.5 536 496.6 532.2 497.7 527.8 498.8 523.3 499.9 518.6 501 513.8 502.1 508.7 503.2 503.6 504.3 498.6 505.4 493.6 506.4 488.5 507.5 483.6 508.6 478.9 509.7 474.4 510.8 470.2 511.9 466.1 513 462.4 514.1 459 515.2 455.8 516.3 452.9 517.4 450.5 518.5 448.6 519.5 447 520.6 445.6 521.7 444.5 522.8 443.6 523.9 442.9 525 442.4 526.1 442 527.2 441.8 528.3 441.6 529.4 441.6 530.5 441.6 531.6 441.6 532.6 441.7 533.7 441.8 534.8 442 535.9 442.2 537 442.4 538.1 442.4 539.2 442.5 540.3 442.6 541.4 442.5 542.5 442.4 543.6 442.3 544.7 442 545.8 441.7 546.8 441.2 547.9 440.8 549 440.2 550.1 439.6 551.2 438.8 552.3 438.1 553.4 437.2 554.5 436.5 555.6 435.7 556.7 434.9 557.8 434 558.9 433.2 559.9 432.4 561 431.5 562.1 430.7 563.2 429.8 564.3 428.9 565.4 428 566.5 427 567.6 426.1 568.7 425.1 569.8 424.2 570.9 423.4 572 422.5 573 421.8 574.1 421 575.2 420.3 576.3 419.6 577.4 419 578.5 418.3 579.6 417.7 580.7 417.2 581.8 416.7 582.9 416.2 584 415.8 585 415.4 586.1 415.1 587.2 414.8 588.3 414.5 589.4 414.3 590.5 414.2 591.6 414.2 592.7 414.2 593.8 414.4 594.9 414.6 596 414.9 597.1 415.2 598.1 415.8 599.2 416.4 600.3 417.2 601.4 418.3 602.5 419.6 603.6 421.1 604.7 422.8 605.8 424.7 606.9 426.8 608 429.2 609.1 432 610.2 435 611.2 438 612.3 440.7 613.4 443.4 614.5 446.2 615.6 448.9 616.7 451.4 617.8 453.9 618.9 456.1 620 458.2 621.1 460.2 622.2 461.9 623.3 463.4 624.4 464.6 625.4 465.5 626.5 466 627.6 466.4 628.7 466.6 629.8 466.6 630.9 466.6 632 466.4 633.1 466 634.2 465.5 635.3 465 636.4 464.4 637.5 463.7 638.5 462.8 639.6 462 640.7 461.2 641.8 460.6 642.9 460.1 644 459.6 645.1 459.2 646.2 459 647.3 458.8 648.4 458.9 649.5 459.1 650.5 459.4 651.6 459.8 652.7 460.3 653.8 460.9 654.9 461.7 656 462.6 657.1 463.5 658.2 464.6 659.3 465.8 660.4 467.1 661.5 468.5 662.6 469.9 663.6 471.4 664.7 472.9 665.8 474.3 666.9 475.7 668 477.1 669.1 478.4 670.2 479.7 671.3 481 672.4 482.3 673.5 483.5 674.6 484.8 675.7 486 676.8 487.3 677.8 488.5 678.9 489.6 680 490.8 681.1 491.9 682.2 493 683.3 494.1 684.4 495.1 685.5 496.2 686.6 497.2 687.7 498.2 688.8 499.2 689.9 500.1 690.9 501 692 502 693.1 502.8 694.2 503.7 695.3 504.5 696.4 505.3 697.5 506.1 698.6 506.9 699.7 507.7 700.8 508.5 701.9 509.3 703 510 704 510.8 705.1 511.5 706.2 512.3 707.3 513 708.4 513.7 709.5 514.4 710.6 515.1 711.7 515.8 712.8 516.5 713.9 517.1 715 517.7 716 518.3 717.1 518.9 718.2 519.5 719.3 520 720.4 520.6 721.5 521.1 722.6 521.6 723.7 522.1 724.8 522.6 725.9 523.1 727 523.6 728.1 524.1 729.1 524.5 730.2 525 731.3 525.4 732.4 525.9 733.5 526.3 734.6 526.7 735.7 527.1 736.8 527.5 737.9 527.9 739 528.3 740.1 528.6 741.2 529 742.2 529.3 743.3 529.6 744.4 530 745.5 530.3 746.6 530.6 747.7 530.9 748.8 531.1 749.9 531.4 751 531.6 752.1 531.9 753.2 532.1 754.3 532.3 755.3 532.5 756.4 532.7 757.5 532.9 758.6 533.1 759.7 533.3 760.8 533.6 761.9 533.8 763 534 764.1 534.2 765.2 534.4 766.3 534.6 767.4 534.9 768.5 535.1 769.5 535.3 770.6 535.5 771.7 535.7 772.8 535.9 773.9 536.1 775 536.3" fill="none" stroke="#111" stroke-width="1.05" stroke-dasharray="4.5 1.8 1.2 1.8" stroke-linejoin="round" opacity="1"/>
<path d="M448.6 539 449.7 539.4 450.8 539.8 451.9 540.2 453 540.6 454.1 541.1 455.1 541.5 456.2 541.9 457.3 542.4 458.4 542.9 459.5 543.4 460.6 543.9 461.7 544.4 462.8 545 463.9 545.5 465 546 466.1 546.5 467.1 547 468.2 547.5 469.3 548 470.4 548.5 471.5 549 472.6 549.5 473.7 550 474.8 550.5 475.9 550.9 477 551.3 478.1 551.8 479.2 552.2 480.2 552.5 481.3 552.9 482.4 553.2 483.5 553.4 484.6 553.5 485.7 553.5 486.8 553.4 487.9 552.9 489 552.1 490.1 550.9 491.2 549.3 492.3 547.4 493.4 545.1 494.4 542.5 495.5 539.3 496.6 535.6 497.7 531.3 498.8 526.8 499.9 522.2 501 517.4 502.1 512.5 503.2 507.4 504.3 502.5 505.4 497.5 506.4 492.5 507.5 487.7 508.6 483.1 509.7 478.7 510.8 474.5 511.9 470.5 513 466.9 514.1 463.5 515.2 460.4 516.3 457.6 517.4 455.3 518.5 453.4 519.5 451.8 520.6 450.6 521.7 449.5 522.8 448.6 523.9 448 525 447.6 526.1 447.3 527.2 447.1 528.3 447 529.4 447 530.5 447 531.6 447.1 532.6 447.3 533.7 447.5 534.8 447.8 535.9 448 537 448.2 538.1 448.4 539.2 448.5 540.3 448.6 541.4 448.7 542.5 448.7 543.6 448.5 544.7 448.3 545.8 448.1 546.8 447.7 547.9 447.3 549 446.9 550.1 446.3 551.2 445.6 552.3 444.9 553.4 444.2 554.5 443.5 555.6 442.7 556.7 442 557.8 441.3 558.9 440.5 559.9 439.7 561 439 562.1 438.2 563.2 437.4 564.3 436.5 565.4 435.7 566.5 434.8 567.6 433.9 568.7 433 569.8 432.1 570.9 431.3 572 430.6 573 429.9 574.1 429.2 575.2 428.5 576.3 427.9 577.4 427.2 578.5 426.6 579.6 426.1 580.7 425.6 581.8 425.1 582.9 424.7 584 424.3 585 423.9 586.1 423.6 587.2 423.3 588.3 423.1 589.4 422.9 590.5 422.8 591.6 422.8 592.7 422.8 593.8 423 594.9 423.2 596 423.4 597.1 423.8 598.1 424.3 599.2 424.9 600.3 425.7 601.4 426.8 602.5 428 603.6 429.4 604.7 431.1 605.8 432.9 606.9 435 608 437.4 609.1 440.1 610.2 443 611.2 445.9 612.3 448.6 613.4 451.2 614.5 453.9 615.6 456.5 616.7 459 617.8 461.4 618.9 463.5 620 465.5 621.1 467.4 622.2 469 623.3 470.4 624.4 471.5 625.4 472.3 626.5 472.8 627.6 473.1 628.7 473.2 629.8 473.2 630.9 473 632 472.7 633.1 472.3 634.2 471.7 635.3 471.1 636.4 470.5 637.5 469.7 638.5 468.8 639.6 467.9 640.7 467 641.8 466.4 642.9 465.8 644 465.3 645.1 464.8 646.2 464.5 647.3 464.4 648.4 464.4 649.5 464.5 650.5 464.8 651.6 465.2 652.7 465.7 653.8 466.3 654.9 467 656 467.8 657.1 468.8 658.2 469.8 659.3 471 660.4 472.3 661.5 473.6 662.6 475 663.6 476.5 664.7 477.9 665.8 479.3 666.9 480.7 668 482 669.1 483.3 670.2 484.6 671.3 485.8 672.4 487.1 673.5 488.3 674.6 489.6 675.7 490.8 676.8 492 677.8 493.1 678.9 494.3 680 495.4 681.1 496.5 682.2 497.6 683.3 498.6 684.4 499.7 685.5 500.7 686.6 501.7 687.7 502.6 688.8 503.6 689.9 504.5 690.9 505.4 692 506.3 693.1 507.2 694.2 508 695.3 508.8 696.4 509.6 697.5 510.4 698.6 511.2 699.7 511.9 700.8 512.7 701.9 513.4 703 514.2 704 514.9 705.1 515.6 706.2 516.4 707.3 517.1 708.4 517.8 709.5 518.5 710.6 519.1 711.7 519.8 712.8 520.4 713.9 521 715 521.6 716 522.2 717.1 522.8 718.2 523.3 719.3 523.9 720.4 524.4 721.5 524.9 722.6 525.4 723.7 525.9 724.8 526.4 725.9 526.8 727 527.3 728.1 527.8 729.1 528.2 730.2 528.6 731.3 529.1 732.4 529.5 733.5 529.9 734.6 530.3 735.7 530.6 736.8 531 737.9 531.4 739 531.7 740.1 532.1 741.2 532.4 742.2 532.7 743.3 533 744.4 533.3 745.5 533.6 746.6 533.9 747.7 534.2 748.8 534.4 749.9 534.7 751 534.9 752.1 535.1 753.2 535.3 754.3 535.5 755.3 535.7 756.4 535.9 757.5 536 758.6 536.2 759.7 536.4 760.8 536.6 761.9 536.8 763 537 764.1 537.2 765.2 537.4 766.3 537.6 767.4 537.8 768.5 538 769.5 538.2 770.6 538.4 771.7 538.5 772.8 538.7 773.9 538.9 775 539.1" fill="none" stroke="#111" stroke-width="1.05" stroke-dasharray="3.6 2.2" stroke-linejoin="round" opacity="1"/>
<path d="M448.6 539.8 449.7 540.2 450.8 540.6 451.9 540.9 453 541.3 454.1 541.6 455.1 542 456.2 542.4 457.3 542.8 458.4 543.2 459.5 543.6 460.6 544.1 461.7 544.6 462.8 545 463.9 545.5 465 545.9 466.1 546.4 467.1 546.8 468.2 547.2 469.3 547.7 470.4 548.1 471.5 548.6 472.6 549 473.7 549.4 474.8 549.8 475.9 550.2 477 550.6 478.1 551 479.2 551.3 480.2 551.6 481.3 551.9 482.4 552.1 483.5 552.3 484.6 552.3 485.7 552.3 486.8 552 487.9 551.5 489 550.6 490.1 549.4 491.2 547.7 492.3 545.7 493.4 543.4 494.4 540.7 495.5 537.5 496.6 533.6 497.7 529.3 498.8 524.7 499.9 520.1 501 515.2 502.1 510.2 503.2 505.1 504.3 500.1 505.4 495 506.4 489.9 507.5 485 508.6 480.4 509.7 475.9 510.8 471.6 511.9 467.6 513 463.9 514.1 460.4 515.2 457.2 516.3 454.4 517.4 452 518.5 450 519.5 448.4 520.6 447.1 521.7 445.9 522.8 445 523.9 444.4 525 443.9 526.1 443.5 527.2 443.3 528.3 443.1 529.4 443.1 530.5 443.1 531.6 443.1 532.6 443.2 533.7 443.4 534.8 443.6 535.9 443.8 537 443.9 538.1 444 539.2 444.1 540.3 444.1 541.4 444.1 542.5 444 543.6 443.8 544.7 443.5 545.8 443.2 546.8 442.8 547.9 442.3 549 441.7 550.1 441.1 551.2 440.3 552.3 439.6 553.4 438.8 554.5 437.9 555.6 437.1 556.7 436.3 557.8 435.5 558.9 434.7 559.9 433.9 561 433 562.1 432.2 563.2 431.3 564.3 430.4 565.4 429.5 566.5 428.5 567.6 427.6 568.7 426.7 569.8 425.8 570.9 424.9 572 424.1 573 423.4 574.1 422.7 575.2 422 576.3 421.3 577.4 420.7 578.5 420.1 579.6 419.6 580.7 419.1 581.8 418.6 582.9 418.2 584 417.8 585 417.5 586.1 417.3 587.2 417 588.3 416.9 589.4 416.8 590.5 416.7 591.6 416.8 592.7 417 593.8 417.2 594.9 417.5 596 418 597.1 418.5 598.1 419.2 599.2 420 600.3 421 601.4 422.3 602.5 423.8 603.6 425.5 604.7 427.4 605.8 429.5 606.9 431.9 608 434.6 609.1 437.6 610.2 440.9 611.2 444.1 612.3 447.1 613.4 450.1 614.5 453.1 615.6 456 616.7 458.9 617.8 461.6 618.9 464.1 620 466.5 621.1 468.7 622.2 470.7 623.3 472.4 624.4 473.9 625.4 475.1 626.5 475.9 627.6 476.5 628.7 476.9 629.8 477.2 630.9 477.4 632 477.4 633.1 477.2 634.2 477 635.3 476.6 636.4 476.2 637.5 475.7 638.5 475 639.6 474.3 640.7 473.7 641.8 473.1 642.9 472.7 644 472.3 645.1 472 646.2 471.8 647.3 471.8 648.4 471.8 649.5 472 650.5 472.4 651.6 472.8 652.7 473.3 653.8 474 654.9 474.8 656 475.6 657.1 476.6 658.2 477.7 659.3 478.9 660.4 480.2 661.5 481.6 662.6 483 663.6 484.5 664.7 486 665.8 487.4 666.9 488.8 668 490.1 669.1 491.4 670.2 492.7 671.3 494 672.4 495.3 673.5 496.5 674.6 497.7 675.7 499 676.8 500.2 677.8 501.3 678.9 502.5 680 503.6 681.1 504.7 682.2 505.7 683.3 506.8 684.4 507.8 685.5 508.8 686.6 509.8 687.7 510.7 688.8 511.7 689.9 512.6 690.9 513.5 692 514.3 693.1 515.1 694.2 516 695.3 516.7 696.4 517.5 697.5 518.3 698.6 519 699.7 519.7 700.8 520.4 701.9 521.2 703 521.9 704 522.6 705.1 523.3 706.2 523.9 707.3 524.6 708.4 525.3 709.5 525.9 710.6 526.6 711.7 527.2 712.8 527.8 713.9 528.3 715 528.9 716 529.4 717.1 529.9 718.2 530.4 719.3 530.9 720.4 531.4 721.5 531.9 722.6 532.3 723.7 532.8 724.8 533.2 725.9 533.6 727 534 728.1 534.4 729.1 534.8 730.2 535.2 731.3 535.6 732.4 536 733.5 536.3 734.6 536.6 735.7 537 736.8 537.3 737.9 537.6 739 537.9 740.1 538.2 741.2 538.5 742.2 538.8 743.3 539 744.4 539.3 745.5 539.5 746.6 539.8 747.7 540 748.8 540.2 749.9 540.4 751 540.6 752.1 540.7 753.2 540.9 754.3 541 755.3 541.2 756.4 541.3 757.5 541.5 758.6 541.6 759.7 541.8 760.8 541.9 761.9 542.1 763 542.2 764.1 542.4 765.2 542.6 766.3 542.7 767.4 542.9 768.5 543 769.5 543.2 770.6 543.4 771.7 543.5 772.8 543.7 773.9 543.9 775 544" fill="none" stroke="#111" stroke-width="1.05" stroke-dasharray="4 2.2" stroke-linejoin="round" opacity="1"/>
<path d="M448.6 481.7 449.7 482.3 450.8 483 451.9 483.7 453 484.3 454.1 485 455.1 485.6 456.2 486.3 457.3 487 458.4 487.7 459.5 488.4 460.6 489.1 461.7 489.9 462.8 490.7 463.9 491.6 465 492.5 466.1 493.5 467.1 494.5 468.2 495.5 469.3 496.5 470.4 497.5 471.5 498.5 472.6 499.4 473.7 500.3 474.8 501.2 475.9 502.1 477 503 478.1 503.9 479.2 504.7 480.2 505.5 481.3 506.3 482.4 506.9 483.5 507.5 484.6 507.9 485.7 508.2 486.8 508.4 487.9 508.2 489 507.6 490.1 506.4 491.2 504.3 492.3 501.6 493.4 498.6 494.4 495.3 495.5 491.8 496.6 487.9 497.7 483.7 498.8 479.3 499.9 474.6 501 469.4 502.1 463.7 503.2 457.6 504.3 451.4 505.4 445.1 506.4 439.1 507.5 433.3 508.6 428.1 509.7 423 510.8 418.2 511.9 413.6 513 409.4 514.1 405.4 515.2 401.9 516.3 398.9 517.4 396.7 518.5 394.9 519.5 393.6 520.6 392.5 521.7 391.5 522.8 390.8 523.9 390.2 525 389.9 526.1 389.6 527.2 389.4 528.3 389.1 529.4 388.9 530.5 388.8 531.6 388.8 532.6 388.7 533.7 388.7 534.8 388.6 535.9 388.5 537 388.3 538.1 387.9 539.2 387.5 540.3 387 541.4 386.4 542.5 385.6 543.6 384.7 544.7 383.8 545.8 382.7 546.8 381.7 547.9 380.6 549 379.4 550.1 378.2 551.2 376.9 552.3 375.6 553.4 374.2 554.5 372.8 555.6 371.3 556.7 369.8 557.8 368.2 558.9 366.8 559.9 365.3 561 363.9 562.1 362.5 563.2 361.1 564.3 359.7 565.4 358.3 566.5 356.9 567.6 355.5 568.7 354.2 569.8 352.9 570.9 351.6 572 350.4 573 349.2 574.1 348 575.2 346.8 576.3 345.7 577.4 344.6 578.5 343.5 579.6 342.5 580.7 341.4 581.8 340.5 582.9 339.5 584 338.6 585 337.7 586.1 336.9 587.2 336.2 588.3 335.5 589.4 334.8 590.5 334.2 591.6 333.7 592.7 333.1 593.8 332.7 594.9 332.3 596 332 597.1 331.8 598.1 331.7 599.2 331.7 600.3 331.7 601.4 331.9 602.5 332.3 603.6 332.9 604.7 333.8 605.8 335 606.9 336.4 608 338 609.1 339.9 610.2 342 611.2 344.6 612.3 347.6 613.4 350.9 614.5 354.3 615.6 357.5 616.7 360.6 617.8 363.9 618.9 367 620 370.1 621.1 372.8 622.2 375.1 623.3 377.1 624.4 378.8 625.4 380.3 626.5 381.7 627.6 382.8 628.7 383.7 629.8 384.3 630.9 384.5 632 384.5 633.1 384.2 634.2 383.7 635.3 383.1 636.4 382.5 637.5 381.9 638.5 381.2 639.6 380.6 640.7 379.9 641.8 379.1 642.9 378.3 644 377.6 645.1 377 646.2 376.5 647.3 376.2 648.4 376.2 649.5 376.4 650.5 376.8 651.6 377.3 652.7 378.1 653.8 378.9 654.9 379.9 656 381.2 657.1 382.6 658.2 384.2 659.3 385.8 660.4 387.5 661.5 389.2 662.6 390.8 663.6 392.4 664.7 394.1 665.8 395.7 666.9 397.4 668 399.1 669.1 400.7 670.2 402.4 671.3 404 672.4 405.6 673.5 407.2 674.6 408.8 675.7 410.3 676.8 411.9 677.8 413.4 678.9 415 680 416.5 681.1 417.9 682.2 419.4 683.3 420.8 684.4 422.2 685.5 423.6 686.6 424.9 687.7 426.2 688.8 427.5 689.9 428.8 690.9 430 692 431.2 693.1 432.4 694.2 433.6 695.3 434.7 696.4 435.8 697.5 436.9 698.6 437.9 699.7 439 700.8 440.1 701.9 441.1 703 442.1 704 443.1 705.1 444.1 706.2 445.1 707.3 446.1 708.4 447.1 709.5 448 710.6 449 711.7 449.9 712.8 450.8 713.9 451.8 715 452.7 716 453.6 717.1 454.4 718.2 455.3 719.3 456.2 720.4 457.1 721.5 457.9 722.6 458.7 723.7 459.5 724.8 460.3 725.9 461.1 727 461.9 728.1 462.6 729.1 463.4 730.2 464.1 731.3 464.8 732.4 465.4 733.5 466 734.6 466.7 735.7 467.2 736.8 467.8 737.9 468.4 739 468.9 740.1 469.4 741.2 469.9 742.2 470.4 743.3 470.9 744.4 471.4 745.5 471.9 746.6 472.4 747.7 472.9 748.8 473.4 749.9 473.9 751 474.3 752.1 474.8 753.2 475.3 754.3 475.7 755.3 476.2 756.4 476.6 757.5 477 758.6 477.4 759.7 477.8 760.8 478.2 761.9 478.6 763 479 764.1 479.4 765.2 479.7 766.3 480 767.4 480.4 768.5 480.7 769.5 481 770.6 481.3 771.7 481.6 772.8 481.9 773.9 482.2 775 482.5" fill="none" stroke="#111" stroke-width="1.05" stroke-dasharray="5 1.6 1.2 1.6" stroke-linejoin="round" opacity="1"/>
<path d="M448.6 518.5 449.7 519 450.8 519.5 451.9 520.1 453 520.6 454.1 521.2 455.1 521.7 456.2 522.3 457.3 522.9 458.4 523.6 459.5 524.2 460.6 524.9 461.7 525.6 462.8 526.2 463.9 526.9 465 527.6 466.1 528.2 467.1 528.8 468.2 529.5 469.3 530.1 470.4 530.7 471.5 531.3 472.6 531.9 473.7 532.5 474.8 533.1 475.9 533.6 477 534.1 478.1 534.6 479.2 535 480.2 535.4 481.3 535.8 482.4 536.1 483.5 536.2 484.6 536.3 485.7 536.3 486.8 536 487.9 535.5 489 534.6 490.1 533.4 491.2 531.6 492.3 529.6 493.4 527.2 494.4 524.4 495.5 521.1 496.6 517.2 497.7 512.8 498.8 508.1 499.9 503.4 501 498.4 502.1 493.3 503.2 488.1 504.3 482.9 505.4 477.7 506.4 472.5 507.5 467.5 508.6 462.7 509.7 458.1 510.8 453.6 511.9 449.5 513 445.6 514.1 442 515.2 438.7 516.3 435.7 517.4 433.1 518.5 431 519.5 429.2 520.6 427.7 521.7 426.4 522.8 425.3 523.9 424.5 525 423.9 526.1 423.3 527.2 422.9 528.3 422.7 529.4 422.4 530.5 422.3 531.6 422.1 532.6 422.1 533.7 422.1 534.8 422.2 535.9 422.2 537 422.2 538.1 422.1 539.2 422 540.3 421.9 541.4 421.7 542.5 421.4 543.6 421 544.7 420.6 545.8 420.1 546.8 419.5 547.9 418.8 549 418.1 550.1 417.2 551.2 416.3 552.3 415.3 553.4 414.3 554.5 413.3 555.6 412.3 556.7 411.3 557.8 410.3 558.9 409.3 559.9 408.3 561 407.2 562.1 406.2 563.2 405.1 564.3 404.1 565.4 402.9 566.5 401.8 567.6 400.7 568.7 399.6 569.8 398.5 570.9 397.4 572 396.5 573 395.5 574.1 394.6 575.2 393.8 576.3 392.9 577.4 392.1 578.5 391.3 579.6 390.6 580.7 389.9 581.8 389.3 582.9 388.7 584 388.2 585 387.7 586.1 387.2 587.2 386.8 588.3 386.5 589.4 386.2 590.5 386.1 591.6 386 592.7 385.9 593.8 386 594.9 386.2 596 386.5 597.1 386.8 598.1 387.3 599.2 388 600.3 388.9 601.4 389.9 602.5 391.2 603.6 392.8 604.7 394.5 605.8 396.4 606.9 398.6 608 401.1 609.1 404 610.2 407 611.2 410.1 612.3 412.9 613.4 415.7 614.5 418.5 615.6 421.3 616.7 424 617.8 426.6 618.9 428.9 620 431.1 621.1 433.1 622.2 435 623.3 436.6 624.4 437.9 625.4 438.9 626.5 439.6 627.6 440.1 628.7 440.4 629.8 440.5 630.9 440.6 632 440.5 633.1 440.2 634.2 439.9 635.3 439.4 636.4 438.9 637.5 438.3 638.5 437.6 639.6 436.9 640.7 436.2 641.8 435.6 642.9 435.2 644 434.8 645.1 434.5 646.2 434.3 647.3 434.2 648.4 434.3 649.5 434.6 650.5 434.9 651.6 435.4 652.7 436 653.8 436.7 654.9 437.5 656 438.4 657.1 439.5 658.2 440.6 659.3 441.8 660.4 443.2 661.5 444.6 662.6 446.1 663.6 447.6 664.7 449.2 665.8 450.7 666.9 452.1 668 453.5 669.1 454.9 670.2 456.2 671.3 457.6 672.4 458.9 673.5 460.3 674.6 461.6 675.7 462.9 676.8 464.1 677.8 465.4 678.9 466.6 680 467.8 681.1 469 682.2 470.1 683.3 471.2 684.4 472.3 685.5 473.4 686.6 474.5 687.7 475.5 688.8 476.6 689.9 477.6 690.9 478.6 692 479.5 693.1 480.5 694.2 481.4 695.3 482.2 696.4 483.1 697.5 484 698.6 484.8 699.7 485.6 700.8 486.5 701.9 487.3 703 488.1 704 488.9 705.1 489.7 706.2 490.5 707.3 491.3 708.4 492 709.5 492.8 710.6 493.5 711.7 494.3 712.8 495 713.9 495.7 715 496.3 716 497 717.1 497.6 718.2 498.2 719.3 498.8 720.4 499.4 721.5 500 722.6 500.5 723.7 501.1 724.8 501.7 725.9 502.2 727 502.7 728.1 503.3 729.1 503.8 730.2 504.3 731.3 504.8 732.4 505.2 733.5 505.7 734.6 506.2 735.7 506.6 736.8 507.1 737.9 507.5 739 507.9 740.1 508.3 741.2 508.7 742.2 509.1 743.3 509.5 744.4 509.8 745.5 510.2 746.6 510.5 747.7 510.9 748.8 511.2 749.9 511.5 751 511.8 752.1 512.1 753.2 512.3 754.3 512.6 755.3 512.9 756.4 513.1 757.5 513.4 758.6 513.6 759.7 513.9 760.8 514.2 761.9 514.4 763 514.7 764.1 515 765.2 515.2 766.3 515.5 767.4 515.8 768.5 516 769.5 516.3 770.6 516.5 771.7 516.8 772.8 517.1 773.9 517.3 775 517.6" fill="none" stroke="#000" stroke-width="4.0" stroke-linejoin="round" opacity="1"/>
</g>
<path d="M483.9 854.8v-3.2M483.9 610.1v3.2M520.3 854.8v-3.2M520.3 610.1v3.2M556.7 854.8v-3.2M556.7 610.1v3.2M593.1 854.8v-3.2M593.1 610.1v3.2M629.4 854.8v-3.2M629.4 610.1v3.2M665.8 854.8v-3.2M665.8 610.1v3.2M702.2 854.8v-3.2M702.2 610.1v3.2M738.6 854.8v-3.2M738.6 610.1v3.2M447.5 827.6h3.2M775 827.6h-3.2M447.5 800.4h3.2M775 800.4h-3.2M447.5 773.2h3.2M775 773.2h-3.2M447.5 746h3.2M775 746h-3.2M447.5 718.9h3.2M775 718.9h-3.2M447.5 691.7h3.2M775 691.7h-3.2M447.5 664.5h3.2M775 664.5h-3.2M447.5 637.3h3.2M775 637.3h-3.2" stroke="#868686" stroke-width="1" fill="none"/>
<rect x="447.5" y="610.1" width="327.5" height="244.7" fill="none" stroke="#868686" stroke-width="1"/>
<g font-size="13" fill="#111" text-anchor="middle">
<text x="447.4" y="867.4">0</text>
<text x="483.8" y="867.4">100</text>
<text x="520.2" y="867.4">200</text>
<text x="556.6" y="867.4">300</text>
<text x="593" y="867.4">400</text>
<text x="629.3" y="867.4">500</text>
<text x="665.7" y="867.4">600</text>
<text x="702.1" y="867.4">700</text>
<text x="738.5" y="867.4">800</text>
<text x="774.9" y="867.4">900</text>
</g>
<g font-size="13" fill="#111" text-anchor="end">
<text x="442.3" y="859.4">4</text>
<text x="442.3" y="832.2">6</text>
<text x="442.3" y="805">8</text>
<text x="442.3" y="777.8">10</text>
<text x="442.3" y="750.6">12</text>
<text x="442.3" y="723.5">14</text>
<text x="442.3" y="696.3">16</text>
<text x="442.3" y="669.1">18</text>
<text x="442.3" y="641.9">20</text>
<text x="442.3" y="614.7">22</text>
</g>
<text x="611.5" y="885.5" font-size="13.5" fill="#111" text-anchor="middle">Time [ms]</text>
<text transform="translate(413.9 727) rotate(-90)" font-size="13.3" fill="#111" text-anchor="middle">ICP [mmHg]</text>
<clipPath id="ccr"><rect x="447.5" y="610.1" width="327.5" height="244.69999999999993"/></clipPath>
<g clip-path="url(#ccr)">
<path d="M448.6 752.9 449.7 753.4 450.8 753.8 451.9 754.3 453 754.7 454.1 755.2 455.1 755.6 456.2 756.1 457.3 756.5 458.4 757 459.5 757.4 460.6 757.9 461.7 758.4 462.8 758.9 463.9 759.4 465 760 466.1 760.5 467.1 761.1 468.2 761.7 469.3 762.3 470.4 762.8 471.5 763.4 472.6 763.9 473.7 764.4 474.8 764.8 475.9 765.3 477 765.7 478.1 766.1 479.2 766.4 480.2 766.8 481.3 767 482.4 767.3 483.5 767.5 484.6 767.7 485.7 767.7 486.8 767.7 487.9 767.4 489 766.9 490.1 766.3 491.2 765.7 492.3 764.9 493.4 763.9 494.4 762.7 495.5 761.2 496.6 759.3 497.7 757.1 498.8 754.7 499.9 752.1 501 749.5 502.1 746.7 503.2 744 504.3 741 505.4 737.9 506.4 734.7 507.5 731.5 508.6 728.4 509.7 725.5 510.8 722.6 511.9 719.8 513 717 514.1 714.4 515.2 711.9 516.3 709.5 517.4 707.4 518.5 705.6 519.5 703.9 520.6 702.3 521.7 700.9 522.8 699.7 523.9 698.5 525 697.4 526.1 696.6 527.2 695.9 528.3 695.2 529.4 694.6 530.5 694 531.6 693.2 532.6 692.4 533.7 691.7 534.8 690.9 535.9 690.1 537 689.3 538.1 688.4 539.2 687.5 540.3 686.4 541.4 685.3 542.5 684.1 543.6 682.9 544.7 681.7 545.8 680.3 546.8 679 547.9 677.5 549 676 550.1 674.5 551.2 672.9 552.3 671.3 553.4 669.7 554.5 668 555.6 666.3 556.7 664.6 557.8 662.9 558.9 661.3 559.9 659.6 561 658 562.1 656.3 563.2 654.6 564.3 652.9 565.4 651.2 566.5 649.5 567.6 647.8 568.7 646.2 569.8 644.6 570.9 643.1 572 641.7 573 640.3 574.1 638.9 575.2 637.6 576.3 636.4 577.4 635.1 578.5 633.9 579.6 632.7 580.7 631.6 581.8 630.5 582.9 629.5 584 628.5 585 627.5 586.1 626.6 587.2 625.7 588.3 624.9 589.4 624.1 590.5 623.3 591.6 622.6 592.7 621.9 593.8 621.2 594.9 620.6 596 620 597.1 619.5 598.1 619.1 599.2 618.8 600.3 618.6 601.4 618.5 602.5 618.5 603.6 618.5 604.7 618.7 605.8 619.1 606.9 619.6 608 620.3 609.1 621.3 610.2 622.7 611.2 624.3 612.3 626.4 613.4 629 614.5 632 615.6 634.7 616.7 637.1 617.8 639.4 618.9 641.7 620 643.8 621.1 645.8 622.2 647.6 623.3 649.2 624.4 650.6 625.4 651.9 626.5 653.1 627.6 654.1 628.7 654.9 629.8 655.7 630.9 656.3 632 656.9 633.1 657.4 634.2 658 635.3 658.5 636.4 658.9 637.5 659.4 638.5 659.8 639.6 660.2 640.7 660.6 641.8 661.1 642.9 661.5 644 661.9 645.1 662.4 646.2 662.8 647.3 663.3 648.4 663.9 649.5 664.6 650.5 665.5 651.6 666.5 652.7 667.7 653.8 668.9 654.9 670.2 656 671.6 657.1 673 658.2 674.4 659.3 675.8 660.4 677.3 661.5 678.8 662.6 680.3 663.6 681.8 664.7 683.4 665.8 684.9 666.9 686.5 668 688 669.1 689.5 670.2 690.9 671.3 692.2 672.4 693.6 673.5 694.9 674.6 696.2 675.7 697.5 676.8 698.7 677.8 699.9 678.9 701.1 680 702.2 681.1 703.3 682.2 704.3 683.3 705.3 684.4 706.3 685.5 707.2 686.6 708.2 687.7 709 688.8 709.9 689.9 710.7 690.9 711.6 692 712.4 693.1 713.2 694.2 714 695.3 714.8 696.4 715.6 697.5 716.5 698.6 717.3 699.7 718.1 700.8 718.8 701.9 719.6 703 720.4 704 721.2 705.1 721.9 706.2 722.7 707.3 723.4 708.4 724.1 709.5 724.9 710.6 725.6 711.7 726.3 712.8 727 713.9 727.7 715 728.3 716 729 717.1 729.7 718.2 730.3 719.3 731 720.4 731.6 721.5 732.3 722.6 732.9 723.7 733.5 724.8 734.1 725.9 734.7 727 735.3 728.1 735.9 729.1 736.4 730.2 737 731.3 737.6 732.4 738.1 733.5 738.6 734.6 739.2 735.7 739.7 736.8 740.2 737.9 740.7 739 741.2 740.1 741.7 741.2 742.2 742.2 742.6 743.3 743.1 744.4 743.5 745.5 744 746.6 744.4 747.7 744.8 748.8 745.3 749.9 745.7 751 746.1 752.1 746.5 753.2 746.9 754.3 747.3 755.3 747.8 756.4 748.2 757.5 748.6 758.6 749 759.7 749.4 760.8 749.8 761.9 750.2 763 750.6 764.1 751 765.2 751.4 766.3 751.8 767.4 752.2 768.5 752.6 769.5 753 770.6 753.4 771.7 753.8 772.8 754.1 773.9 754.5 775 754.9" fill="none" stroke="#111" stroke-width="1.05" stroke-dasharray="4 2.2" stroke-linejoin="round" opacity="1"/>
<path d="M448.6 754.1 449.7 754.5 450.8 755 451.9 755.4 453 755.9 454.1 756.3 455.1 756.8 456.2 757.2 457.3 757.7 458.4 758.1 459.5 758.6 460.6 759.1 461.7 759.6 462.8 760.1 463.9 760.6 465 761.1 466.1 761.7 467.1 762.3 468.2 762.8 469.3 763.4 470.4 764 471.5 764.5 472.6 765 473.7 765.5 474.8 766 475.9 766.4 477 766.8 478.1 767.2 479.2 767.6 480.2 767.9 481.3 768.2 482.4 768.4 483.5 768.7 484.6 768.8 485.7 768.9 486.8 768.8 487.9 768.5 489 768 490.1 767.5 491.2 766.9 492.3 766.2 493.4 765.2 494.4 763.9 495.5 762.3 496.6 760.2 497.7 757.8 498.8 755 499.9 752.1 501 749.2 502.1 746.2 503.2 743.3 504.3 740.3 505.4 737.2 506.4 734 507.5 730.9 508.6 727.8 509.7 724.9 510.8 722.1 511.9 719.2 513 716.5 514.1 713.8 515.2 711.3 516.3 709 517.4 706.9 518.5 705 519.5 703.3 520.6 701.8 521.7 700.4 522.8 699.1 523.9 697.9 525 696.9 526.1 696 527.2 695.3 528.3 694.7 529.4 694.1 530.5 693.4 531.6 692.6 532.6 691.9 533.7 691.1 534.8 690.3 535.9 689.6 537 688.7 538.1 687.8 539.2 686.9 540.3 685.8 541.4 684.7 542.5 683.6 543.6 682.4 544.7 681.1 545.8 679.8 546.8 678.4 547.9 676.9 549 675.5 550.1 673.9 551.2 672.3 552.3 670.7 553.4 669.1 554.5 667.4 555.6 665.7 556.7 664 557.8 662.4 558.9 660.7 559.9 659 561 657.4 562.1 655.7 563.2 654 564.3 652.3 565.4 650.6 566.5 648.9 567.6 647.3 568.7 645.6 569.8 644.1 570.9 642.6 572 641.1 573 639.7 574.1 638.4 575.2 637.1 576.3 635.8 577.4 634.5 578.5 633.3 579.6 632.2 580.7 631.1 581.8 630 582.9 628.9 584 627.9 585 627 586.1 626 587.2 625.1 588.3 624.3 589.4 623.5 590.5 622.7 591.6 622 592.7 621.3 593.8 620.6 594.9 620 596 619.4 597.1 618.9 598.1 618.6 599.2 618.3 600.3 618.1 601.4 617.9 602.5 617.9 603.6 618 604.7 618.2 605.8 618.5 606.9 619 608 619.8 609.1 620.7 610.2 622 611.2 623.7 612.3 625.9 613.4 628.7 614.5 631.8 615.6 634.7 616.7 637.1 617.8 639.5 618.9 641.7 620 643.9 621.1 645.8 622.2 647.6 623.3 649.2 624.4 650.6 625.4 651.9 626.5 653.1 627.6 654.1 628.7 654.9 629.8 655.7 630.9 656.3 632 656.9 633.1 657.4 634.2 658 635.3 658.5 636.4 658.9 637.5 659.4 638.5 659.8 639.6 660.2 640.7 660.6 641.8 661.1 642.9 661.5 644 661.9 645.1 662.4 646.2 662.8 647.3 663.3 648.4 663.9 649.5 664.6 650.5 665.5 651.6 666.5 652.7 667.7 653.8 668.9 654.9 670.2 656 671.6 657.1 673 658.2 674.4 659.3 675.8 660.4 677.3 661.5 678.8 662.6 680.3 663.6 681.8 664.7 683.4 665.8 684.9 666.9 686.5 668 688 669.1 689.5 670.2 690.9 671.3 692.2 672.4 693.6 673.5 694.9 674.6 696.2 675.7 697.5 676.8 698.7 677.8 700 678.9 701.1 680 702.3 681.1 703.3 682.2 704.3 683.3 705.3 684.4 706.2 685.5 707.1 686.6 708 687.7 708.8 688.8 709.6 689.9 710.4 690.9 711.1 692 711.9 693.1 712.6 694.2 713.4 695.3 714.1 696.4 714.9 697.5 715.6 698.6 716.4 699.7 717.1 700.8 717.9 701.9 718.6 703 719.3 704 720 705.1 720.7 706.2 721.4 707.3 722.1 708.4 722.7 709.5 723.4 710.6 724.1 711.7 724.7 712.8 725.4 713.9 726 715 726.6 716 727.2 717.1 727.8 718.2 728.4 719.3 729 720.4 729.6 721.5 730.2 722.6 730.7 723.7 731.3 724.8 731.9 725.9 732.4 727 732.9 728.1 733.5 729.1 734 730.2 734.5 731.3 735 732.4 735.5 733.5 735.9 734.6 736.4 735.7 736.9 736.8 737.3 737.9 737.8 739 738.2 740.1 738.7 741.2 739.1 742.2 739.5 743.3 739.9 744.4 740.3 745.5 740.7 746.6 741 747.7 741.4 748.8 741.8 749.9 742.1 751 742.5 752.1 742.8 753.2 743.2 754.3 743.6 755.3 743.9 756.4 744.3 757.5 744.6 758.6 745 759.7 745.4 760.8 745.7 761.9 746.1 763 746.4 764.1 746.7 765.2 747.1 766.3 747.4 767.4 747.8 768.5 748.1 769.5 748.4 770.6 748.7 771.7 749.1 772.8 749.4 773.9 749.7 775 750" fill="none" stroke="#111" stroke-width="1.05" stroke-dasharray="4 2" stroke-linejoin="round" opacity="1"/>
<path d="M448.6 788.8 449.7 789.2 450.8 789.5 451.9 789.8 453 790.2 454.1 790.5 455.1 790.9 456.2 791.2 457.3 791.5 458.4 791.9 459.5 792.2 460.6 792.6 461.7 792.9 462.8 793.3 463.9 793.7 465 794.1 466.1 794.5 467.1 794.9 468.2 795.3 469.3 795.7 470.4 796.1 471.5 796.4 472.6 796.8 473.7 797.2 474.8 797.5 475.9 797.8 477 798.1 478.1 798.4 479.2 798.6 480.2 798.9 481.3 799.1 482.4 799.2 483.5 799.2 484.6 799 485.7 798.7 486.8 798.4 487.9 798 489 797.5 490.1 796.9 491.2 796.1 492.3 795.1 493.4 793.8 494.4 792.3 495.5 790.4 496.6 788.2 497.7 785.9 498.8 783.4 499.9 780.8 501 778.1 502.1 775.4 503.2 772.7 504.3 769.9 505.4 766.9 506.4 763.8 507.5 760.8 508.6 757.8 509.7 754.9 510.8 752.2 511.9 749.6 513 747.1 514.1 744.7 515.2 742.4 516.3 740.3 517.4 738.2 518.5 736.3 519.5 734.5 520.6 733 521.7 731.6 522.8 730.4 523.9 729.3 525 728.4 526.1 727.5 527.2 726.6 528.3 725.7 529.4 724.8 530.5 724.1 531.6 723.5 532.6 722.9 533.7 722.2 534.8 721.6 535.9 720.8 537 719.8 538.1 718.8 539.2 717.7 540.3 716.5 541.4 715.3 542.5 714.1 543.6 712.8 544.7 711.5 545.8 710.2 546.8 708.9 547.9 707.6 549 706.3 550.1 705 551.2 703.6 552.3 702.2 553.4 700.8 554.5 699.3 555.6 697.9 556.7 696.6 557.8 695.2 558.9 693.9 559.9 692.6 561 691.4 562.1 690.2 563.2 689.1 564.3 687.9 565.4 686.8 566.5 685.7 567.6 684.7 568.7 683.6 569.8 682.6 570.9 681.6 572 680.7 573 679.7 574.1 678.8 575.2 677.9 576.3 677 577.4 676.2 578.5 675.4 579.6 674.6 580.7 673.9 581.8 673.2 582.9 672.5 584 672 585 671.4 586.1 670.9 587.2 670.5 588.3 670.1 589.4 669.7 590.5 669.4 591.6 669 592.7 668.7 593.8 668.4 594.9 668 596 667.7 597.1 667.4 598.1 667.1 599.2 666.8 600.3 666.7 601.4 666.7 602.5 666.8 603.6 666.9 604.7 667.1 605.8 667.5 606.9 668 608 668.8 609.1 669.9 610.2 671.2 611.2 672.8 612.3 674.6 613.4 676.5 614.5 678.4 615.6 680.3 616.7 682.2 617.8 684 618.9 685.7 620 687.3 621.1 688.9 622.2 690.4 623.3 692 624.4 693.4 625.4 694.8 626.5 696 627.6 697.2 628.7 698.3 629.8 699.2 630.9 700.1 632 700.8 633.1 701.4 634.2 701.9 635.3 702.4 636.4 702.7 637.5 702.9 638.5 703.1 639.6 703.2 640.7 703.3 641.8 703.4 642.9 703.6 644 703.9 645.1 704.3 646.2 704.6 647.3 705 648.4 705.5 649.5 706 650.5 706.6 651.6 707.3 652.7 708 653.8 708.9 654.9 709.9 656 710.9 657.1 712 658.2 713.1 659.3 714.3 660.4 715.4 661.5 716.6 662.6 717.8 663.6 718.9 664.7 720 665.8 721.1 666.9 722.2 668 723.2 669.1 724.1 670.2 725.1 671.3 726 672.4 726.9 673.5 727.8 674.6 728.6 675.7 729.5 676.8 730.3 677.8 731.2 678.9 732 680 732.8 681.1 733.6 682.2 734.4 683.3 735.3 684.4 736.1 685.5 736.9 686.6 737.6 687.7 738.4 688.8 739.2 689.9 740 690.9 740.7 692 741.5 693.1 742.2 694.2 742.9 695.3 743.6 696.4 744.4 697.5 745.1 698.6 745.8 699.7 746.4 700.8 747.1 701.9 747.8 703 748.5 704 749.1 705.1 749.8 706.2 750.4 707.3 751 708.4 751.6 709.5 752.3 710.6 752.9 711.7 753.5 712.8 754 713.9 754.6 715 755.2 716 755.8 717.1 756.3 718.2 756.9 719.3 757.4 720.4 757.9 721.5 758.5 722.6 759 723.7 759.5 724.8 760 725.9 760.5 727 760.9 728.1 761.4 729.1 761.9 730.2 762.3 731.3 762.7 732.4 763.2 733.5 763.6 734.6 764 735.7 764.4 736.8 764.8 737.9 765.3 739 765.7 740.1 766.1 741.2 766.5 742.2 766.9 743.3 767.3 744.4 767.7 745.5 768.1 746.6 768.5 747.7 768.9 748.8 769.3 749.9 769.7 751 770.1 752.1 770.4 753.2 770.8 754.3 771.2 755.3 771.5 756.4 771.9 757.5 772.2 758.6 772.5 759.7 772.8 760.8 773.1 761.9 773.5 763 773.8 764.1 774.1 765.2 774.4 766.3 774.7 767.4 775.1 768.5 775.4 769.5 775.7 770.6 776 771.7 776.4 772.8 776.7 773.9 777 775 777.3" fill="none" stroke="#111" stroke-width="1.05" stroke-dasharray="4.5 1.8 1.2 1.8" stroke-linejoin="round" opacity="1"/>
<path d="M448.6 796 449.7 796.3 450.8 796.7 451.9 797 453 797.3 454.1 797.7 455.1 798 456.2 798.3 457.3 798.7 458.4 799 459.5 799.4 460.6 799.7 461.7 800.1 462.8 800.5 463.9 800.9 465 801.4 466.1 801.8 467.1 802.3 468.2 802.8 469.3 803.3 470.4 803.7 471.5 804.2 472.6 804.6 473.7 805.1 474.8 805.5 475.9 805.8 477 806.1 478.1 806.4 479.2 806.7 480.2 806.9 481.3 807.1 482.4 807.2 483.5 807.2 484.6 807 485.7 806.8 486.8 806.5 487.9 806.2 489 805.8 490.1 805.3 491.2 804.6 492.3 803.6 493.4 802.4 494.4 800.9 495.5 799 496.6 796.9 497.7 794.5 498.8 791.9 499.9 789.3 501 786.6 502.1 784 503.2 781.4 504.3 778.8 505.4 776 506.4 773.2 507.5 770.4 508.6 767.6 509.7 764.9 510.8 762.2 511.9 759.6 513 757.1 514.1 754.5 515.2 751.9 516.3 749.5 517.4 747.2 518.5 745 519.5 743.1 520.6 741.5 521.7 740.1 522.8 738.8 523.9 737.8 525 736.8 526.1 735.9 527.2 735.1 528.3 734.3 529.4 733.5 530.5 732.9 531.6 732.4 532.6 732 533.7 731.5 534.8 731.1 535.9 730.5 537 729.9 538.1 729.2 539.2 728.4 540.3 727.7 541.4 726.9 542.5 726.1 543.6 725.2 544.7 724.4 545.8 723.5 546.8 722.6 547.9 721.8 549 720.9 550.1 719.9 551.2 719 552.3 718 553.4 717 554.5 716.1 555.6 715.1 556.7 714.1 557.8 713.1 558.9 712.2 559.9 711.3 561 710.4 562.1 709.5 563.2 708.6 564.3 707.7 565.4 706.8 566.5 706 567.6 705.2 568.7 704.4 569.8 703.7 570.9 703 572 702.4 573 701.8 574.1 701.3 575.2 700.8 576.3 700.4 577.4 700 578.5 699.6 579.6 699.3 580.7 699 581.8 698.7 582.9 698.4 584 698.1 585 697.8 586.1 697.6 587.2 697.3 588.3 697.1 589.4 696.9 590.5 696.8 591.6 696.6 592.7 696.5 593.8 696.4 594.9 696.3 596 696.2 597.1 696.2 598.1 696.2 599.2 696.3 600.3 696.5 601.4 696.8 602.5 697.2 603.6 697.6 604.7 698 605.8 698.6 606.9 699.3 608 700.3 609.1 701.5 610.2 703 611.2 704.6 612.3 706.4 613.4 708.3 614.5 710.3 615.6 712.2 616.7 714 617.8 715.7 618.9 717.3 620 718.6 621.1 719.9 622.2 721.1 623.3 722.2 624.4 723.2 625.4 724.2 626.5 725 627.6 725.8 628.7 726.5 629.8 727.1 630.9 727.5 632 727.9 633.1 728.2 634.2 728.4 635.3 728.6 636.4 728.7 637.5 728.8 638.5 728.8 639.6 728.7 640.7 728.7 641.8 728.7 642.9 728.8 644 729 645.1 729.2 646.2 729.5 647.3 729.8 648.4 730.2 649.5 730.7 650.5 731.2 651.6 731.8 652.7 732.5 653.8 733.3 654.9 734.1 656 735 657.1 736 658.2 737 659.3 738 660.4 739 661.5 740.1 662.6 741.1 663.6 742.2 664.7 743.2 665.8 744.2 666.9 745.2 668 746.1 669.1 747 670.2 747.9 671.3 748.9 672.4 749.7 673.5 750.6 674.6 751.5 675.7 752.4 676.8 753.2 677.8 754.1 678.9 754.9 680 755.8 681.1 756.6 682.2 757.4 683.3 758.2 684.4 759 685.5 759.8 686.6 760.6 687.7 761.4 688.8 762.2 689.9 762.9 690.9 763.7 692 764.4 693.1 765.2 694.2 765.9 695.3 766.6 696.4 767.3 697.5 768 698.6 768.7 699.7 769.4 700.8 770.1 701.9 770.8 703 771.4 704 772.1 705.1 772.7 706.2 773.4 707.3 774 708.4 774.6 709.5 775.2 710.6 775.8 711.7 776.4 712.8 777 713.9 777.6 715 778.2 716 778.7 717.1 779.3 718.2 779.8 719.3 780.4 720.4 780.9 721.5 781.4 722.6 781.9 723.7 782.5 724.8 783 725.9 783.4 727 783.9 728.1 784.4 729.1 784.9 730.2 785.3 731.3 785.8 732.4 786.2 733.5 786.6 734.6 787.1 735.7 787.5 736.8 787.9 737.9 788.3 739 788.7 740.1 789 741.2 789.4 742.2 789.8 743.3 790.1 744.4 790.4 745.5 790.8 746.6 791.1 747.7 791.4 748.8 791.7 749.9 792 751 792.3 752.1 792.6 753.2 792.9 754.3 793.3 755.3 793.5 756.4 793.8 757.5 794.1 758.6 794.4 759.7 794.7 760.8 794.9 761.9 795.2 763 795.5 764.1 795.7 765.2 796 766.3 796.2 767.4 796.5 768.5 796.7 769.5 796.9 770.6 797.1 771.7 797.3 772.8 797.6 773.9 797.8 775 798" fill="none" stroke="#111" stroke-width="1.05" stroke-dasharray="3.6 2.2" stroke-linejoin="round" opacity="1"/>
<path d="M448.6 810.4 449.7 810.7 450.8 811 451.9 811.3 453 811.6 454.1 812 455.1 812.3 456.2 812.6 457.3 812.9 458.4 813.2 459.5 813.5 460.6 813.7 461.7 814 462.8 814.3 463.9 814.6 465 814.8 466.1 815.1 467.1 815.3 468.2 815.6 469.3 815.8 470.4 816 471.5 816.3 472.6 816.5 473.7 816.7 474.8 816.9 475.9 817.1 477 817.3 478.1 817.4 479.2 817.5 480.2 817.6 481.3 817.6 482.4 817.6 483.5 817.5 484.6 817.2 485.7 816.8 486.8 816.2 487.9 815.6 489 814.7 490.1 813.7 491.2 812.4 492.3 810.9 493.4 809.1 494.4 807.1 495.5 805 496.6 802.8 497.7 800.6 498.8 798.2 499.9 795.6 501 793.1 502.1 790.6 503.2 788.1 504.3 785.6 505.4 783 506.4 780.5 507.5 778.2 508.6 776 509.7 773.9 510.8 771.8 511.9 770 513 768.2 514.1 766.5 515.2 765 516.3 763.7 517.4 762.4 518.5 761.3 519.5 760.3 520.6 759.3 521.7 758.6 522.8 757.9 523.9 757.4 525 756.8 526.1 756.4 527.2 756.2 528.3 756 529.4 755.8 530.5 755.5 531.6 755 532.6 754.3 533.7 753.5 534.8 752.7 535.9 751.8 537 750.9 538.1 750.1 539.2 749.3 540.3 748.6 541.4 748 542.5 747.5 543.6 747 544.7 746.5 545.8 746 546.8 745.5 547.9 744.9 549 744.3 550.1 743.6 551.2 742.9 552.3 742.1 553.4 741.4 554.5 740.6 555.6 739.9 556.7 739.1 557.8 738.4 558.9 737.6 559.9 736.9 561 736.1 562.1 735.4 563.2 734.7 564.3 733.9 565.4 733.3 566.5 732.6 567.6 732 568.7 731.5 569.8 730.9 570.9 730.4 572 729.8 573 729.3 574.1 728.9 575.2 728.4 576.3 728 577.4 727.6 578.5 727.2 579.6 726.8 580.7 726.5 581.8 726.2 582.9 725.9 584 725.7 585 725.5 586.1 725.3 587.2 725.2 588.3 725.1 589.4 725 590.5 725 591.6 725 592.7 725.1 593.8 725.2 594.9 725.4 596 725.6 597.1 725.8 598.1 726.1 599.2 726.4 600.3 726.8 601.4 727.3 602.5 727.8 603.6 728.5 604.7 729.3 605.8 730.1 606.9 730.9 608 731.8 609.1 732.8 610.2 733.9 611.2 735.3 612.3 737.1 613.4 739.6 614.5 742.3 615.6 744.7 616.7 746.5 617.8 748.1 618.9 749.5 620 750.7 621.1 751.9 622.2 753 623.3 754.1 624.4 755 625.4 755.8 626.5 756.5 627.6 757.1 628.7 757.6 629.8 757.9 630.9 758.2 632 758.4 633.1 758.6 634.2 758.7 635.3 758.8 636.4 758.8 637.5 758.8 638.5 758.8 639.6 758.8 640.7 758.6 641.8 758.5 642.9 758.4 644 758.3 645.1 758.3 646.2 758.5 647.3 758.9 648.4 759.3 649.5 759.9 650.5 760.5 651.6 761.2 652.7 761.9 653.8 762.6 654.9 763.4 656 764.2 657.1 765.1 658.2 765.9 659.3 766.8 660.4 767.7 661.5 768.5 662.6 769.3 663.6 770.2 664.7 771 665.8 771.8 666.9 772.6 668 773.4 669.1 774.2 670.2 775 671.3 775.8 672.4 776.6 673.5 777.3 674.6 778.1 675.7 778.9 676.8 779.6 677.8 780.3 678.9 781.1 680 781.8 681.1 782.5 682.2 783.2 683.3 783.9 684.4 784.6 685.5 785.2 686.6 785.8 687.7 786.5 688.8 787.1 689.9 787.6 690.9 788.2 692 788.8 693.1 789.4 694.2 789.9 695.3 790.5 696.4 791 697.5 791.5 698.6 792.1 699.7 792.6 700.8 793.1 701.9 793.6 703 794.1 704 794.6 705.1 795.1 706.2 795.6 707.3 796 708.4 796.5 709.5 796.9 710.6 797.3 711.7 797.7 712.8 798.1 713.9 798.5 715 798.9 716 799.3 717.1 799.6 718.2 800 719.3 800.4 720.4 800.8 721.5 801.1 722.6 801.5 723.7 801.9 724.8 802.3 725.9 802.7 727 803 728.1 803.4 729.1 803.7 730.2 804.1 731.3 804.4 732.4 804.7 733.5 804.9 734.6 805.2 735.7 805.5 736.8 805.7 737.9 806 739 806.2 740.1 806.5 741.2 806.7 742.2 806.9 743.3 807.1 744.4 807.3 745.5 807.5 746.6 807.7 747.7 807.9 748.8 808 749.9 808.2 751 808.3 752.1 808.5 753.2 808.7 754.3 808.8 755.3 808.9 756.4 809 757.5 809.1 758.6 809.2 759.7 809.3 760.8 809.5 761.9 809.8 763 810 764.1 810.3 765.2 810.6 766.3 810.8 767.4 811.1 768.5 811.4 769.5 811.7 770.6 812 771.7 812.3 772.8 812.6 773.9 812.9 775 813.2" fill="none" stroke="#111" stroke-width="1.05" stroke-dasharray="4 2.2" stroke-linejoin="round" opacity="1"/>
<path d="M448.6 816.1 449.7 816.4 450.8 816.7 451.9 817 453 817.3 454.1 817.6 455.1 817.9 456.2 818.2 457.3 818.5 458.4 818.8 459.5 819.1 460.6 819.4 461.7 819.7 462.8 820 463.9 820.2 465 820.5 466.1 820.8 467.1 821.1 468.2 821.4 469.3 821.7 470.4 822 471.5 822.2 472.6 822.5 473.7 822.7 474.8 823 475.9 823.2 477 823.4 478.1 823.6 479.2 823.8 480.2 823.9 481.3 824 482.4 824 483.5 823.8 484.6 823.5 485.7 823.1 486.8 822.5 487.9 821.9 489 821 490.1 820 491.2 818.7 492.3 817.2 493.4 815.4 494.4 813.4 495.5 811.3 496.6 809.1 497.7 806.9 498.8 804.5 499.9 802 501 799.4 502.1 796.9 503.2 794.4 504.3 791.9 505.4 789.4 506.4 786.9 507.5 784.5 508.6 782.3 509.7 780.2 510.8 778.2 511.9 776.3 513 774.5 514.1 772.9 515.2 771.3 516.3 770 517.4 768.7 518.5 767.6 519.5 766.6 520.6 765.7 521.7 765.1 522.8 764.6 523.9 764.1 525 763.7 526.1 763.3 527.2 763.1 528.3 762.8 529.4 762.6 530.5 762.4 531.6 762 532.6 761.5 533.7 761.1 534.8 760.6 535.9 760.2 537 759.7 538.1 759.2 539.2 758.7 540.3 758.2 541.4 757.7 542.5 757.2 543.6 756.7 544.7 756.2 545.8 755.7 546.8 755.2 547.9 754.6 549 754 550.1 753.5 551.2 752.9 552.3 752.3 553.4 751.7 554.5 751.1 555.6 750.6 556.7 750 557.8 749.5 558.9 749 559.9 748.6 561 748.2 562.1 747.9 563.2 747.5 564.3 747.2 565.4 747 566.5 746.7 567.6 746.5 568.7 746.2 569.8 746 570.9 745.8 572 745.6 573 745.4 574.1 745.2 575.2 745 576.3 744.8 577.4 744.7 578.5 744.6 579.6 744.5 580.7 744.4 581.8 744.3 582.9 744.3 584 744.2 585 744.2 586.1 744.1 587.2 744 588.3 744 589.4 743.9 590.5 743.9 591.6 744 592.7 744 593.8 744.2 594.9 744.4 596 744.6 597.1 744.9 598.1 745.3 599.2 745.7 600.3 746.1 601.4 746.6 602.5 747 603.6 747.5 604.7 748 605.8 748.5 606.9 749 608 749.6 609.1 750.4 610.2 751.6 611.2 753.1 612.3 754.7 613.4 756.5 614.5 758.3 615.6 760.1 616.7 761.8 617.8 763.3 618.9 764.6 620 765.8 621.1 766.8 622.2 767.8 623.3 768.6 624.4 769.4 625.4 770 626.5 770.6 627.6 771.1 628.7 771.5 629.8 771.8 630.9 772 632 772.1 633.1 772.2 634.2 772.3 635.3 772.4 636.4 772.5 637.5 772.6 638.5 772.6 639.6 772.6 640.7 772.6 641.8 772.6 642.9 772.7 644 772.9 645.1 773.1 646.2 773.5 647.3 773.8 648.4 774.2 649.5 774.6 650.5 775 651.6 775.4 652.7 775.9 653.8 776.3 654.9 776.8 656 777.3 657.1 777.8 658.2 778.3 659.3 778.8 660.4 779.4 661.5 779.9 662.6 780.5 663.6 781.1 664.7 781.6 665.8 782.2 666.9 782.7 668 783.3 669.1 783.8 670.2 784.4 671.3 785 672.4 785.5 673.5 786.1 674.6 786.7 675.7 787.2 676.8 787.8 677.8 788.3 678.9 788.9 680 789.4 681.1 790 682.2 790.5 683.3 791 684.4 791.5 685.5 792 686.6 792.4 687.7 792.9 688.8 793.3 689.9 793.7 690.9 794.1 692 794.5 693.1 794.8 694.2 795.2 695.3 795.6 696.4 796 697.5 796.4 698.6 796.9 699.7 797.3 700.8 797.7 701.9 798.2 703 798.6 704 799 705.1 799.4 706.2 799.9 707.3 800.3 708.4 800.7 709.5 801.1 710.6 801.5 711.7 801.9 712.8 802.3 713.9 802.7 715 803.1 716 803.4 717.1 803.8 718.2 804.1 719.3 804.5 720.4 804.8 721.5 805.1 722.6 805.4 723.7 805.7 724.8 806 725.9 806.3 727 806.6 728.1 806.8 729.1 807.1 730.2 807.4 731.3 807.6 732.4 807.9 733.5 808.2 734.6 808.4 735.7 808.7 736.8 808.9 737.9 809.2 739 809.4 740.1 809.6 741.2 809.9 742.2 810.1 743.3 810.3 744.4 810.5 745.5 810.7 746.6 810.9 747.7 811.1 748.8 811.3 749.9 811.5 751 811.8 752.1 812 753.2 812.2 754.3 812.5 755.3 812.7 756.4 813 757.5 813.2 758.6 813.5 759.7 813.8 760.8 814 761.9 814.3 763 814.6 764.1 814.8 765.2 815.1 766.3 815.4 767.4 815.6 768.5 815.9 769.5 816.2 770.6 816.5 771.7 816.7 772.8 817 773.9 817.3 775 817.5" fill="none" stroke="#111" stroke-width="1.05" stroke-dasharray="4 2" stroke-linejoin="round" opacity="1"/>
<path d="M448.6 826.2 449.7 826.3 450.8 826.5 451.9 826.7 453 826.9 454.1 827 455.1 827.2 456.2 827.4 457.3 827.5 458.4 827.7 459.5 827.9 460.6 828.1 461.7 828.3 462.8 828.6 463.9 828.8 465 829.1 466.1 829.4 467.1 829.7 468.2 829.9 469.3 830.2 470.4 830.5 471.5 830.8 472.6 831.1 473.7 831.3 474.8 831.6 475.9 831.8 477 832 478.1 832.1 479.2 832.3 480.2 832.4 481.3 832.5 482.4 832.5 483.5 832.3 484.6 832.1 485.7 831.7 486.8 831.3 487.9 830.8 489 830.1 490.1 829.2 491.2 828 492.3 826.4 493.4 824.5 494.4 822.3 495.5 819.8 496.6 817.2 497.7 814.4 498.8 811.7 499.9 809 501 806.4 502.1 804 503.2 801.8 504.3 799.6 505.4 797.5 506.4 795.4 507.5 793.3 508.6 791.3 509.7 789.4 510.8 787.6 511.9 785.9 513 784.4 514.1 782.9 515.2 781.7 516.3 780.5 517.4 779.5 518.5 778.6 519.5 777.8 520.6 777.1 521.7 776.4 522.8 775.8 523.9 775.2 525 774.7 526.1 774.2 527.2 773.7 528.3 773.2 529.4 772.9 530.5 772.5 531.6 772.2 532.6 771.9 533.7 771.7 534.8 771.4 535.9 771.1 537 770.9 538.1 770.6 539.2 770.3 540.3 770 541.4 769.7 542.5 769.4 543.6 769 544.7 768.7 545.8 768.4 546.8 768.1 547.9 767.8 549 767.4 550.1 767.1 551.2 766.8 552.3 766.5 553.4 766.2 554.5 765.9 555.6 765.6 556.7 765.3 557.8 765 558.9 764.7 559.9 764.4 561 764.1 562.1 763.9 563.2 763.6 564.3 763.3 565.4 763 566.5 762.8 567.6 762.5 568.7 762.3 569.8 762 570.9 761.8 572 761.6 573 761.4 574.1 761.2 575.2 761 576.3 760.8 577.4 760.6 578.5 760.5 579.6 760.3 580.7 760.2 581.8 760 582.9 759.9 584 759.7 585 759.6 586.1 759.5 587.2 759.4 588.3 759.3 589.4 759.3 590.5 759.3 591.6 759.3 592.7 759.3 593.8 759.4 594.9 759.6 596 759.7 597.1 759.9 598.1 760.2 599.2 760.4 600.3 760.8 601.4 761.3 602.5 761.8 603.6 762.5 604.7 763.3 605.8 764.2 606.9 766 608 769 609.1 772.3 610.2 774.6 611.2 776.1 612.3 777.4 613.4 778.5 614.5 779.6 615.6 780.5 616.7 781.4 617.8 782.3 618.9 783.2 620 784.1 621.1 785 622.2 785.9 623.3 786.7 624.4 787.4 625.4 788 626.5 788.5 627.6 788.9 628.7 789.2 629.8 789.4 630.9 789.5 632 789.6 633.1 789.7 634.2 789.7 635.3 789.7 636.4 789.6 637.5 789.6 638.5 789.7 639.6 789.7 640.7 789.6 641.8 789.5 642.9 789.4 644 789.4 645.1 789.3 646.2 789.4 647.3 789.6 648.4 790 649.5 790.5 650.5 791.1 651.6 791.7 652.7 792.4 653.8 793.1 654.9 793.8 656 794.5 657.1 795.2 658.2 795.9 659.3 796.6 660.4 797.3 661.5 798.1 662.6 798.8 663.6 799.5 664.7 800.2 665.8 800.8 666.9 801.4 668 802 669.1 802.5 670.2 803 671.3 803.5 672.4 804 673.5 804.4 674.6 804.9 675.7 805.3 676.8 805.7 677.8 806.2 678.9 806.6 680 807 681.1 807.4 682.2 807.9 683.3 808.3 684.4 808.7 685.5 809.2 686.6 809.7 687.7 810.1 688.8 810.6 689.9 811.1 690.9 811.5 692 812 693.1 812.5 694.2 812.9 695.3 813.4 696.4 813.9 697.5 814.3 698.6 814.7 699.7 815.2 700.8 815.6 701.9 816 703 816.4 704 816.8 705.1 817.2 706.2 817.6 707.3 818 708.4 818.4 709.5 818.8 710.6 819.2 711.7 819.5 712.8 819.9 713.9 820.2 715 820.6 716 820.9 717.1 821.2 718.2 821.5 719.3 821.9 720.4 822.1 721.5 822.4 722.6 822.7 723.7 823 724.8 823.2 725.9 823.5 727 823.7 728.1 824 729.1 824.2 730.2 824.4 731.3 824.6 732.4 824.8 733.5 825.1 734.6 825.2 735.7 825.4 736.8 825.6 737.9 825.8 739 826 740.1 826.1 741.2 826.3 742.2 826.4 743.3 826.5 744.4 826.7 745.5 826.8 746.6 826.9 747.7 827 748.8 827.1 749.9 827.2 751 827.3 752.1 827.4 753.2 827.5 754.3 827.6 755.3 827.7 756.4 827.8 757.5 827.9 758.6 828 759.7 828.1 760.8 828.1 761.9 828.2 763 828.3 764.1 828.3 765.2 828.4 766.3 828.5 767.4 828.5 768.5 828.6 769.5 828.7 770.6 828.7 771.7 828.8 772.8 828.9 773.9 829 775 829" fill="none" stroke="#111" stroke-width="1.05" stroke-dasharray="4.5 1.8 1.2 1.8" stroke-linejoin="round" opacity="1"/>
<path d="M448.6 831.9 449.7 832.1 450.8 832.2 451.9 832.4 453 832.5 454.1 832.7 455.1 832.8 456.2 833 457.3 833.1 458.4 833.3 459.5 833.4 460.6 833.6 461.7 833.8 462.8 834 463.9 834.2 465 834.5 466.1 834.8 467.1 835 468.2 835.3 469.3 835.6 470.4 835.9 471.5 836.1 472.6 836.4 473.7 836.6 474.8 836.8 475.9 837 477 837.1 478.1 837.2 479.2 837.3 480.2 837.4 481.3 837.3 482.4 837.2 483.5 837 484.6 836.7 485.7 836.3 486.8 835.8 487.9 835.3 489 834.6 490.1 833.6 491.2 832.4 492.3 830.8 493.4 828.7 494.4 826.3 495.5 823.7 496.6 821 497.7 818.1 498.8 815.2 499.9 812.3 501 809.5 502.1 806.9 503.2 804.5 504.3 802.1 505.4 799.7 506.4 797.3 507.5 795 508.6 792.7 509.7 790.5 510.8 788.5 511.9 786.7 513 785 514.1 783.5 515.2 782.4 516.3 781.7 517.4 781.3 518.5 781 519.5 781 520.6 780.9 521.7 780.9 522.8 780.7 523.9 780.6 525 780.5 526.1 780.5 527.2 780.5 528.3 780.5 529.4 780.4 530.5 780.3 531.6 780.1 532.6 779.9 533.7 779.6 534.8 779.4 535.9 779.1 537 778.9 538.1 778.6 539.2 778.3 540.3 778 541.4 777.7 542.5 777.4 543.6 777.2 544.7 776.9 545.8 776.6 546.8 776.3 547.9 776 549 775.7 550.1 775.4 551.2 775.1 552.3 774.8 553.4 774.5 554.5 774.3 555.6 774 556.7 773.7 557.8 773.5 558.9 773.3 559.9 773 561 772.8 562.1 772.6 563.2 772.3 564.3 772.1 565.4 771.9 566.5 771.7 567.6 771.5 568.7 771.3 569.8 771.1 570.9 770.9 572 770.8 573 770.6 574.1 770.5 575.2 770.4 576.3 770.3 577.4 770.2 578.5 770.2 579.6 770.1 580.7 770.1 581.8 770.2 582.9 770.3 584 770.4 585 770.5 586.1 770.7 587.2 770.9 588.3 771.1 589.4 771.4 590.5 771.7 591.6 772 592.7 772.4 593.8 772.8 594.9 773.2 596 773.6 597.1 774 598.1 774.5 599.2 775 600.3 775.5 601.4 776.2 602.5 776.9 603.6 777.8 604.7 778.8 605.8 780 606.9 782.1 608 785.6 609.1 789.3 610.2 791.8 611.2 793.4 612.3 794.8 613.4 796 614.5 797.1 615.6 798.1 616.7 798.9 617.8 799.7 618.9 800.4 620 801.1 621.1 801.6 622.2 802.1 623.3 802.5 624.4 802.7 625.4 803 626.5 803.1 627.6 803.2 628.7 803.2 629.8 803.1 630.9 803 632 802.8 633.1 802.6 634.2 802.3 635.3 802.1 636.4 801.9 637.5 801.8 638.5 801.7 639.6 801.7 640.7 801.8 641.8 801.9 642.9 802 644 802.2 645.1 802.5 646.2 802.8 647.3 803.1 648.4 803.5 649.5 804 650.5 804.5 651.6 805.1 652.7 805.7 653.8 806.3 654.9 806.9 656 807.5 657.1 808 658.2 808.6 659.3 809.1 660.4 809.6 661.5 810 662.6 810.5 663.6 811 664.7 811.4 665.8 811.9 666.9 812.3 668 812.7 669.1 813.1 670.2 813.5 671.3 813.9 672.4 814.3 673.5 814.7 674.6 815.1 675.7 815.5 676.8 815.8 677.8 816.2 678.9 816.5 680 816.9 681.1 817.2 682.2 817.5 683.3 817.9 684.4 818.2 685.5 818.5 686.6 818.8 687.7 819.1 688.8 819.4 689.9 819.7 690.9 819.9 692 820.2 693.1 820.5 694.2 820.7 695.3 820.9 696.4 821.2 697.5 821.4 698.6 821.6 699.7 821.8 700.8 822 701.9 822.2 703 822.4 704 822.6 705.1 822.8 706.2 823 707.3 823.2 708.4 823.4 709.5 823.6 710.6 823.7 711.7 823.9 712.8 824.1 713.9 824.2 715 824.4 716 824.5 717.1 824.6 718.2 824.8 719.3 824.9 720.4 825.1 721.5 825.2 722.6 825.3 723.7 825.4 724.8 825.5 725.9 825.7 727 825.8 728.1 825.9 729.1 826 730.2 826.1 731.3 826.2 732.4 826.3 733.5 826.4 734.6 826.5 735.7 826.6 736.8 826.6 737.9 826.7 739 826.8 740.1 826.9 741.2 826.9 742.2 827 743.3 827.1 744.4 827.1 745.5 827.2 746.6 827.2 747.7 827.3 748.8 827.3 749.9 827.4 751 827.4 752.1 827.4 753.2 827.5 754.3 827.5 755.3 827.5 756.4 827.5 757.5 827.6 758.6 827.6 759.7 827.6 760.8 827.6 761.9 827.6 763 827.6 764.1 827.6 765.2 827.6 766.3 827.6 767.4 827.6 768.5 827.6 769.5 827.6 770.6 827.6 771.7 827.6 772.8 827.6 773.9 827.6 775 827.6" fill="none" stroke="#111" stroke-width="1.05" stroke-dasharray="3.6 2.2" stroke-linejoin="round" opacity="1"/>
<path d="M448.6 833.3 449.7 833.5 450.8 833.6 451.9 833.8 453 834 454.1 834.1 455.1 834.3 456.2 834.4 457.3 834.6 458.4 834.7 459.5 834.9 460.6 835.1 461.7 835.2 462.8 835.4 463.9 835.7 465 835.9 466.1 836.1 467.1 836.4 468.2 836.6 469.3 836.9 470.4 837.1 471.5 837.4 472.6 837.6 473.7 837.8 474.8 838 475.9 838.1 477 838.3 478.1 838.4 479.2 838.4 480.2 838.5 481.3 838.5 482.4 838.4 483.5 838.2 484.6 837.9 485.7 837.5 486.8 837 487.9 836.5 489 835.9 490.1 835 491.2 833.8 492.3 832.2 493.4 830.1 494.4 827.8 495.5 825.2 496.6 822.4 497.7 819.5 498.8 816.6 499.9 813.7 501 810.9 502.1 808.4 503.2 806 504.3 803.6 505.4 801.2 506.4 798.8 507.5 796.5 508.6 794.3 509.7 792.2 510.8 790.2 511.9 788.3 513 786.7 514.1 785.2 515.2 784.1 516.3 783.4 517.4 783 518.5 782.7 519.5 782.7 520.6 782.6 521.7 782.6 522.8 782.5 523.9 782.4 525 782.4 526.1 782.4 527.2 782.5 528.3 782.6 529.4 782.6 530.5 782.6 531.6 782.4 532.6 782.3 533.7 782.1 534.8 781.9 535.9 781.7 537 781.5 538.1 781.3 539.2 781 540.3 780.8 541.4 780.6 542.5 780.3 543.6 780.1 544.7 779.9 545.8 779.6 546.8 779.4 547.9 779.1 549 778.9 550.1 778.7 551.2 778.4 552.3 778.2 553.4 778 554.5 777.8 555.6 777.5 556.7 777.3 557.8 777.1 558.9 776.9 559.9 776.8 561 776.6 562.1 776.4 563.2 776.2 564.3 776 565.4 775.8 566.5 775.7 567.6 775.5 568.7 775.3 569.8 775.2 570.9 775 572 774.9 573 774.8 574.1 774.7 575.2 774.6 576.3 774.5 577.4 774.5 578.5 774.5 579.6 774.4 580.7 774.5 581.8 774.5 582.9 774.5 584 774.6 585 774.7 586.1 774.8 587.2 775 588.3 775.2 589.4 775.5 590.5 775.8 591.6 776.1 592.7 776.5 593.8 777 594.9 777.5 596 778.1 597.1 778.7 598.1 779.4 599.2 780.2 600.3 781.1 601.4 782 602.5 783.1 603.6 784.3 604.7 785.6 605.8 787.1 606.9 789.6 608 793.7 609.1 797.8 610.2 800.4 611.2 801.8 612.3 802.9 613.4 803.7 614.5 804.4 615.6 804.9 616.7 805.3 617.8 805.7 618.9 806.1 620 806.5 621.1 806.8 622.2 807.1 623.3 807.2 624.4 807.4 625.4 807.4 626.5 807.5 627.6 807.5 628.7 807.4 629.8 807.3 630.9 807.2 632 807 633.1 806.8 634.2 806.6 635.3 806.4 636.4 806.2 637.5 806.1 638.5 806 639.6 806.1 640.7 806.1 641.8 806.2 642.9 806.3 644 806.5 645.1 806.8 646.2 807.1 647.3 807.4 648.4 807.8 649.5 808.3 650.5 808.8 651.6 809.4 652.7 810 653.8 810.6 654.9 811.2 656 811.8 657.1 812.3 658.2 812.9 659.3 813.4 660.4 813.9 661.5 814.3 662.6 814.8 663.6 815.2 664.7 815.7 665.8 816.1 666.9 816.6 668 817 669.1 817.4 670.2 817.8 671.3 818.2 672.4 818.6 673.5 819 674.6 819.4 675.7 819.8 676.8 820.2 677.8 820.6 678.9 821 680 821.4 681.1 821.8 682.2 822.1 683.3 822.5 684.4 822.9 685.5 823.2 686.6 823.5 687.7 823.9 688.8 824.2 689.9 824.5 690.9 824.8 692 825.1 693.1 825.4 694.2 825.7 695.3 825.9 696.4 826.2 697.5 826.4 698.6 826.7 699.7 826.9 700.8 827.1 701.9 827.3 703 827.5 704 827.8 705.1 828 706.2 828.2 707.3 828.4 708.4 828.6 709.5 828.8 710.6 828.9 711.7 829.1 712.8 829.3 713.9 829.5 715 829.7 716 829.8 717.1 830 718.2 830.2 719.3 830.3 720.4 830.5 721.5 830.6 722.6 830.7 723.7 830.9 724.8 831 725.9 831.1 727 831.2 728.1 831.4 729.1 831.5 730.2 831.6 731.3 831.7 732.4 831.8 733.5 831.8 734.6 831.9 735.7 832 736.8 832.1 737.9 832.2 739 832.2 740.1 832.3 741.2 832.4 742.2 832.5 743.3 832.5 744.4 832.6 745.5 832.7 746.6 832.7 747.7 832.8 748.8 832.9 749.9 832.9 751 833 752.1 833 753.2 833.1 754.3 833.1 755.3 833.2 756.4 833.2 757.5 833.3 758.6 833.3 759.7 833.3 760.8 833.4 761.9 833.4 763 833.4 764.1 833.4 765.2 833.4 766.3 833.4 767.4 833.4 768.5 833.4 769.5 833.4 770.6 833.4 771.7 833.3 772.8 833.3 773.9 833.3 775 833.3" fill="none" stroke="#111" stroke-width="1.05" stroke-dasharray="4 2.2" stroke-linejoin="round" opacity="1"/>
<path d="M448.6 834.8 449.7 834.9 450.8 835 451.9 835.2 453 835.3 454.1 835.4 455.1 835.6 456.2 835.7 457.3 835.8 458.4 836 459.5 836.1 460.6 836.3 461.7 836.4 462.8 836.6 463.9 836.7 465 836.9 466.1 837.1 467.1 837.3 468.2 837.5 469.3 837.7 470.4 837.9 471.5 838.1 472.6 838.3 473.7 838.5 474.8 838.6 475.9 838.7 477 838.8 478.1 838.9 479.2 839 480.2 839 481.3 839 482.4 838.9 483.5 838.7 484.6 838.4 485.7 838 486.8 837.6 487.9 837.1 489 836.4 490.1 835.5 491.2 834.3 492.3 832.7 493.4 830.8 494.4 828.6 495.5 826.2 496.6 823.6 497.7 820.9 498.8 818.2 499.9 815.5 501 812.9 502.1 810.4 503.2 808 504.3 805.6 505.4 803.2 506.4 800.7 507.5 798.3 508.6 795.9 509.7 793.7 510.8 791.6 511.9 789.6 513 787.9 514.1 786.4 515.2 785.2 516.3 784.5 517.4 784 518.5 783.8 519.5 783.7 520.6 783.7 521.7 783.7 522.8 783.6 523.9 783.6 525 783.7 526.1 783.8 527.2 784 528.3 784.2 529.4 784.4 530.5 784.5 531.6 784.5 532.6 784.5 533.7 784.5 534.8 784.4 535.9 784.4 537 784.3 538.1 784.3 539.2 784.2 540.3 784.2 541.4 784.1 542.5 784 543.6 783.9 544.7 783.9 545.8 783.8 546.8 783.7 547.9 783.7 549 783.6 550.1 783.5 551.2 783.4 552.3 783.3 553.4 783.2 554.5 783.1 555.6 782.9 556.7 782.8 557.8 782.7 558.9 782.6 559.9 782.5 561 782.4 562.1 782.3 563.2 782.3 564.3 782.2 565.4 782.3 566.5 782.3 567.6 782.4 568.7 782.5 569.8 782.7 570.9 782.8 572 783 573 783.3 574.1 783.5 575.2 783.8 576.3 784.1 577.4 784.4 578.5 784.7 579.6 785.1 580.7 785.5 581.8 785.9 582.9 786.3 584 786.7 585 787.2 586.1 787.6 587.2 788.1 588.3 788.6 589.4 789.2 590.5 789.8 591.6 790.4 592.7 791.1 593.8 791.9 594.9 792.7 596 793.6 597.1 794.5 598.1 795.5 599.2 796.5 600.3 797.5 601.4 798.8 602.5 800.2 603.6 801.7 604.7 803.3 605.8 804.9 606.9 806.3 608 807.6 609.1 808.5 610.2 809.3 611.2 809.9 612.3 810.4 613.4 810.9 614.5 811.2 615.6 811.5 616.7 811.8 617.8 812.1 618.9 812.4 620 812.8 621.1 813.1 622.2 813.4 623.3 813.7 624.4 813.9 625.4 814 626.5 814.1 627.6 814.1 628.7 813.9 629.8 813.7 630.9 813.4 632 813.1 633.1 812.7 634.2 812.3 635.3 812 636.4 811.7 637.5 811.4 638.5 811.2 639.6 811.2 640.7 811.1 641.8 811.2 642.9 811.3 644 811.5 645.1 811.7 646.2 812 647.3 812.3 648.4 812.7 649.5 813.2 650.5 813.7 651.6 814.3 652.7 814.8 653.8 815.4 654.9 816.1 656 816.7 657.1 817.2 658.2 817.8 659.3 818.3 660.4 818.7 661.5 819.2 662.6 819.7 663.6 820.1 664.7 820.6 665.8 821 666.9 821.5 668 821.9 669.1 822.3 670.2 822.7 671.3 823.1 672.4 823.5 673.5 823.9 674.6 824.3 675.7 824.7 676.8 825 677.8 825.4 678.9 825.7 680 826.1 681.1 826.4 682.2 826.7 683.3 827.1 684.4 827.4 685.5 827.7 686.6 828 687.7 828.3 688.8 828.6 689.9 828.8 690.9 829.1 692 829.4 693.1 829.6 694.2 829.9 695.3 830.1 696.4 830.4 697.5 830.6 698.6 830.8 699.7 831 700.8 831.2 701.9 831.4 703 831.6 704 831.8 705.1 832 706.2 832.2 707.3 832.4 708.4 832.6 709.5 832.7 710.6 832.9 711.7 833.1 712.8 833.2 713.9 833.4 715 833.5 716 833.7 717.1 833.8 718.2 834 719.3 834.1 720.4 834.2 721.5 834.4 722.6 834.5 723.7 834.6 724.8 834.7 725.9 834.9 727 835 728.1 835.1 729.1 835.2 730.2 835.3 731.3 835.5 732.4 835.6 733.5 835.7 734.6 835.8 735.7 835.9 736.8 836 737.9 836.1 739 836.2 740.1 836.3 741.2 836.4 742.2 836.5 743.3 836.6 744.4 836.7 745.5 836.8 746.6 836.8 747.7 836.9 748.8 837 749.9 837.1 751 837.1 752.1 837.2 753.2 837.3 754.3 837.3 755.3 837.4 756.4 837.5 757.5 837.5 758.6 837.6 759.7 837.7 760.8 837.7 761.9 837.8 763 837.8 764.1 837.8 765.2 837.9 766.3 837.9 767.4 838 768.5 838 769.5 838 770.6 838.1 771.7 838.1 772.8 838.1 773.9 838.2 775 838.2" fill="none" stroke="#111" stroke-width="1.05" stroke-dasharray="4 2" stroke-linejoin="round" opacity="1"/>
<path d="M448.6 836.2 449.7 836.3 450.8 836.5 451.9 836.6 453 836.7 454.1 836.9 455.1 837 456.2 837.1 457.3 837.3 458.4 837.4 459.5 837.6 460.6 837.7 461.7 837.8 462.8 838 463.9 838.2 465 838.4 466.1 838.6 467.1 838.8 468.2 839 469.3 839.2 470.4 839.4 471.5 839.6 472.6 839.7 473.7 839.9 474.8 840 475.9 840.2 477 840.3 478.1 840.3 479.2 840.4 480.2 840.5 481.3 840.4 482.4 840.4 483.5 840.2 484.6 839.9 485.7 839.5 486.8 839 487.9 838.5 489 837.9 490.1 837 491.2 835.8 492.3 834.2 493.4 832.2 494.4 829.9 495.5 827.4 496.6 824.7 497.7 821.9 498.8 819.1 499.9 816.3 501 813.6 502.1 811.1 503.2 808.7 504.3 806.3 505.4 803.9 506.4 801.5 507.5 799.2 508.6 796.9 509.7 794.7 510.8 792.7 511.9 790.8 513 789.2 514.1 787.8 515.2 786.7 516.3 786.1 517.4 785.8 518.5 785.7 519.5 785.7 520.6 785.9 521.7 785.9 522.8 785.9 523.9 785.9 525 786 526.1 786.2 527.2 786.4 528.3 786.6 529.4 786.7 530.5 786.8 531.6 786.8 532.6 786.7 533.7 786.7 534.8 786.6 535.9 786.5 537 786.4 538.1 786.3 539.2 786.2 540.3 786.1 541.4 786 542.5 785.8 543.6 785.7 544.7 785.6 545.8 785.5 546.8 785.4 547.9 785.3 549 785.2 550.1 785.1 551.2 785 552.3 784.8 553.4 784.7 554.5 784.6 555.6 784.4 556.7 784.3 557.8 784.1 558.9 784 559.9 783.9 561 783.8 562.1 783.7 563.2 783.6 564.3 783.6 565.4 783.6 566.5 783.7 567.6 783.8 568.7 783.9 569.8 784 570.9 784.2 572 784.5 573 784.7 574.1 785 575.2 785.3 576.3 785.6 577.4 785.9 578.5 786.3 579.6 786.7 580.7 787.1 581.8 787.5 582.9 788 584 788.4 585 788.9 586.1 789.4 587.2 789.9 588.3 790.5 589.4 791 590.5 791.7 591.6 792.4 592.7 793.1 593.8 793.9 594.9 794.8 596 795.7 597.1 796.7 598.1 797.7 599.2 798.8 600.3 799.8 601.4 801.1 602.5 802.5 603.6 804.1 604.7 805.7 605.8 807.2 606.9 808.6 608 809.9 609.1 810.8 610.2 811.6 611.2 812.1 612.3 812.6 613.4 813 614.5 813.3 615.6 813.5 616.7 813.7 617.8 814 618.9 814.3 620 814.5 621.1 814.8 622.2 815 623.3 815.2 624.4 815.4 625.4 815.4 626.5 815.5 627.6 815.4 628.7 815.3 629.8 815.2 630.9 814.9 632 814.6 633.1 814.4 634.2 814.1 635.3 813.8 636.4 813.6 637.5 813.4 638.5 813.3 639.6 813.3 640.7 813.3 641.8 813.4 642.9 813.5 644 813.7 645.1 814 646.2 814.3 647.3 814.6 648.4 815 649.5 815.4 650.5 815.9 651.6 816.4 652.7 817 653.8 817.5 654.9 818.1 656 818.6 657.1 819.1 658.2 819.6 659.3 820.1 660.4 820.5 661.5 821 662.6 821.4 663.6 821.8 664.7 822.2 665.8 822.6 666.9 823 668 823.4 669.1 823.8 670.2 824.2 671.3 824.6 672.4 824.9 673.5 825.3 674.6 825.6 675.7 826 676.8 826.3 677.8 826.7 678.9 827 680 827.3 681.1 827.6 682.2 828 683.3 828.3 684.4 828.6 685.5 828.9 686.6 829.2 687.7 829.4 688.8 829.7 689.9 830 690.9 830.3 692 830.5 693.1 830.8 694.2 831 695.3 831.3 696.4 831.5 697.5 831.7 698.6 831.9 699.7 832.2 700.8 832.4 701.9 832.6 703 832.8 704 833 705.1 833.2 706.2 833.4 707.3 833.5 708.4 833.7 709.5 833.9 710.6 834.1 711.7 834.2 712.8 834.4 713.9 834.5 715 834.7 716 834.8 717.1 835 718.2 835.1 719.3 835.2 720.4 835.4 721.5 835.5 722.6 835.6 723.7 835.8 724.8 835.9 725.9 836 727 836.1 728.1 836.3 729.1 836.4 730.2 836.5 731.3 836.6 732.4 836.7 733.5 836.8 734.6 836.9 735.7 837.1 736.8 837.2 737.9 837.3 739 837.4 740.1 837.5 741.2 837.5 742.2 837.6 743.3 837.7 744.4 837.8 745.5 837.9 746.6 838 747.7 838.1 748.8 838.1 749.9 838.2 751 838.3 752.1 838.3 753.2 838.4 754.3 838.5 755.3 838.5 756.4 838.6 757.5 838.7 758.6 838.7 759.7 838.8 760.8 838.9 761.9 838.9 763 839 764.1 839 765.2 839.1 766.3 839.1 767.4 839.2 768.5 839.2 769.5 839.3 770.6 839.3 771.7 839.3 772.8 839.4 773.9 839.4 775 839.5" fill="none" stroke="#111" stroke-width="1.05" stroke-dasharray="4.5 1.8 1.2 1.8" stroke-linejoin="round" opacity="1"/>
<path d="M448.6 840.5 449.7 840.6 450.8 840.8 451.9 840.9 453 841 454.1 841.2 455.1 841.3 456.2 841.4 457.3 841.6 458.4 841.7 459.5 841.9 460.6 842 461.7 842.2 462.8 842.3 463.9 842.5 465 842.7 466.1 842.9 467.1 843.1 468.2 843.3 469.3 843.5 470.4 843.7 471.5 843.9 472.6 844.1 473.7 844.2 474.8 844.4 475.9 844.5 477 844.6 478.1 844.6 479.2 844.7 480.2 844.8 481.3 844.7 482.4 844.7 483.5 844.5 484.6 844.2 485.7 843.8 486.8 843.4 487.9 843 489 842.4 490.1 841.5 491.2 840.3 492.3 838.5 493.4 836.3 494.4 833.6 495.5 830.7 496.6 827.5 497.7 824.2 498.8 820.9 499.9 817.7 501 814.6 502.1 811.8 503.2 809.3 504.3 806.9 505.4 804.4 506.4 802.1 507.5 799.8 508.6 797.6 509.7 795.6 510.8 793.7 511.9 792 513 790.5 514.1 789.2 515.2 788.2 516.3 787.7 517.4 787.5 518.5 787.6 519.5 787.8 520.6 788 521.7 788.2 522.8 788.2 523.9 788.3 525 788.4 526.1 788.6 527.2 788.8 528.3 788.9 529.4 789.1 530.5 789.1 531.6 789.1 532.6 789 533.7 788.9 534.8 788.8 535.9 788.7 537 788.5 538.1 788.4 539.2 788.2 540.3 788 541.4 787.8 542.5 787.7 543.6 787.5 544.7 787.3 545.8 787.2 546.8 787 547.9 786.9 549 786.8 550.1 786.7 551.2 786.5 552.3 786.4 553.4 786.2 554.5 786 555.6 785.9 556.7 785.7 557.8 785.5 558.9 785.4 559.9 785.3 561 785.2 562.1 785.1 563.2 785 564.3 785 565.4 785 566.5 785 567.6 785.1 568.7 785.3 569.8 785.4 570.9 785.6 572 785.9 573 786.1 574.1 786.4 575.2 786.7 576.3 787.1 577.4 787.4 578.5 787.8 579.6 788.2 580.7 788.7 581.8 789.1 582.9 789.6 584 790.1 585 790.6 586.1 791.2 587.2 791.7 588.3 792.3 589.4 792.9 590.5 793.6 591.6 794.3 592.7 795.1 593.8 796 594.9 796.9 596 797.9 597.1 798.9 598.1 800 599.2 801 600.3 802.1 601.4 803.4 602.5 804.9 603.6 806.4 604.7 808 605.8 809.6 606.9 811 608 812.2 609.1 813.1 610.2 813.8 611.2 814.4 612.3 814.8 613.4 815.1 614.5 815.3 615.6 815.5 616.7 815.7 617.8 815.9 618.9 816.1 620 816.3 621.1 816.5 622.2 816.6 623.3 816.7 624.4 816.8 625.4 816.9 626.5 816.9 627.6 816.8 628.7 816.7 629.8 816.6 630.9 816.4 632 816.2 633.1 816 634.2 815.8 635.3 815.7 636.4 815.5 637.5 815.4 638.5 815.4 639.6 815.4 640.7 815.5 641.8 815.6 642.9 815.8 644 816 645.1 816.3 646.2 816.6 647.3 816.9 648.4 817.3 649.5 817.7 650.5 818.1 651.6 818.6 652.7 819.1 653.8 819.6 654.9 820.1 656 820.6 657.1 821.1 658.2 821.5 659.3 821.9 660.4 822.3 661.5 822.7 662.6 823.1 663.6 823.5 664.7 823.9 665.8 824.2 666.9 824.6 668 825 669.1 825.3 670.2 825.7 671.3 826 672.4 826.3 673.5 826.7 674.6 827 675.7 827.3 676.8 827.6 677.8 828 678.9 828.3 680 828.6 681.1 828.9 682.2 829.2 683.3 829.5 684.4 829.8 685.5 830.1 686.6 830.3 687.7 830.6 688.8 830.9 689.9 831.2 690.9 831.4 692 831.7 693.1 831.9 694.2 832.2 695.3 832.4 696.4 832.6 697.5 832.9 698.6 833.1 699.7 833.3 700.8 833.5 701.9 833.7 703 833.9 704 834.1 705.1 834.3 706.2 834.5 707.3 834.7 708.4 834.9 709.5 835 710.6 835.2 711.7 835.4 712.8 835.5 713.9 835.7 715 835.8 716 836 717.1 836.1 718.2 836.3 719.3 836.4 720.4 836.5 721.5 836.7 722.6 836.8 723.7 836.9 724.8 837 725.9 837.2 727 837.3 728.1 837.4 729.1 837.5 730.2 837.6 731.3 837.8 732.4 837.9 733.5 838 734.6 838.1 735.7 838.2 736.8 838.3 737.9 838.4 739 838.5 740.1 838.6 741.2 838.7 742.2 838.8 743.3 838.9 744.4 839 745.5 839 746.6 839.1 747.7 839.2 748.8 839.3 749.9 839.3 751 839.4 752.1 839.5 753.2 839.6 754.3 839.6 755.3 839.7 756.4 839.8 757.5 839.8 758.6 839.9 759.7 839.9 760.8 840 761.9 840.1 763 840.1 764.1 840.2 765.2 840.2 766.3 840.3 767.4 840.4 768.5 840.4 769.5 840.5 770.6 840.5 771.7 840.6 772.8 840.6 773.9 840.7 775 840.7" fill="none" stroke="#111" stroke-width="1.05" stroke-dasharray="3.6 2.2" stroke-linejoin="round" opacity="1"/>
<path d="M448.6 843.4 449.7 843.5 450.8 843.7 451.9 843.8 453 843.9 454.1 844.1 455.1 844.2 456.2 844.3 457.3 844.5 458.4 844.6 459.5 844.7 460.6 844.9 461.7 845 462.8 845.2 463.9 845.4 465 845.6 466.1 845.7 467.1 846 468.2 846.2 469.3 846.4 470.4 846.6 471.5 846.8 472.6 846.9 473.7 847.1 474.8 847.2 475.9 847.3 477 847.4 478.1 847.5 479.2 847.6 480.2 847.6 481.3 847.6 482.4 847.5 483.5 847.4 484.6 847.1 485.7 846.7 486.8 846.3 487.9 845.9 489 845.3 490.1 844.5 491.2 843.2 492.3 841.4 493.4 839 494.4 836.1 495.5 832.9 496.6 829.4 497.7 825.8 498.8 822.2 499.9 818.7 501 815.5 502.1 812.5 503.2 810 504.3 807.5 505.4 805.1 506.4 802.8 507.5 800.6 508.6 798.5 509.7 796.6 510.8 794.8 511.9 793.2 513 791.8 514.1 790.5 515.2 789.7 516.3 789.3 517.4 789.3 518.5 789.5 519.5 789.8 520.6 790.1 521.7 790.4 522.8 790.5 523.9 790.6 525 790.8 526.1 791 527.2 791.1 528.3 791.3 529.4 791.4 530.5 791.4 531.6 791.4 532.6 791.3 533.7 791.1 534.8 791 535.9 790.8 537 790.6 538.1 790.4 539.2 790.2 540.3 789.9 541.4 789.7 542.5 789.5 543.6 789.3 544.7 789.1 545.8 788.9 546.8 788.7 547.9 788.5 549 788.4 550.1 788.2 551.2 788.1 552.3 787.9 553.4 787.7 554.5 787.5 555.6 787.3 556.7 787.1 557.8 787 558.9 786.8 559.9 786.7 561 786.6 562.1 786.5 563.2 786.4 564.3 786.4 565.4 786.4 566.5 786.4 567.6 786.5 568.7 786.6 569.8 786.8 570.9 787 572 787.3 573 787.6 574.1 787.9 575.2 788.2 576.3 788.6 577.4 789 578.5 789.4 579.6 789.8 580.7 790.3 581.8 790.8 582.9 791.3 584 791.8 585 792.4 586.1 792.9 587.2 793.5 588.3 794.1 589.4 794.7 590.5 795.5 591.6 796.2 592.7 797.1 593.8 798 594.9 799 596 800 597.1 801.1 598.1 802.2 599.2 803.3 600.3 804.4 601.4 805.7 602.5 807.2 603.6 808.8 604.7 810.4 605.8 811.9 606.9 813.3 608 814.5 609.1 815.4 610.2 816.1 611.2 816.6 612.3 816.9 613.4 817.2 614.5 817.4 615.6 817.5 616.7 817.6 617.8 817.8 618.9 817.9 620 818.1 621.1 818.2 622.2 818.2 623.3 818.3 624.4 818.3 625.4 818.3 626.5 818.2 627.6 818.2 628.7 818.2 629.8 818.1 630.9 818 632 817.8 633.1 817.7 634.2 817.6 635.3 817.5 636.4 817.4 637.5 817.4 638.5 817.4 639.6 817.5 640.7 817.6 641.8 817.8 642.9 818 644 818.3 645.1 818.6 646.2 818.9 647.3 819.2 648.4 819.6 649.5 819.9 650.5 820.3 651.6 820.8 652.7 821.2 653.8 821.7 654.9 822.1 656 822.5 657.1 823 658.2 823.4 659.3 823.7 660.4 824.1 661.5 824.5 662.6 824.8 663.6 825.2 664.7 825.5 665.8 825.8 666.9 826.2 668 826.5 669.1 826.8 670.2 827.1 671.3 827.4 672.4 827.7 673.5 828 674.6 828.3 675.7 828.6 676.8 828.9 677.8 829.2 678.9 829.5 680 829.8 681.1 830.1 682.2 830.4 683.3 830.7 684.4 831 685.5 831.3 686.6 831.5 687.7 831.8 688.8 832.1 689.9 832.3 690.9 832.6 692 832.8 693.1 833.1 694.2 833.3 695.3 833.5 696.4 833.8 697.5 834 698.6 834.2 699.7 834.4 700.8 834.6 701.9 834.9 703 835.1 704 835.3 705.1 835.5 706.2 835.7 707.3 835.8 708.4 836 709.5 836.2 710.6 836.4 711.7 836.5 712.8 836.7 713.9 836.8 715 837 716 837.1 717.1 837.3 718.2 837.4 719.3 837.5 720.4 837.7 721.5 837.8 722.6 837.9 723.7 838.1 724.8 838.2 725.9 838.3 727 838.4 728.1 838.6 729.1 838.7 730.2 838.8 731.3 838.9 732.4 839 733.5 839.1 734.6 839.2 735.7 839.3 736.8 839.5 737.9 839.6 739 839.7 740.1 839.7 741.2 839.8 742.2 839.9 743.3 840 744.4 840.1 745.5 840.2 746.6 840.3 747.7 840.3 748.8 840.4 749.9 840.5 751 840.6 752.1 840.6 753.2 840.7 754.3 840.8 755.3 840.8 756.4 840.9 757.5 841 758.6 841 759.7 841.1 760.8 841.2 761.9 841.2 763 841.3 764.1 841.4 765.2 841.4 766.3 841.5 767.4 841.6 768.5 841.6 769.5 841.7 770.6 841.8 771.7 841.8 772.8 841.9 773.9 841.9 775 842" fill="none" stroke="#111" stroke-width="1.05" stroke-dasharray="4 2.2" stroke-linejoin="round" opacity="1"/>
<path d="M448.6 813.8 449.6 814.1 450.7 814.4 451.7 814.7 452.8 815 453.8 815.3 454.9 815.6 455.9 815.9 456.9 816.2 458 816.5 459 816.8 460.1 817.1 461.1 817.3 462.2 817.6 463.2 817.9 464.3 818.1 465.3 818.4 466.3 818.6 467.4 818.8 468.4 819.1 469.5 819.3 470.5 819.5 471.6 819.7 472.6 819.9 473.7 820.1 474.7 820.3 475.7 820.5 476.8 820.7 477.8 820.8 478.9 820.9 479.9 821 481 821.1 482 821.1 483.1 821 484.1 820.8 485.1 820.4 486.2 820 487.2 819.4 488.3 818.7 489.3 817.9 490.4 816.8 491.4 815.6 492.4 814 493.5 812.3 494.5 810.4 495.6 808.3 496.6 806.3 497.7 804.1 498.7 801.8 499.8 799.4 500.8 797 501.8 794.6 502.9 792.2 503.9 789.8 505 787.4 506 785 507.1 782.6 508.1 780.4 509.2 778.4 510.2 776.4 511.2 774.5 512.3 772.8 513.3 771.1 514.4 769.6 515.4 768.2 516.5 766.9 517.5 765.7 518.6 764.6 519.6 763.7 520.6 762.8 521.7 762.1 522.7 761.4 523.8 760.9 524.8 760.4 525.9 759.9 526.9 759.6 528 759.4 529 759.2 530 759 531.1 758.7 532.1 758.4 533.2 758.1 534.2 757.8 535.3 757.4 536.3 757.1 537.3 756.7 538.4 756.4 539.4 756 540.5 755.5 541.5 755.1 542.6 754.6 543.6 754.1 544.7 753.6 545.7 753 546.7 752.5 547.8 751.9 548.8 751.3 549.9 750.6 550.9 749.9 552 749.2 553 748.5 554.1 747.8 555.1 747.1 556.1 746.4 557.2 745.7 558.2 745 559.3 744.2 560.3 743.5 561.4 742.8 562.4 742.1 563.5 741.4 564.5 740.7 565.5 740.1 566.6 739.5 567.6 738.9 568.7 738.3 569.7 737.8 570.8 737.3 571.8 736.8 572.9 736.3 573.9 735.9 574.9 735.4 576 735 577 734.6 578.1 734.2 579.1 733.9 580.2 733.5 581.2 733.2 582.2 733 583.3 732.7 584.3 732.5 585.4 732.3 586.4 732.2 587.5 732.1 588.5 732 589.6 731.9 590.6 731.9 591.6 731.9 592.7 732 593.7 732.1 594.8 732.3 595.8 732.5 596.9 732.7 597.9 732.9 599 733.2 600 733.6 601 734 602.1 734.5 603.1 735.1 604.2 735.8 605.2 736.5 606.3 737.4 607.3 738.2 608.4 739.2 609.4 740.2 610.4 741.3 611.5 742.6 612.5 744.1 613.6 746 614.6 748 615.7 749.8 616.7 751.3 617.8 752.7 618.8 754.1 619.8 755.3 620.9 756.5 621.9 757.6 623 758.5 624 759.4 625.1 760.2 626.1 760.9 627.2 761.4 628.2 761.9 629.2 762.3 630.3 762.5 631.3 762.7 632.4 762.9 633.4 763 634.5 763.1 635.5 763.1 636.5 763.1 637.6 763 638.6 763 639.7 762.9 640.7 762.7 641.8 762.6 642.8 762.4 643.9 762.3 644.9 762.3 645.9 762.4 647 762.6 648 763 649.1 763.5 650.1 764 651.2 764.6 652.2 765.2 653.3 765.9 654.3 766.6 655.3 767.3 656.4 768 657.4 768.8 658.5 769.6 659.5 770.4 660.6 771.2 661.6 772 662.7 772.8 663.7 773.5 664.7 774.2 665.8 775 666.8 775.7 667.9 776.5 668.9 777.2 670 777.9 671 778.6 672.1 779.4 673.1 780.1 674.1 780.7 675.2 781.4 676.2 782.1 677.3 782.8 678.3 783.5 679.4 784.1 680.4 784.8 681.4 785.4 682.5 786 683.5 786.7 684.6 787.3 685.6 787.8 686.7 788.4 687.7 789 688.8 789.5 689.8 790 690.8 790.5 691.9 791 692.9 791.5 694 792 695 792.5 696.1 793 697.1 793.5 698.2 794 699.2 794.4 700.2 794.9 701.3 795.4 702.3 795.8 703.4 796.2 704.4 796.7 705.5 797.1 706.5 797.5 707.6 797.9 708.6 798.3 709.6 798.7 710.7 799 711.7 799.4 712.8 799.7 713.8 800 714.9 800.4 715.9 800.7 717 801 718 801.3 719 801.7 720.1 802 721.1 802.3 722.2 802.6 723.2 803 724.3 803.3 725.3 803.6 726.3 803.9 727.4 804.3 728.4 804.6 729.5 804.8 730.5 805.1 731.6 805.4 732.6 805.6 733.7 805.9 734.7 806.1 735.7 806.3 736.8 806.5 737.8 806.7 738.9 806.9 739.9 807.1 741 807.3 742 807.4 743.1 807.6 744.1 807.8 745.1 807.9 746.2 808 747.2 808.2 748.3 808.3 749.3 808.4 750.4 808.5 751.4 808.7 752.5 808.8 753.5 808.9 754.5 809 755.6 809.1 756.6 809.2 757.7 809.3 758.7 809.3 759.8 809.4 760.8 809.5" fill="none" stroke="#000" stroke-width="4.0" stroke-linejoin="round" opacity="1"/>
</g>
</svg></body></html>
